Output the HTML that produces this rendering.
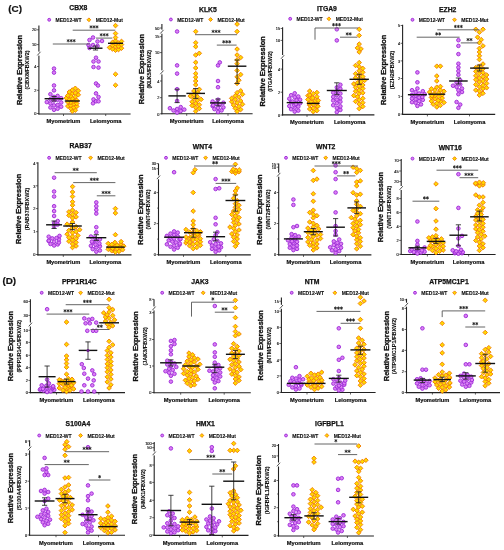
<!DOCTYPE html><html><head><meta charset="utf-8"><style>html,body{margin:0;padding:0;background:#fff;width:504px;height:550px;overflow:hidden}svg{display:block;will-change:transform}text{font-family:"Liberation Sans", sans-serif}</style></head><body><svg width="504" height="550" viewBox="0 0 504 550">
<text x="15.2" y="8.4" font-size="9.9" text-anchor="middle" font-weight="bold" fill="#111" stroke="#111" stroke-width="0.2" dominant-baseline="central">(C)</text>
<text x="9.3" y="280.4" font-size="9.9" text-anchor="middle" font-weight="bold" fill="#111" stroke="#111" stroke-width="0.2" dominant-baseline="central">(D)</text>
<text x="78.3" y="7.8" font-size="6.8" text-anchor="middle" font-weight="bold" fill="#111" stroke="#111" stroke-width="0.25" dominant-baseline="central">CBX8</text>
<circle cx="49.2" cy="19.8" r="1.45" fill="#dc80f4" stroke="#9b27d6" stroke-width="0.9"/>
<text x="55.5" y="19.8" font-size="5.0" text-anchor="start" font-weight="bold" fill="#111" stroke="#111" stroke-width="0.12" dominant-baseline="central">MED12-WT</text>
<path d="M88.9 17.9L90.8 19.8L88.9 21.7L87.0 19.8Z" fill="#ffd900" stroke="#f07a00" stroke-width="0.9"/>
<text x="95.7" y="19.8" font-size="5.0" text-anchor="start" font-weight="bold" fill="#111" stroke="#111" stroke-width="0.12" dominant-baseline="central">MED12-Mut</text>
<line x1="38.9" y1="25.5" x2="38.9" y2="114.5" stroke="#222" stroke-width="1.1"/>
<line x1="38.4" y1="114.0" x2="130.6" y2="114.0" stroke="#222" stroke-width="1.1"/>
<line x1="36.9" y1="29.8" x2="38.9" y2="29.8" stroke="#222" stroke-width="0.7"/>
<text x="36.4" y="29.9" font-size="3.9" text-anchor="end" font-weight="normal" fill="#111" stroke="#111" stroke-width="0.15" dominant-baseline="central">20</text>
<line x1="36.9" y1="44.6" x2="38.9" y2="44.6" stroke="#222" stroke-width="0.7"/>
<text x="36.4" y="44.8" font-size="3.9" text-anchor="end" font-weight="normal" fill="#111" stroke="#111" stroke-width="0.15" dominant-baseline="central">10</text>
<line x1="36.9" y1="66.5" x2="38.9" y2="66.5" stroke="#222" stroke-width="0.7"/>
<text x="36.4" y="66.7" font-size="3.9" text-anchor="end" font-weight="normal" fill="#111" stroke="#111" stroke-width="0.15" dominant-baseline="central">4</text>
<line x1="36.9" y1="90.3" x2="38.9" y2="90.3" stroke="#222" stroke-width="0.7"/>
<text x="36.4" y="90.5" font-size="3.9" text-anchor="end" font-weight="normal" fill="#111" stroke="#111" stroke-width="0.15" dominant-baseline="central">2</text>
<line x1="36.9" y1="113.5" x2="38.9" y2="113.5" stroke="#222" stroke-width="0.7"/>
<text x="36.4" y="113.7" font-size="3.9" text-anchor="end" font-weight="normal" fill="#111" stroke="#111" stroke-width="0.15" dominant-baseline="central">0</text>
<rect x="37.4" y="51.6" width="3" height="4" fill="#fff"/>
<line x1="37.3" y1="55.4" x2="40.5" y2="51.8" stroke="#222" stroke-width="0.8"/>
<line x1="63.5" y1="114.0" x2="63.5" y2="116.0" stroke="#222" stroke-width="0.7"/>
<line x1="105.7" y1="114.0" x2="105.7" y2="116.0" stroke="#222" stroke-width="0.7"/>
<text x="63.5" y="120.6" font-size="5.7" text-anchor="middle" font-weight="bold" fill="#111" stroke="#111" stroke-width="0.2" dominant-baseline="central">Myometrium</text>
<text x="105.7" y="120.6" font-size="5.7" text-anchor="middle" font-weight="bold" fill="#111" stroke="#111" stroke-width="0.2" dominant-baseline="central">Leiomyoma</text>
<text x="19.3" y="70.0" font-size="7.4" text-anchor="middle" font-weight="bold" fill="#111" stroke="#111" stroke-width="0.3" dominant-baseline="central" transform="rotate(-90 19.3 70.0)">Relative Expression</text>
<text x="27.3" y="70.0" font-size="5.5" text-anchor="middle" font-weight="bold" fill="#111" stroke="#111" stroke-width="0.12" dominant-baseline="central" transform="rotate(-90 27.3 70.0)">(CBX8/FBXW2)</text>
<circle cx="54.0" cy="109.8" r="1.8" fill="#dc80f4" stroke="#9b27d6" stroke-width="0.9"/>
<circle cx="57.6" cy="108.7" r="1.8" fill="#dc80f4" stroke="#9b27d6" stroke-width="0.9"/>
<circle cx="50.4" cy="107.5" r="1.8" fill="#dc80f4" stroke="#9b27d6" stroke-width="0.9"/>
<circle cx="61.2" cy="106.7" r="1.8" fill="#dc80f4" stroke="#9b27d6" stroke-width="0.9"/>
<circle cx="54.0" cy="105.4" r="1.8" fill="#dc80f4" stroke="#9b27d6" stroke-width="0.9"/>
<circle cx="57.6" cy="104.9" r="1.8" fill="#dc80f4" stroke="#9b27d6" stroke-width="0.9"/>
<circle cx="50.4" cy="103.4" r="1.8" fill="#dc80f4" stroke="#9b27d6" stroke-width="0.9"/>
<circle cx="61.2" cy="102.5" r="1.8" fill="#dc80f4" stroke="#9b27d6" stroke-width="0.9"/>
<circle cx="46.8" cy="102.1" r="1.8" fill="#dc80f4" stroke="#9b27d6" stroke-width="0.9"/>
<circle cx="54.0" cy="100.5" r="1.8" fill="#dc80f4" stroke="#9b27d6" stroke-width="0.9"/>
<circle cx="57.6" cy="99.7" r="1.8" fill="#dc80f4" stroke="#9b27d6" stroke-width="0.9"/>
<circle cx="50.4" cy="99.2" r="1.8" fill="#dc80f4" stroke="#9b27d6" stroke-width="0.9"/>
<circle cx="61.2" cy="98.2" r="1.8" fill="#dc80f4" stroke="#9b27d6" stroke-width="0.9"/>
<circle cx="54.0" cy="96.9" r="1.8" fill="#dc80f4" stroke="#9b27d6" stroke-width="0.9"/>
<circle cx="57.6" cy="95.9" r="1.8" fill="#dc80f4" stroke="#9b27d6" stroke-width="0.9"/>
<circle cx="50.4" cy="94.2" r="1.8" fill="#dc80f4" stroke="#9b27d6" stroke-width="0.9"/>
<circle cx="54.0" cy="90.4" r="1.8" fill="#dc80f4" stroke="#9b27d6" stroke-width="0.9"/>
<circle cx="54.0" cy="85.5" r="1.8" fill="#dc80f4" stroke="#9b27d6" stroke-width="0.9"/>
<circle cx="54.0" cy="72.6" r="1.8" fill="#dc80f4" stroke="#9b27d6" stroke-width="0.9"/>
<circle cx="54.0" cy="68.6" r="1.8" fill="#dc80f4" stroke="#9b27d6" stroke-width="0.9"/>
<path d="M72.3 108.9L74.6 111.2L72.3 113.5L70.0 111.2Z" fill="#ffd900" stroke="#f07a00" stroke-width="0.9"/>
<path d="M75.3 107.9L77.6 110.2L75.3 112.5L73.0 110.2Z" fill="#ffd900" stroke="#f07a00" stroke-width="0.9"/>
<path d="M70.8 106.2L73.1 108.5L70.8 110.8L68.5 108.5Z" fill="#ffd900" stroke="#f07a00" stroke-width="0.9"/>
<path d="M73.8 105.1L76.1 107.4L73.8 109.7L71.5 107.4Z" fill="#ffd900" stroke="#f07a00" stroke-width="0.9"/>
<path d="M76.8 104.1L79.1 106.4L76.8 108.7L74.5 106.4Z" fill="#ffd900" stroke="#f07a00" stroke-width="0.9"/>
<path d="M67.8 103.8L70.1 106.1L67.8 108.4L65.5 106.1Z" fill="#ffd900" stroke="#f07a00" stroke-width="0.9"/>
<path d="M70.8 103.0L73.1 105.3L70.8 107.6L68.5 105.3Z" fill="#ffd900" stroke="#f07a00" stroke-width="0.9"/>
<path d="M73.8 101.7L76.1 104.0L73.8 106.3L71.5 104.0Z" fill="#ffd900" stroke="#f07a00" stroke-width="0.9"/>
<path d="M76.8 101.2L79.1 103.5L76.8 105.8L74.5 103.5Z" fill="#ffd900" stroke="#f07a00" stroke-width="0.9"/>
<path d="M70.8 100.1L73.1 102.4L70.8 104.7L68.5 102.4Z" fill="#ffd900" stroke="#f07a00" stroke-width="0.9"/>
<path d="M67.8 99.7L70.1 102.0L67.8 104.3L65.5 102.0Z" fill="#ffd900" stroke="#f07a00" stroke-width="0.9"/>
<path d="M73.8 98.8L76.1 101.1L73.8 103.4L71.5 101.1Z" fill="#ffd900" stroke="#f07a00" stroke-width="0.9"/>
<path d="M76.8 98.1L79.1 100.4L76.8 102.7L74.5 100.4Z" fill="#ffd900" stroke="#f07a00" stroke-width="0.9"/>
<path d="M69.3 97.2L71.6 99.5L69.3 101.8L67.0 99.5Z" fill="#ffd900" stroke="#f07a00" stroke-width="0.9"/>
<path d="M72.3 96.3L74.6 98.6L72.3 100.9L70.0 98.6Z" fill="#ffd900" stroke="#f07a00" stroke-width="0.9"/>
<path d="M66.3 95.8L68.6 98.1L66.3 100.4L64.0 98.1Z" fill="#ffd900" stroke="#f07a00" stroke-width="0.9"/>
<path d="M75.3 94.4L77.6 96.7L75.3 99.0L73.0 96.7Z" fill="#ffd900" stroke="#f07a00" stroke-width="0.9"/>
<path d="M70.8 93.8L73.1 96.1L70.8 98.4L68.5 96.1Z" fill="#ffd900" stroke="#f07a00" stroke-width="0.9"/>
<path d="M67.8 93.2L70.1 95.5L67.8 97.8L65.5 95.5Z" fill="#ffd900" stroke="#f07a00" stroke-width="0.9"/>
<path d="M78.3 92.5L80.6 94.8L78.3 97.1L76.0 94.8Z" fill="#ffd900" stroke="#f07a00" stroke-width="0.9"/>
<path d="M72.3 91.1L74.6 93.4L72.3 95.7L70.0 93.4Z" fill="#ffd900" stroke="#f07a00" stroke-width="0.9"/>
<path d="M75.3 90.6L77.6 92.9L75.3 95.2L73.0 92.9Z" fill="#ffd900" stroke="#f07a00" stroke-width="0.9"/>
<path d="M69.3 89.7L71.6 92.0L69.3 94.3L67.0 92.0Z" fill="#ffd900" stroke="#f07a00" stroke-width="0.9"/>
<path d="M78.3 88.5L80.6 90.8L78.3 93.1L76.0 90.8Z" fill="#ffd900" stroke="#f07a00" stroke-width="0.9"/>
<path d="M72.3 87.7L74.6 90.0L72.3 92.3L70.0 90.0Z" fill="#ffd900" stroke="#f07a00" stroke-width="0.9"/>
<path d="M75.3 86.0L77.6 88.3L75.3 90.6L73.0 88.3Z" fill="#ffd900" stroke="#f07a00" stroke-width="0.9"/>
<circle cx="93.0" cy="37.5" r="1.8" fill="#dc80f4" stroke="#9b27d6" stroke-width="0.9"/>
<circle cx="89.5" cy="40.0" r="1.8" fill="#dc80f4" stroke="#9b27d6" stroke-width="0.9"/>
<circle cx="97.5" cy="41.5" r="1.8" fill="#dc80f4" stroke="#9b27d6" stroke-width="0.9"/>
<circle cx="102.0" cy="41.0" r="1.8" fill="#dc80f4" stroke="#9b27d6" stroke-width="0.9"/>
<circle cx="88.5" cy="45.0" r="1.8" fill="#dc80f4" stroke="#9b27d6" stroke-width="0.9"/>
<circle cx="93.0" cy="45.0" r="1.8" fill="#dc80f4" stroke="#9b27d6" stroke-width="0.9"/>
<circle cx="97.5" cy="46.0" r="1.8" fill="#dc80f4" stroke="#9b27d6" stroke-width="0.9"/>
<circle cx="89.5" cy="48.0" r="1.8" fill="#dc80f4" stroke="#9b27d6" stroke-width="0.9"/>
<circle cx="96.0" cy="57.7" r="1.8" fill="#dc80f4" stroke="#9b27d6" stroke-width="0.9"/>
<circle cx="93.5" cy="61.5" r="1.8" fill="#dc80f4" stroke="#9b27d6" stroke-width="0.9"/>
<circle cx="98.5" cy="61.5" r="1.8" fill="#dc80f4" stroke="#9b27d6" stroke-width="0.9"/>
<circle cx="93.5" cy="67.0" r="1.8" fill="#dc80f4" stroke="#9b27d6" stroke-width="0.9"/>
<circle cx="98.5" cy="67.6" r="1.8" fill="#dc80f4" stroke="#9b27d6" stroke-width="0.9"/>
<circle cx="96.0" cy="83.5" r="1.8" fill="#dc80f4" stroke="#9b27d6" stroke-width="0.9"/>
<circle cx="98.0" cy="85.5" r="1.8" fill="#dc80f4" stroke="#9b27d6" stroke-width="0.9"/>
<circle cx="96.0" cy="93.4" r="1.8" fill="#dc80f4" stroke="#9b27d6" stroke-width="0.9"/>
<circle cx="98.5" cy="97.0" r="1.8" fill="#dc80f4" stroke="#9b27d6" stroke-width="0.9"/>
<circle cx="93.5" cy="99.4" r="1.8" fill="#dc80f4" stroke="#9b27d6" stroke-width="0.9"/>
<circle cx="96.0" cy="101.3" r="1.8" fill="#dc80f4" stroke="#9b27d6" stroke-width="0.9"/>
<circle cx="98.5" cy="101.3" r="1.8" fill="#dc80f4" stroke="#9b27d6" stroke-width="0.9"/>
<circle cx="93.0" cy="103.3" r="1.8" fill="#dc80f4" stroke="#9b27d6" stroke-width="0.9"/>
<path d="M115.5 82.9L117.8 85.2L115.5 87.5L113.2 85.2Z" fill="#ffd900" stroke="#f07a00" stroke-width="0.9"/>
<path d="M115.5 71.9L117.8 74.2L115.5 76.5L113.2 74.2Z" fill="#ffd900" stroke="#f07a00" stroke-width="0.9"/>
<path d="M115.5 47.9L117.8 50.2L115.5 52.5L113.2 50.2Z" fill="#ffd900" stroke="#f07a00" stroke-width="0.9"/>
<path d="M118.5 47.3L120.8 49.6L118.5 51.9L116.2 49.6Z" fill="#ffd900" stroke="#f07a00" stroke-width="0.9"/>
<path d="M112.5 46.7L114.8 49.0L112.5 51.3L110.2 49.0Z" fill="#ffd900" stroke="#f07a00" stroke-width="0.9"/>
<path d="M121.5 45.9L123.8 48.2L121.5 50.5L119.2 48.2Z" fill="#ffd900" stroke="#f07a00" stroke-width="0.9"/>
<path d="M109.5 45.2L111.8 47.5L109.5 49.8L107.2 47.5Z" fill="#ffd900" stroke="#f07a00" stroke-width="0.9"/>
<path d="M115.5 44.3L117.8 46.6L115.5 48.9L113.2 46.6Z" fill="#ffd900" stroke="#f07a00" stroke-width="0.9"/>
<path d="M118.5 43.8L120.8 46.1L118.5 48.4L116.2 46.1Z" fill="#ffd900" stroke="#f07a00" stroke-width="0.9"/>
<path d="M112.5 42.9L114.8 45.2L112.5 47.5L110.2 45.2Z" fill="#ffd900" stroke="#f07a00" stroke-width="0.9"/>
<path d="M121.5 42.3L123.8 44.6L121.5 46.9L119.2 44.6Z" fill="#ffd900" stroke="#f07a00" stroke-width="0.9"/>
<path d="M115.5 41.4L117.8 43.7L115.5 46.0L113.2 43.7Z" fill="#ffd900" stroke="#f07a00" stroke-width="0.9"/>
<path d="M118.5 40.7L120.8 43.0L118.5 45.3L116.2 43.0Z" fill="#ffd900" stroke="#f07a00" stroke-width="0.9"/>
<path d="M112.5 40.1L114.8 42.4L112.5 44.7L110.2 42.4Z" fill="#ffd900" stroke="#f07a00" stroke-width="0.9"/>
<path d="M121.5 39.1L123.8 41.4L121.5 43.7L119.2 41.4Z" fill="#ffd900" stroke="#f07a00" stroke-width="0.9"/>
<path d="M115.5 38.3L117.8 40.6L115.5 42.9L113.2 40.6Z" fill="#ffd900" stroke="#f07a00" stroke-width="0.9"/>
<path d="M115.5 35.2L117.8 37.5L115.5 39.8L113.2 37.5Z" fill="#ffd900" stroke="#f07a00" stroke-width="0.9"/>
<path d="M115.5 31.2L117.8 33.5L115.5 35.8L113.2 33.5Z" fill="#ffd900" stroke="#f07a00" stroke-width="0.9"/>
<path d="M115.5 23.3L117.8 25.6L115.5 27.9L113.2 25.6Z" fill="#ffd900" stroke="#f07a00" stroke-width="0.9"/>
<line x1="54.0" y1="96.5" x2="54.0" y2="101.0" stroke="#222" stroke-width="0.85"/>
<line x1="51.4" y1="96.5" x2="56.6" y2="96.5" stroke="#222" stroke-width="0.85"/>
<line x1="51.4" y1="101.0" x2="56.6" y2="101.0" stroke="#222" stroke-width="0.85"/>
<line x1="44.6" y1="98.7" x2="63.4" y2="98.7" stroke="#111" stroke-width="1.4"/>
<line x1="64.8" y1="101.0" x2="79.8" y2="101.0" stroke="#111" stroke-width="1.4"/>
<line x1="95.5" y1="46.0" x2="95.5" y2="50.0" stroke="#222" stroke-width="0.85"/>
<line x1="92.9" y1="46.0" x2="98.1" y2="46.0" stroke="#222" stroke-width="0.85"/>
<line x1="92.9" y1="50.0" x2="98.1" y2="50.0" stroke="#222" stroke-width="0.85"/>
<line x1="88.5" y1="48.2" x2="102.5" y2="48.2" stroke="#111" stroke-width="1.4"/>
<line x1="108.0" y1="43.3" x2="123.0" y2="43.3" stroke="#111" stroke-width="1.4"/>
<line x1="72.7" y1="30.2" x2="115.3" y2="30.2" stroke="#555" stroke-width="0.9"/>
<path d="M91.0 25.3L91.0 28.5M89.6 26.1L92.4 27.7M92.4 26.1L89.6 27.7" stroke="#222" stroke-width="0.85" fill="none"/>
<path d="M94.0 25.3L94.0 28.5M92.6 26.1L95.4 27.7M95.4 26.1L92.6 27.7" stroke="#222" stroke-width="0.85" fill="none"/>
<path d="M97.0 25.3L97.0 28.5M95.6 26.1L98.4 27.7M98.4 26.1L95.6 27.7" stroke="#222" stroke-width="0.85" fill="none"/>
<line x1="96.0" y1="38.1" x2="112.3" y2="38.1" stroke="#555" stroke-width="0.9"/>
<path d="M101.2 33.2L101.2 36.4M99.8 34.0L102.5 35.6M102.5 34.0L99.8 35.6" stroke="#222" stroke-width="0.85" fill="none"/>
<path d="M104.2 33.2L104.2 36.4M102.8 34.0L105.5 35.6M105.5 34.0L102.8 35.6" stroke="#222" stroke-width="0.85" fill="none"/>
<path d="M107.2 33.2L107.2 36.4M105.8 34.0L108.5 35.6M108.5 34.0L105.8 35.6" stroke="#222" stroke-width="0.85" fill="none"/>
<line x1="52.8" y1="44.0" x2="89.5" y2="44.0" stroke="#555" stroke-width="0.9"/>
<path d="M68.2 39.1L68.2 42.3M66.8 39.9L69.5 41.5M69.5 39.9L66.8 41.5" stroke="#222" stroke-width="0.85" fill="none"/>
<path d="M71.2 39.1L71.2 42.3M69.8 39.9L72.5 41.5M72.5 39.9L69.8 41.5" stroke="#222" stroke-width="0.85" fill="none"/>
<path d="M74.2 39.1L74.2 42.3M72.8 39.9L75.5 41.5M75.5 39.9L72.8 41.5" stroke="#222" stroke-width="0.85" fill="none"/>
<text x="207.9" y="9.0" font-size="6.8" text-anchor="middle" font-weight="bold" fill="#111" stroke="#111" stroke-width="0.25" dominant-baseline="central">KLK5</text>
<circle cx="170.9" cy="19.5" r="1.45" fill="#dc80f4" stroke="#9b27d6" stroke-width="0.9"/>
<text x="177.2" y="19.5" font-size="5.0" text-anchor="start" font-weight="bold" fill="#111" stroke="#111" stroke-width="0.12" dominant-baseline="central">MED12-WT</text>
<path d="M210.6 17.6L212.5 19.5L210.6 21.4L208.7 19.5Z" fill="#ffd900" stroke="#f07a00" stroke-width="0.9"/>
<text x="217.4" y="19.5" font-size="5.0" text-anchor="start" font-weight="bold" fill="#111" stroke="#111" stroke-width="0.12" dominant-baseline="central">MED12-Mut</text>
<line x1="161.9" y1="24.0" x2="161.9" y2="114.3" stroke="#222" stroke-width="1.1"/>
<line x1="161.3" y1="113.8" x2="252.6" y2="113.8" stroke="#222" stroke-width="1.1"/>
<line x1="159.9" y1="28.0" x2="161.9" y2="28.0" stroke="#222" stroke-width="0.7"/>
<text x="159.4" y="28.1" font-size="3.9" text-anchor="end" font-weight="normal" fill="#111" stroke="#111" stroke-width="0.15" dominant-baseline="central">50</text>
<line x1="159.9" y1="36.7" x2="161.9" y2="36.7" stroke="#222" stroke-width="0.7"/>
<text x="159.4" y="36.9" font-size="3.9" text-anchor="end" font-weight="normal" fill="#111" stroke="#111" stroke-width="0.15" dominant-baseline="central">15</text>
<line x1="159.9" y1="52.6" x2="161.9" y2="52.6" stroke="#222" stroke-width="0.7"/>
<text x="159.4" y="52.8" font-size="3.9" text-anchor="end" font-weight="normal" fill="#111" stroke="#111" stroke-width="0.15" dominant-baseline="central">10</text>
<line x1="159.9" y1="81.0" x2="161.9" y2="81.0" stroke="#222" stroke-width="0.7"/>
<text x="159.4" y="81.2" font-size="3.9" text-anchor="end" font-weight="normal" fill="#111" stroke="#111" stroke-width="0.15" dominant-baseline="central">4</text>
<line x1="159.9" y1="97.7" x2="161.9" y2="97.7" stroke="#222" stroke-width="0.7"/>
<text x="159.4" y="97.9" font-size="3.9" text-anchor="end" font-weight="normal" fill="#111" stroke="#111" stroke-width="0.15" dominant-baseline="central">2</text>
<line x1="159.9" y1="113.8" x2="161.9" y2="113.8" stroke="#222" stroke-width="0.7"/>
<text x="159.4" y="114.0" font-size="3.9" text-anchor="end" font-weight="normal" fill="#111" stroke="#111" stroke-width="0.15" dominant-baseline="central">0</text>
<rect x="160.4" y="29.7" width="3" height="4" fill="#fff"/>
<line x1="160.3" y1="33.5" x2="163.5" y2="29.9" stroke="#222" stroke-width="0.8"/>
<rect x="160.4" y="70.4" width="3" height="4" fill="#fff"/>
<line x1="160.3" y1="74.2" x2="163.5" y2="70.6" stroke="#222" stroke-width="0.8"/>
<line x1="186.7" y1="113.8" x2="186.7" y2="115.8" stroke="#222" stroke-width="0.7"/>
<line x1="228.0" y1="113.8" x2="228.0" y2="115.8" stroke="#222" stroke-width="0.7"/>
<text x="186.7" y="121.3" font-size="5.7" text-anchor="middle" font-weight="bold" fill="#111" stroke="#111" stroke-width="0.2" dominant-baseline="central">Myometrium</text>
<text x="228.0" y="121.3" font-size="5.7" text-anchor="middle" font-weight="bold" fill="#111" stroke="#111" stroke-width="0.2" dominant-baseline="central">Leiomyoma</text>
<text x="141.5" y="69.2" font-size="7.4" text-anchor="middle" font-weight="bold" fill="#111" stroke="#111" stroke-width="0.3" dominant-baseline="central" transform="rotate(-90 141.5 69.2)">Relative Expression</text>
<text x="149.5" y="69.2" font-size="5.5" text-anchor="middle" font-weight="bold" fill="#111" stroke="#111" stroke-width="0.12" dominant-baseline="central" transform="rotate(-90 149.5 69.2)">(KLK5/FBXW2)</text>
<circle cx="177.1" cy="112.6" r="1.8" fill="#dc80f4" stroke="#9b27d6" stroke-width="0.9"/>
<circle cx="180.7" cy="111.0" r="1.8" fill="#dc80f4" stroke="#9b27d6" stroke-width="0.9"/>
<circle cx="173.5" cy="110.5" r="1.8" fill="#dc80f4" stroke="#9b27d6" stroke-width="0.9"/>
<circle cx="184.3" cy="109.6" r="1.8" fill="#dc80f4" stroke="#9b27d6" stroke-width="0.9"/>
<circle cx="177.1" cy="109.0" r="1.8" fill="#dc80f4" stroke="#9b27d6" stroke-width="0.9"/>
<circle cx="169.9" cy="108.2" r="1.8" fill="#dc80f4" stroke="#9b27d6" stroke-width="0.9"/>
<circle cx="180.7" cy="107.1" r="1.8" fill="#dc80f4" stroke="#9b27d6" stroke-width="0.9"/>
<circle cx="177.1" cy="100.9" r="1.8" fill="#dc80f4" stroke="#9b27d6" stroke-width="0.9"/>
<circle cx="177.1" cy="89.2" r="1.8" fill="#dc80f4" stroke="#9b27d6" stroke-width="0.9"/>
<circle cx="177.1" cy="73.6" r="1.8" fill="#dc80f4" stroke="#9b27d6" stroke-width="0.9"/>
<circle cx="177.1" cy="65.4" r="1.8" fill="#dc80f4" stroke="#9b27d6" stroke-width="0.9"/>
<circle cx="177.1" cy="31.5" r="1.8" fill="#dc80f4" stroke="#9b27d6" stroke-width="0.9"/>
<path d="M195.7 108.9L198.0 111.2L195.7 113.5L193.4 111.2Z" fill="#ffd900" stroke="#f07a00" stroke-width="0.9"/>
<path d="M199.3 106.3L201.6 108.6L199.3 110.9L197.0 108.6Z" fill="#ffd900" stroke="#f07a00" stroke-width="0.9"/>
<path d="M195.7 105.2L198.0 107.5L195.7 109.8L193.4 107.5Z" fill="#ffd900" stroke="#f07a00" stroke-width="0.9"/>
<path d="M192.1 103.2L194.4 105.5L192.1 107.8L189.8 105.5Z" fill="#ffd900" stroke="#f07a00" stroke-width="0.9"/>
<path d="M199.3 102.5L201.6 104.8L199.3 107.1L197.0 104.8Z" fill="#ffd900" stroke="#f07a00" stroke-width="0.9"/>
<path d="M195.7 101.1L198.0 103.4L195.7 105.7L193.4 103.4Z" fill="#ffd900" stroke="#f07a00" stroke-width="0.9"/>
<path d="M192.1 99.5L194.4 101.8L192.1 104.1L189.8 101.8Z" fill="#ffd900" stroke="#f07a00" stroke-width="0.9"/>
<path d="M197.5 98.1L199.8 100.4L197.5 102.7L195.2 100.4Z" fill="#ffd900" stroke="#f07a00" stroke-width="0.9"/>
<path d="M201.1 97.1L203.4 99.4L201.1 101.7L198.8 99.4Z" fill="#ffd900" stroke="#f07a00" stroke-width="0.9"/>
<path d="M193.9 96.2L196.2 98.5L193.9 100.8L191.6 98.5Z" fill="#ffd900" stroke="#f07a00" stroke-width="0.9"/>
<path d="M197.5 94.4L199.8 96.7L197.5 99.0L195.2 96.7Z" fill="#ffd900" stroke="#f07a00" stroke-width="0.9"/>
<path d="M190.3 93.8L192.6 96.1L190.3 98.4L188.0 96.1Z" fill="#ffd900" stroke="#f07a00" stroke-width="0.9"/>
<path d="M193.9 92.3L196.2 94.6L193.9 96.9L191.6 94.6Z" fill="#ffd900" stroke="#f07a00" stroke-width="0.9"/>
<path d="M197.5 90.2L199.8 92.5L197.5 94.8L195.2 92.5Z" fill="#ffd900" stroke="#f07a00" stroke-width="0.9"/>
<path d="M193.9 88.7L196.2 91.0L193.9 93.3L191.6 91.0Z" fill="#ffd900" stroke="#f07a00" stroke-width="0.9"/>
<path d="M199.3 87.0L201.6 89.3L199.3 91.6L197.0 89.3Z" fill="#ffd900" stroke="#f07a00" stroke-width="0.9"/>
<path d="M195.7 82.5L198.0 84.8L195.7 87.1L193.4 84.8Z" fill="#ffd900" stroke="#f07a00" stroke-width="0.9"/>
<path d="M195.7 78.7L198.0 81.0L195.7 83.3L193.4 81.0Z" fill="#ffd900" stroke="#f07a00" stroke-width="0.9"/>
<path d="M195.7 75.0L198.0 77.3L195.7 79.6L193.4 77.3Z" fill="#ffd900" stroke="#f07a00" stroke-width="0.9"/>
<path d="M195.7 71.3L198.0 73.6L195.7 75.9L193.4 73.6Z" fill="#ffd900" stroke="#f07a00" stroke-width="0.9"/>
<path d="M195.7 65.6L198.0 67.9L195.7 70.2L193.4 67.9Z" fill="#ffd900" stroke="#f07a00" stroke-width="0.9"/>
<path d="M195.7 60.1L198.0 62.4L195.7 64.7L193.4 62.4Z" fill="#ffd900" stroke="#f07a00" stroke-width="0.9"/>
<path d="M195.7 52.7L198.0 55.0L195.7 57.3L193.4 55.0Z" fill="#ffd900" stroke="#f07a00" stroke-width="0.9"/>
<path d="M199.3 51.0L201.6 53.3L199.3 55.6L197.0 53.3Z" fill="#ffd900" stroke="#f07a00" stroke-width="0.9"/>
<path d="M195.7 44.3L198.0 46.6L195.7 48.9L193.4 46.6Z" fill="#ffd900" stroke="#f07a00" stroke-width="0.9"/>
<path d="M195.7 40.4L198.0 42.7L195.7 45.0L193.4 42.7Z" fill="#ffd900" stroke="#f07a00" stroke-width="0.9"/>
<path d="M195.7 29.2L198.0 31.5L195.7 33.8L193.4 31.5Z" fill="#ffd900" stroke="#f07a00" stroke-width="0.9"/>
<circle cx="218.0" cy="112.0" r="1.8" fill="#dc80f4" stroke="#9b27d6" stroke-width="0.9"/>
<circle cx="221.6" cy="110.4" r="1.8" fill="#dc80f4" stroke="#9b27d6" stroke-width="0.9"/>
<circle cx="214.4" cy="109.1" r="1.8" fill="#dc80f4" stroke="#9b27d6" stroke-width="0.9"/>
<circle cx="218.0" cy="107.9" r="1.8" fill="#dc80f4" stroke="#9b27d6" stroke-width="0.9"/>
<circle cx="223.4" cy="107.4" r="1.8" fill="#dc80f4" stroke="#9b27d6" stroke-width="0.9"/>
<circle cx="212.6" cy="106.0" r="1.8" fill="#dc80f4" stroke="#9b27d6" stroke-width="0.9"/>
<circle cx="213.2" cy="105.2" r="1.8" fill="#dc80f4" stroke="#9b27d6" stroke-width="0.9"/>
<circle cx="219.8" cy="104.8" r="1.8" fill="#dc80f4" stroke="#9b27d6" stroke-width="0.9"/>
<circle cx="216.2" cy="103.4" r="1.8" fill="#dc80f4" stroke="#9b27d6" stroke-width="0.9"/>
<circle cx="223.4" cy="102.7" r="1.8" fill="#dc80f4" stroke="#9b27d6" stroke-width="0.9"/>
<circle cx="212.6" cy="101.5" r="1.8" fill="#dc80f4" stroke="#9b27d6" stroke-width="0.9"/>
<circle cx="218.0" cy="99.7" r="1.8" fill="#dc80f4" stroke="#9b27d6" stroke-width="0.9"/>
<circle cx="218.0" cy="87.2" r="1.8" fill="#dc80f4" stroke="#9b27d6" stroke-width="0.9"/>
<circle cx="218.0" cy="81.0" r="1.8" fill="#dc80f4" stroke="#9b27d6" stroke-width="0.9"/>
<circle cx="218.0" cy="65.4" r="1.8" fill="#dc80f4" stroke="#9b27d6" stroke-width="0.9"/>
<circle cx="219.8" cy="62.4" r="1.8" fill="#dc80f4" stroke="#9b27d6" stroke-width="0.9"/>
<path d="M237.1 109.1L239.4 111.4L237.1 113.7L234.8 111.4Z" fill="#ffd900" stroke="#f07a00" stroke-width="0.9"/>
<path d="M240.7 107.2L243.0 109.5L240.7 111.8L238.4 109.5Z" fill="#ffd900" stroke="#f07a00" stroke-width="0.9"/>
<path d="M235.3 106.1L237.6 108.4L235.3 110.7L233.0 108.4Z" fill="#ffd900" stroke="#f07a00" stroke-width="0.9"/>
<path d="M238.9 104.2L241.2 106.5L238.9 108.8L236.6 106.5Z" fill="#ffd900" stroke="#f07a00" stroke-width="0.9"/>
<path d="M233.5 102.8L235.8 105.1L233.5 107.4L231.2 105.1Z" fill="#ffd900" stroke="#f07a00" stroke-width="0.9"/>
<path d="M242.5 102.0L244.8 104.3L242.5 106.6L240.2 104.3Z" fill="#ffd900" stroke="#f07a00" stroke-width="0.9"/>
<path d="M237.1 100.5L239.4 102.8L237.1 105.1L234.8 102.8Z" fill="#ffd900" stroke="#f07a00" stroke-width="0.9"/>
<path d="M231.7 99.4L234.0 101.7L231.7 104.0L229.4 101.7Z" fill="#ffd900" stroke="#f07a00" stroke-width="0.9"/>
<path d="M240.7 98.6L243.0 100.9L240.7 103.2L238.4 100.9Z" fill="#ffd900" stroke="#f07a00" stroke-width="0.9"/>
<path d="M235.3 97.2L237.6 99.5L235.3 101.8L233.0 99.5Z" fill="#ffd900" stroke="#f07a00" stroke-width="0.9"/>
<path d="M231.7 96.0L234.0 98.3L231.7 100.6L229.4 98.3Z" fill="#ffd900" stroke="#f07a00" stroke-width="0.9"/>
<path d="M238.9 94.7L241.2 97.0L238.9 99.3L236.6 97.0Z" fill="#ffd900" stroke="#f07a00" stroke-width="0.9"/>
<path d="M235.3 93.5L237.6 95.8L235.3 98.1L233.0 95.8Z" fill="#ffd900" stroke="#f07a00" stroke-width="0.9"/>
<path d="M242.5 92.0L244.8 94.3L242.5 96.6L240.2 94.3Z" fill="#ffd900" stroke="#f07a00" stroke-width="0.9"/>
<path d="M237.1 90.4L239.4 92.7L237.1 95.0L234.8 92.7Z" fill="#ffd900" stroke="#f07a00" stroke-width="0.9"/>
<path d="M240.7 88.5L243.0 90.8L240.7 93.1L238.4 90.8Z" fill="#ffd900" stroke="#f07a00" stroke-width="0.9"/>
<path d="M237.1 81.1L239.4 83.4L237.1 85.7L234.8 83.4Z" fill="#ffd900" stroke="#f07a00" stroke-width="0.9"/>
<path d="M238.9 77.9L241.2 80.2L238.9 82.5L236.6 80.2Z" fill="#ffd900" stroke="#f07a00" stroke-width="0.9"/>
<path d="M237.1 74.6L239.4 76.9L237.1 79.2L234.8 76.9Z" fill="#ffd900" stroke="#f07a00" stroke-width="0.9"/>
<path d="M240.7 72.2L243.0 74.5L240.7 76.8L238.4 74.5Z" fill="#ffd900" stroke="#f07a00" stroke-width="0.9"/>
<path d="M237.1 68.2L239.4 70.5L237.1 72.8L234.8 70.5Z" fill="#ffd900" stroke="#f07a00" stroke-width="0.9"/>
<path d="M237.1 61.4L239.4 63.7L237.1 66.0L234.8 63.7Z" fill="#ffd900" stroke="#f07a00" stroke-width="0.9"/>
<path d="M237.1 57.7L239.4 60.0L237.1 62.3L234.8 60.0Z" fill="#ffd900" stroke="#f07a00" stroke-width="0.9"/>
<path d="M240.7 55.2L243.0 57.5L240.7 59.8L238.4 57.5Z" fill="#ffd900" stroke="#f07a00" stroke-width="0.9"/>
<path d="M237.1 52.7L239.4 55.0L237.1 57.3L234.8 55.0Z" fill="#ffd900" stroke="#f07a00" stroke-width="0.9"/>
<path d="M237.1 46.8L239.4 49.1L237.1 51.4L234.8 49.1Z" fill="#ffd900" stroke="#f07a00" stroke-width="0.9"/>
<path d="M237.1 29.2L239.4 31.5L237.1 33.8L234.8 31.5Z" fill="#ffd900" stroke="#f07a00" stroke-width="0.9"/>
<path d="M237.1 21.8L239.4 24.1L237.1 26.4L234.8 24.1Z" fill="#ffd900" stroke="#f07a00" stroke-width="0.9"/>
<line x1="177.1" y1="89.2" x2="177.1" y2="102.6" stroke="#222" stroke-width="0.85"/>
<line x1="174.5" y1="89.2" x2="179.7" y2="89.2" stroke="#222" stroke-width="0.85"/>
<line x1="174.5" y1="102.6" x2="179.7" y2="102.6" stroke="#222" stroke-width="0.85"/>
<line x1="168.4" y1="95.9" x2="185.8" y2="95.9" stroke="#111" stroke-width="1.4"/>
<line x1="195.7" y1="88.5" x2="195.7" y2="98.4" stroke="#222" stroke-width="0.85"/>
<line x1="193.1" y1="88.5" x2="198.3" y2="88.5" stroke="#222" stroke-width="0.85"/>
<line x1="193.1" y1="98.4" x2="198.3" y2="98.4" stroke="#222" stroke-width="0.85"/>
<line x1="186.4" y1="93.4" x2="205.0" y2="93.4" stroke="#111" stroke-width="1.4"/>
<line x1="218.0" y1="99.0" x2="218.0" y2="105.8" stroke="#222" stroke-width="0.85"/>
<line x1="215.4" y1="99.0" x2="220.6" y2="99.0" stroke="#222" stroke-width="0.85"/>
<line x1="215.4" y1="105.8" x2="220.6" y2="105.8" stroke="#222" stroke-width="0.85"/>
<line x1="210.0" y1="102.9" x2="226.0" y2="102.9" stroke="#111" stroke-width="1.4"/>
<line x1="237.1" y1="60.0" x2="237.1" y2="83.5" stroke="#222" stroke-width="0.85"/>
<line x1="234.5" y1="60.0" x2="239.7" y2="60.0" stroke="#222" stroke-width="0.85"/>
<line x1="234.5" y1="83.5" x2="239.7" y2="83.5" stroke="#222" stroke-width="0.85"/>
<line x1="227.8" y1="66.2" x2="246.4" y2="66.2" stroke="#111" stroke-width="1.4"/>
<line x1="195.0" y1="34.7" x2="237.1" y2="34.7" stroke="#555" stroke-width="0.9"/>
<path d="M213.1 29.8L213.1 33.0M211.7 30.6L214.4 32.2M214.4 30.6L211.7 32.2" stroke="#222" stroke-width="0.85" fill="none"/>
<path d="M216.1 29.8L216.1 33.0M214.7 30.6L217.4 32.2M217.4 30.6L214.7 32.2" stroke="#222" stroke-width="0.85" fill="none"/>
<path d="M219.1 29.8L219.1 33.0M217.7 30.6L220.4 32.2M220.4 30.6L217.7 32.2" stroke="#222" stroke-width="0.85" fill="none"/>
<line x1="216.8" y1="45.1" x2="236.6" y2="45.1" stroke="#555" stroke-width="0.9"/>
<path d="M223.7 40.2L223.7 43.4M222.3 41.0L225.1 42.6M225.1 41.0L222.3 42.6" stroke="#222" stroke-width="0.85" fill="none"/>
<path d="M226.7 40.2L226.7 43.4M225.3 41.0L228.1 42.6M228.1 41.0L225.3 42.6" stroke="#222" stroke-width="0.85" fill="none"/>
<path d="M229.7 40.2L229.7 43.4M228.3 41.0L231.1 42.6M231.1 41.0L228.3 42.6" stroke="#222" stroke-width="0.85" fill="none"/>
<text x="326.9" y="8.8" font-size="6.8" text-anchor="middle" font-weight="bold" fill="#111" stroke="#111" stroke-width="0.25" dominant-baseline="central">ITGA9</text>
<circle cx="290.2" cy="18.8" r="1.45" fill="#dc80f4" stroke="#9b27d6" stroke-width="0.9"/>
<text x="296.5" y="18.8" font-size="5.0" text-anchor="start" font-weight="bold" fill="#111" stroke="#111" stroke-width="0.12" dominant-baseline="central">MED12-WT</text>
<path d="M328.9 16.9L330.8 18.8L328.9 20.7L327.0 18.8Z" fill="#ffd900" stroke="#f07a00" stroke-width="0.9"/>
<text x="335.7" y="18.8" font-size="5.0" text-anchor="start" font-weight="bold" fill="#111" stroke="#111" stroke-width="0.12" dominant-baseline="central">MED12-Mut</text>
<line x1="282.6" y1="27.3" x2="282.6" y2="115.5" stroke="#222" stroke-width="1.1"/>
<line x1="282.1" y1="114.9" x2="374.4" y2="114.9" stroke="#222" stroke-width="1.1"/>
<line x1="280.6" y1="28.5" x2="282.6" y2="28.5" stroke="#222" stroke-width="0.7"/>
<text x="280.1" y="28.6" font-size="3.9" text-anchor="end" font-weight="normal" fill="#111" stroke="#111" stroke-width="0.15" dominant-baseline="central">15</text>
<line x1="280.6" y1="40.4" x2="282.6" y2="40.4" stroke="#222" stroke-width="0.7"/>
<text x="280.1" y="40.5" font-size="3.9" text-anchor="end" font-weight="normal" fill="#111" stroke="#111" stroke-width="0.15" dominant-baseline="central">10</text>
<line x1="280.6" y1="69.1" x2="282.6" y2="69.1" stroke="#222" stroke-width="0.7"/>
<text x="280.1" y="69.2" font-size="3.9" text-anchor="end" font-weight="normal" fill="#111" stroke="#111" stroke-width="0.15" dominant-baseline="central">4</text>
<line x1="280.6" y1="92.2" x2="282.6" y2="92.2" stroke="#222" stroke-width="0.7"/>
<text x="280.1" y="92.4" font-size="3.9" text-anchor="end" font-weight="normal" fill="#111" stroke="#111" stroke-width="0.15" dominant-baseline="central">2</text>
<line x1="280.6" y1="115.0" x2="282.6" y2="115.0" stroke="#222" stroke-width="0.7"/>
<text x="280.1" y="115.2" font-size="3.9" text-anchor="end" font-weight="normal" fill="#111" stroke="#111" stroke-width="0.15" dominant-baseline="central">0</text>
<rect x="281.1" y="55.0" width="3" height="4" fill="#fff"/>
<line x1="281.0" y1="58.8" x2="284.2" y2="55.2" stroke="#222" stroke-width="0.8"/>
<line x1="307.0" y1="114.9" x2="307.0" y2="116.9" stroke="#222" stroke-width="0.7"/>
<line x1="349.7" y1="114.9" x2="349.7" y2="116.9" stroke="#222" stroke-width="0.7"/>
<text x="307.0" y="122.0" font-size="5.7" text-anchor="middle" font-weight="bold" fill="#111" stroke="#111" stroke-width="0.2" dominant-baseline="central">Myometrium</text>
<text x="349.7" y="122.0" font-size="5.7" text-anchor="middle" font-weight="bold" fill="#111" stroke="#111" stroke-width="0.2" dominant-baseline="central">Leiomyoma</text>
<text x="262.5" y="71.4" font-size="7.4" text-anchor="middle" font-weight="bold" fill="#111" stroke="#111" stroke-width="0.3" dominant-baseline="central" transform="rotate(-90 262.5 71.4)">Relative Expression</text>
<text x="270.5" y="71.4" font-size="5.5" text-anchor="middle" font-weight="bold" fill="#111" stroke="#111" stroke-width="0.12" dominant-baseline="central" transform="rotate(-90 270.5 71.4)">(ITGA9/FBXW2)</text>
<circle cx="294.7" cy="111.6" r="1.8" fill="#dc80f4" stroke="#9b27d6" stroke-width="0.9"/>
<circle cx="298.3" cy="110.6" r="1.8" fill="#dc80f4" stroke="#9b27d6" stroke-width="0.9"/>
<circle cx="291.1" cy="109.2" r="1.8" fill="#dc80f4" stroke="#9b27d6" stroke-width="0.9"/>
<circle cx="294.7" cy="107.6" r="1.8" fill="#dc80f4" stroke="#9b27d6" stroke-width="0.9"/>
<circle cx="298.3" cy="106.6" r="1.8" fill="#dc80f4" stroke="#9b27d6" stroke-width="0.9"/>
<circle cx="289.3" cy="106.1" r="1.8" fill="#dc80f4" stroke="#9b27d6" stroke-width="0.9"/>
<circle cx="294.2" cy="105.2" r="1.8" fill="#dc80f4" stroke="#9b27d6" stroke-width="0.9"/>
<circle cx="295.8" cy="104.0" r="1.8" fill="#dc80f4" stroke="#9b27d6" stroke-width="0.9"/>
<circle cx="300.1" cy="103.3" r="1.8" fill="#dc80f4" stroke="#9b27d6" stroke-width="0.9"/>
<circle cx="291.1" cy="102.3" r="1.8" fill="#dc80f4" stroke="#9b27d6" stroke-width="0.9"/>
<circle cx="292.5" cy="101.5" r="1.8" fill="#dc80f4" stroke="#9b27d6" stroke-width="0.9"/>
<circle cx="296.5" cy="100.1" r="1.8" fill="#dc80f4" stroke="#9b27d6" stroke-width="0.9"/>
<circle cx="300.1" cy="99.7" r="1.8" fill="#dc80f4" stroke="#9b27d6" stroke-width="0.9"/>
<circle cx="289.3" cy="98.7" r="1.8" fill="#dc80f4" stroke="#9b27d6" stroke-width="0.9"/>
<circle cx="294.7" cy="97.2" r="1.8" fill="#dc80f4" stroke="#9b27d6" stroke-width="0.9"/>
<circle cx="298.3" cy="96.5" r="1.8" fill="#dc80f4" stroke="#9b27d6" stroke-width="0.9"/>
<circle cx="291.1" cy="95.2" r="1.8" fill="#dc80f4" stroke="#9b27d6" stroke-width="0.9"/>
<circle cx="294.7" cy="93.3" r="1.8" fill="#dc80f4" stroke="#9b27d6" stroke-width="0.9"/>
<path d="M313.3 109.4L315.6 111.7L313.3 114.0L311.0 111.7Z" fill="#ffd900" stroke="#f07a00" stroke-width="0.9"/>
<path d="M316.9 108.3L319.2 110.6L316.9 112.9L314.6 110.6Z" fill="#ffd900" stroke="#f07a00" stroke-width="0.9"/>
<path d="M309.7 106.7L312.0 109.0L309.7 111.3L307.4 109.0Z" fill="#ffd900" stroke="#f07a00" stroke-width="0.9"/>
<path d="M313.3 105.7L315.6 108.0L313.3 110.3L311.0 108.0Z" fill="#ffd900" stroke="#f07a00" stroke-width="0.9"/>
<path d="M316.9 104.5L319.2 106.8L316.9 109.1L314.6 106.8Z" fill="#ffd900" stroke="#f07a00" stroke-width="0.9"/>
<path d="M317.9 104.0L320.2 106.3L317.9 108.6L315.6 106.3Z" fill="#ffd900" stroke="#f07a00" stroke-width="0.9"/>
<path d="M309.7 102.9L312.0 105.2L309.7 107.5L307.4 105.2Z" fill="#ffd900" stroke="#f07a00" stroke-width="0.9"/>
<path d="M313.3 101.9L315.6 104.2L313.3 106.5L311.0 104.2Z" fill="#ffd900" stroke="#f07a00" stroke-width="0.9"/>
<path d="M309.0 101.0L311.3 103.3L309.0 105.6L306.7 103.3Z" fill="#ffd900" stroke="#f07a00" stroke-width="0.9"/>
<path d="M316.9 100.7L319.2 103.0L316.9 105.3L314.6 103.0Z" fill="#ffd900" stroke="#f07a00" stroke-width="0.9"/>
<path d="M311.2 99.4L313.5 101.7L311.2 104.0L308.9 101.7Z" fill="#ffd900" stroke="#f07a00" stroke-width="0.9"/>
<path d="M315.3 98.6L317.6 100.9L315.3 103.2L313.0 100.9Z" fill="#ffd900" stroke="#f07a00" stroke-width="0.9"/>
<path d="M318.3 98.2L320.6 100.5L318.3 102.8L316.0 100.5Z" fill="#ffd900" stroke="#f07a00" stroke-width="0.9"/>
<path d="M307.9 97.2L310.2 99.5L307.9 101.8L305.6 99.5Z" fill="#ffd900" stroke="#f07a00" stroke-width="0.9"/>
<path d="M311.5 95.9L313.8 98.2L311.5 100.5L309.2 98.2Z" fill="#ffd900" stroke="#f07a00" stroke-width="0.9"/>
<path d="M312.7 95.6L315.0 97.9L312.7 100.2L310.4 97.9Z" fill="#ffd900" stroke="#f07a00" stroke-width="0.9"/>
<path d="M316.9 94.4L319.2 96.7L316.9 99.0L314.6 96.7Z" fill="#ffd900" stroke="#f07a00" stroke-width="0.9"/>
<path d="M307.9 93.4L310.2 95.7L307.9 98.0L305.6 95.7Z" fill="#ffd900" stroke="#f07a00" stroke-width="0.9"/>
<path d="M309.7 92.7L312.0 95.0L309.7 97.3L307.4 95.0Z" fill="#ffd900" stroke="#f07a00" stroke-width="0.9"/>
<path d="M313.3 91.4L315.6 93.7L313.3 96.0L311.0 93.7Z" fill="#ffd900" stroke="#f07a00" stroke-width="0.9"/>
<path d="M316.9 90.2L319.2 92.5L316.9 94.8L314.6 92.5Z" fill="#ffd900" stroke="#f07a00" stroke-width="0.9"/>
<path d="M309.7 88.8L312.0 91.1L309.7 93.4L307.4 91.1Z" fill="#ffd900" stroke="#f07a00" stroke-width="0.9"/>
<circle cx="336.8" cy="112.1" r="1.8" fill="#dc80f4" stroke="#9b27d6" stroke-width="0.9"/>
<circle cx="340.4" cy="109.9" r="1.8" fill="#dc80f4" stroke="#9b27d6" stroke-width="0.9"/>
<circle cx="336.8" cy="108.0" r="1.8" fill="#dc80f4" stroke="#9b27d6" stroke-width="0.9"/>
<circle cx="340.4" cy="106.3" r="1.8" fill="#dc80f4" stroke="#9b27d6" stroke-width="0.9"/>
<circle cx="333.2" cy="105.2" r="1.8" fill="#dc80f4" stroke="#9b27d6" stroke-width="0.9"/>
<circle cx="336.8" cy="103.3" r="1.8" fill="#dc80f4" stroke="#9b27d6" stroke-width="0.9"/>
<circle cx="340.4" cy="101.7" r="1.8" fill="#dc80f4" stroke="#9b27d6" stroke-width="0.9"/>
<circle cx="333.2" cy="100.5" r="1.8" fill="#dc80f4" stroke="#9b27d6" stroke-width="0.9"/>
<circle cx="336.8" cy="99.6" r="1.8" fill="#dc80f4" stroke="#9b27d6" stroke-width="0.9"/>
<circle cx="340.4" cy="98.1" r="1.8" fill="#dc80f4" stroke="#9b27d6" stroke-width="0.9"/>
<circle cx="333.2" cy="96.9" r="1.8" fill="#dc80f4" stroke="#9b27d6" stroke-width="0.9"/>
<circle cx="336.8" cy="95.1" r="1.8" fill="#dc80f4" stroke="#9b27d6" stroke-width="0.9"/>
<circle cx="340.4" cy="93.6" r="1.8" fill="#dc80f4" stroke="#9b27d6" stroke-width="0.9"/>
<circle cx="333.2" cy="92.6" r="1.8" fill="#dc80f4" stroke="#9b27d6" stroke-width="0.9"/>
<circle cx="336.8" cy="91.1" r="1.8" fill="#dc80f4" stroke="#9b27d6" stroke-width="0.9"/>
<circle cx="340.4" cy="88.9" r="1.8" fill="#dc80f4" stroke="#9b27d6" stroke-width="0.9"/>
<circle cx="336.8" cy="87.4" r="1.8" fill="#dc80f4" stroke="#9b27d6" stroke-width="0.9"/>
<circle cx="340.4" cy="84.8" r="1.8" fill="#dc80f4" stroke="#9b27d6" stroke-width="0.9"/>
<circle cx="336.8" cy="40.4" r="1.8" fill="#dc80f4" stroke="#9b27d6" stroke-width="0.9"/>
<circle cx="336.8" cy="29.3" r="1.8" fill="#dc80f4" stroke="#9b27d6" stroke-width="0.9"/>
<path d="M359.2 106.3L361.5 108.6L359.2 110.9L356.9 108.6Z" fill="#ffd900" stroke="#f07a00" stroke-width="0.9"/>
<path d="M362.8 104.2L365.1 106.5L362.8 108.8L360.5 106.5Z" fill="#ffd900" stroke="#f07a00" stroke-width="0.9"/>
<path d="M359.2 101.7L361.5 104.0L359.2 106.3L356.9 104.0Z" fill="#ffd900" stroke="#f07a00" stroke-width="0.9"/>
<path d="M362.8 100.4L365.1 102.7L362.8 105.0L360.5 102.7Z" fill="#ffd900" stroke="#f07a00" stroke-width="0.9"/>
<path d="M355.6 99.1L357.9 101.4L355.6 103.7L353.3 101.4Z" fill="#ffd900" stroke="#f07a00" stroke-width="0.9"/>
<path d="M359.2 97.5L361.5 99.8L359.2 102.1L356.9 99.8Z" fill="#ffd900" stroke="#f07a00" stroke-width="0.9"/>
<path d="M362.8 96.1L365.1 98.4L362.8 100.7L360.5 98.4Z" fill="#ffd900" stroke="#f07a00" stroke-width="0.9"/>
<path d="M357.4 94.5L359.7 96.8L357.4 99.1L355.1 96.8Z" fill="#ffd900" stroke="#f07a00" stroke-width="0.9"/>
<path d="M353.8 93.3L356.1 95.6L353.8 97.9L351.5 95.6Z" fill="#ffd900" stroke="#f07a00" stroke-width="0.9"/>
<path d="M359.2 91.3L361.5 93.6L359.2 95.9L356.9 93.6Z" fill="#ffd900" stroke="#f07a00" stroke-width="0.9"/>
<path d="M362.8 90.6L365.1 92.9L362.8 95.2L360.5 92.9Z" fill="#ffd900" stroke="#f07a00" stroke-width="0.9"/>
<path d="M355.6 88.9L357.9 91.2L355.6 93.5L353.3 91.2Z" fill="#ffd900" stroke="#f07a00" stroke-width="0.9"/>
<path d="M359.2 87.8L361.5 90.1L359.2 92.4L356.9 90.1Z" fill="#ffd900" stroke="#f07a00" stroke-width="0.9"/>
<path d="M362.8 86.2L365.1 88.5L362.8 90.8L360.5 88.5Z" fill="#ffd900" stroke="#f07a00" stroke-width="0.9"/>
<path d="M355.6 85.1L357.9 87.4L355.6 89.7L353.3 87.4Z" fill="#ffd900" stroke="#f07a00" stroke-width="0.9"/>
<path d="M359.2 83.9L361.5 86.2L359.2 88.5L356.9 86.2Z" fill="#ffd900" stroke="#f07a00" stroke-width="0.9"/>
<path d="M362.8 82.7L365.1 85.0L362.8 87.3L360.5 85.0Z" fill="#ffd900" stroke="#f07a00" stroke-width="0.9"/>
<path d="M353.8 81.6L356.1 83.9L353.8 86.2L351.5 83.9Z" fill="#ffd900" stroke="#f07a00" stroke-width="0.9"/>
<path d="M357.4 80.5L359.7 82.8L357.4 85.1L355.1 82.8Z" fill="#ffd900" stroke="#f07a00" stroke-width="0.9"/>
<path d="M361.0 79.4L363.3 81.7L361.0 84.0L358.7 81.7Z" fill="#ffd900" stroke="#f07a00" stroke-width="0.9"/>
<path d="M364.6 78.1L366.9 80.4L364.6 82.7L362.3 80.4Z" fill="#ffd900" stroke="#f07a00" stroke-width="0.9"/>
<path d="M359.2 76.4L361.5 78.7L359.2 81.0L356.9 78.7Z" fill="#ffd900" stroke="#f07a00" stroke-width="0.9"/>
<path d="M355.6 75.6L357.9 77.9L355.6 80.2L353.3 77.9Z" fill="#ffd900" stroke="#f07a00" stroke-width="0.9"/>
<path d="M362.8 74.3L365.1 76.6L362.8 78.9L360.5 76.6Z" fill="#ffd900" stroke="#f07a00" stroke-width="0.9"/>
<path d="M359.2 72.5L361.5 74.8L359.2 77.1L356.9 74.8Z" fill="#ffd900" stroke="#f07a00" stroke-width="0.9"/>
<path d="M355.6 71.5L357.9 73.8L355.6 76.1L353.3 73.8Z" fill="#ffd900" stroke="#f07a00" stroke-width="0.9"/>
<path d="M362.8 70.0L365.1 72.3L362.8 74.6L360.5 72.3Z" fill="#ffd900" stroke="#f07a00" stroke-width="0.9"/>
<path d="M359.2 68.5L361.5 70.8L359.2 73.1L356.9 70.8Z" fill="#ffd900" stroke="#f07a00" stroke-width="0.9"/>
<path d="M362.8 66.1L365.1 68.4L362.8 70.7L360.5 68.4Z" fill="#ffd900" stroke="#f07a00" stroke-width="0.9"/>
<path d="M359.2 64.5L361.5 66.8L359.2 69.1L356.9 66.8Z" fill="#ffd900" stroke="#f07a00" stroke-width="0.9"/>
<path d="M355.6 63.2L357.9 65.5L355.6 67.8L353.3 65.5Z" fill="#ffd900" stroke="#f07a00" stroke-width="0.9"/>
<path d="M359.2 60.3L361.5 62.6L359.2 64.9L356.9 62.6Z" fill="#ffd900" stroke="#f07a00" stroke-width="0.9"/>
<path d="M359.2 49.7L361.5 52.0L359.2 54.3L356.9 52.0Z" fill="#ffd900" stroke="#f07a00" stroke-width="0.9"/>
<path d="M361.0 46.6L363.3 48.9L361.0 51.2L358.7 48.9Z" fill="#ffd900" stroke="#f07a00" stroke-width="0.9"/>
<path d="M357.4 45.6L359.7 47.9L357.4 50.2L355.1 47.9Z" fill="#ffd900" stroke="#f07a00" stroke-width="0.9"/>
<path d="M359.2 41.8L361.5 44.1L359.2 46.4L356.9 44.1Z" fill="#ffd900" stroke="#f07a00" stroke-width="0.9"/>
<path d="M359.2 33.2L361.5 35.5L359.2 37.8L356.9 35.5Z" fill="#ffd900" stroke="#f07a00" stroke-width="0.9"/>
<path d="M359.2 27.0L361.5 29.3L359.2 31.6L356.9 29.3Z" fill="#ffd900" stroke="#f07a00" stroke-width="0.9"/>
<line x1="286.7" y1="102.6" x2="302.7" y2="102.6" stroke="#111" stroke-width="1.4"/>
<line x1="307.0" y1="103.4" x2="319.6" y2="103.4" stroke="#111" stroke-width="1.4"/>
<line x1="336.8" y1="82.8" x2="336.8" y2="94.7" stroke="#222" stroke-width="0.85"/>
<line x1="334.2" y1="82.8" x2="339.4" y2="82.8" stroke="#222" stroke-width="0.85"/>
<line x1="334.2" y1="94.7" x2="339.4" y2="94.7" stroke="#222" stroke-width="0.85"/>
<line x1="326.8" y1="90.5" x2="346.8" y2="90.5" stroke="#111" stroke-width="1.4"/>
<line x1="359.2" y1="74.3" x2="359.2" y2="84.3" stroke="#222" stroke-width="0.85"/>
<line x1="356.6" y1="74.3" x2="361.8" y2="74.3" stroke="#222" stroke-width="0.85"/>
<line x1="356.6" y1="84.3" x2="361.8" y2="84.3" stroke="#222" stroke-width="0.85"/>
<line x1="349.5" y1="79.3" x2="368.9" y2="79.3" stroke="#111" stroke-width="1.4"/>
<line x1="315.0" y1="28.0" x2="358.0" y2="28.0" stroke="#555" stroke-width="0.9"/>
<line x1="315.0" y1="28.0" x2="315.0" y2="39.7" stroke="#555" stroke-width="0.9"/>
<path d="M333.5 23.1L333.5 26.3M332.1 23.9L334.9 25.5M334.9 23.9L332.1 25.5" stroke="#222" stroke-width="0.85" fill="none"/>
<path d="M336.5 23.1L336.5 26.3M335.1 23.9L337.9 25.5M337.9 23.9L335.1 25.5" stroke="#222" stroke-width="0.85" fill="none"/>
<path d="M339.5 23.1L339.5 26.3M338.1 23.9L340.9 25.5M340.9 23.9L338.1 25.5" stroke="#222" stroke-width="0.85" fill="none"/>
<line x1="340.0" y1="37.2" x2="357.4" y2="37.2" stroke="#555" stroke-width="0.9"/>
<path d="M347.2 32.3L347.2 35.5M345.8 33.1L348.6 34.7M348.6 33.1L345.8 34.7" stroke="#222" stroke-width="0.85" fill="none"/>
<path d="M350.2 32.3L350.2 35.5M348.8 33.1L351.6 34.7M351.6 33.1L348.8 34.7" stroke="#222" stroke-width="0.85" fill="none"/>
<text x="447.7" y="9.0" font-size="6.8" text-anchor="middle" font-weight="bold" fill="#111" stroke="#111" stroke-width="0.25" dominant-baseline="central">EZH2</text>
<circle cx="412.5" cy="19.8" r="1.45" fill="#dc80f4" stroke="#9b27d6" stroke-width="0.9"/>
<text x="418.8" y="19.8" font-size="5.0" text-anchor="start" font-weight="bold" fill="#111" stroke="#111" stroke-width="0.12" dominant-baseline="central">MED12-WT</text>
<path d="M454.5 17.9L456.4 19.8L454.5 21.7L452.6 19.8Z" fill="#ffd900" stroke="#f07a00" stroke-width="0.9"/>
<text x="461.3" y="19.8" font-size="5.0" text-anchor="start" font-weight="bold" fill="#111" stroke="#111" stroke-width="0.12" dominant-baseline="central">MED12-Mut</text>
<line x1="402.6" y1="24.8" x2="402.6" y2="115.0" stroke="#222" stroke-width="1.1"/>
<line x1="402.1" y1="114.4" x2="495.2" y2="114.4" stroke="#222" stroke-width="1.1"/>
<line x1="400.6" y1="25.5" x2="402.6" y2="25.5" stroke="#222" stroke-width="0.7"/>
<text x="400.1" y="25.6" font-size="3.9" text-anchor="end" font-weight="normal" fill="#111" stroke="#111" stroke-width="0.15" dominant-baseline="central">5</text>
<line x1="400.6" y1="43.3" x2="402.6" y2="43.3" stroke="#222" stroke-width="0.7"/>
<text x="400.1" y="43.4" font-size="3.9" text-anchor="end" font-weight="normal" fill="#111" stroke="#111" stroke-width="0.15" dominant-baseline="central">4</text>
<line x1="400.6" y1="60.9" x2="402.6" y2="60.9" stroke="#222" stroke-width="0.7"/>
<text x="400.1" y="61.0" font-size="3.9" text-anchor="end" font-weight="normal" fill="#111" stroke="#111" stroke-width="0.15" dominant-baseline="central">3</text>
<line x1="400.6" y1="78.5" x2="402.6" y2="78.5" stroke="#222" stroke-width="0.7"/>
<text x="400.1" y="78.7" font-size="3.9" text-anchor="end" font-weight="normal" fill="#111" stroke="#111" stroke-width="0.15" dominant-baseline="central">2</text>
<line x1="400.6" y1="96.4" x2="402.6" y2="96.4" stroke="#222" stroke-width="0.7"/>
<text x="400.1" y="96.6" font-size="3.9" text-anchor="end" font-weight="normal" fill="#111" stroke="#111" stroke-width="0.15" dominant-baseline="central">1</text>
<line x1="400.6" y1="114.1" x2="402.6" y2="114.1" stroke="#222" stroke-width="0.7"/>
<text x="400.1" y="114.2" font-size="3.9" text-anchor="end" font-weight="normal" fill="#111" stroke="#111" stroke-width="0.15" dominant-baseline="central">0</text>
<line x1="427.4" y1="114.4" x2="427.4" y2="116.4" stroke="#222" stroke-width="0.7"/>
<line x1="469.5" y1="114.4" x2="469.5" y2="116.4" stroke="#222" stroke-width="0.7"/>
<text x="427.4" y="121.5" font-size="5.7" text-anchor="middle" font-weight="bold" fill="#111" stroke="#111" stroke-width="0.2" dominant-baseline="central">Myometrium</text>
<text x="469.5" y="121.5" font-size="5.7" text-anchor="middle" font-weight="bold" fill="#111" stroke="#111" stroke-width="0.2" dominant-baseline="central">Leiomyoma</text>
<text x="383.3" y="69.9" font-size="7.4" text-anchor="middle" font-weight="bold" fill="#111" stroke="#111" stroke-width="0.3" dominant-baseline="central" transform="rotate(-90 383.3 69.9)">Relative Expression</text>
<text x="392.0" y="69.9" font-size="5.5" text-anchor="middle" font-weight="bold" fill="#111" stroke="#111" stroke-width="0.12" dominant-baseline="central" transform="rotate(-90 392.0 69.9)">(EZH2/FBXW2)</text>
<circle cx="417.4" cy="105.9" r="1.8" fill="#dc80f4" stroke="#9b27d6" stroke-width="0.9"/>
<circle cx="421.0" cy="104.4" r="1.8" fill="#dc80f4" stroke="#9b27d6" stroke-width="0.9"/>
<circle cx="415.6" cy="102.8" r="1.8" fill="#dc80f4" stroke="#9b27d6" stroke-width="0.9"/>
<circle cx="412.0" cy="102.2" r="1.8" fill="#dc80f4" stroke="#9b27d6" stroke-width="0.9"/>
<circle cx="419.2" cy="101.1" r="1.8" fill="#dc80f4" stroke="#9b27d6" stroke-width="0.9"/>
<circle cx="422.8" cy="99.9" r="1.8" fill="#dc80f4" stroke="#9b27d6" stroke-width="0.9"/>
<circle cx="415.6" cy="99.1" r="1.8" fill="#dc80f4" stroke="#9b27d6" stroke-width="0.9"/>
<circle cx="412.0" cy="98.6" r="1.8" fill="#dc80f4" stroke="#9b27d6" stroke-width="0.9"/>
<circle cx="419.2" cy="97.5" r="1.8" fill="#dc80f4" stroke="#9b27d6" stroke-width="0.9"/>
<circle cx="422.3" cy="97.0" r="1.8" fill="#dc80f4" stroke="#9b27d6" stroke-width="0.9"/>
<circle cx="415.6" cy="95.6" r="1.8" fill="#dc80f4" stroke="#9b27d6" stroke-width="0.9"/>
<circle cx="412.0" cy="94.9" r="1.8" fill="#dc80f4" stroke="#9b27d6" stroke-width="0.9"/>
<circle cx="424.6" cy="94.2" r="1.8" fill="#dc80f4" stroke="#9b27d6" stroke-width="0.9"/>
<circle cx="419.2" cy="93.5" r="1.8" fill="#dc80f4" stroke="#9b27d6" stroke-width="0.9"/>
<circle cx="415.6" cy="92.1" r="1.8" fill="#dc80f4" stroke="#9b27d6" stroke-width="0.9"/>
<circle cx="422.8" cy="91.2" r="1.8" fill="#dc80f4" stroke="#9b27d6" stroke-width="0.9"/>
<circle cx="412.0" cy="90.2" r="1.8" fill="#dc80f4" stroke="#9b27d6" stroke-width="0.9"/>
<circle cx="417.4" cy="88.5" r="1.8" fill="#dc80f4" stroke="#9b27d6" stroke-width="0.9"/>
<circle cx="417.4" cy="82.3" r="1.8" fill="#dc80f4" stroke="#9b27d6" stroke-width="0.9"/>
<circle cx="417.4" cy="72.4" r="1.8" fill="#dc80f4" stroke="#9b27d6" stroke-width="0.9"/>
<path d="M436.8 104.7L439.1 107.0L436.8 109.3L434.5 107.0Z" fill="#ffd900" stroke="#f07a00" stroke-width="0.9"/>
<path d="M440.4 103.1L442.7 105.4L440.4 107.7L438.1 105.4Z" fill="#ffd900" stroke="#f07a00" stroke-width="0.9"/>
<path d="M433.2 101.9L435.5 104.2L433.2 106.5L430.9 104.2Z" fill="#ffd900" stroke="#f07a00" stroke-width="0.9"/>
<path d="M436.8 101.0L439.1 103.3L436.8 105.6L434.5 103.3Z" fill="#ffd900" stroke="#f07a00" stroke-width="0.9"/>
<path d="M444.0 100.2L446.3 102.5L444.0 104.8L441.7 102.5Z" fill="#ffd900" stroke="#f07a00" stroke-width="0.9"/>
<path d="M440.4 99.0L442.7 101.3L440.4 103.6L438.1 101.3Z" fill="#ffd900" stroke="#f07a00" stroke-width="0.9"/>
<path d="M431.4 98.8L433.7 101.1L431.4 103.4L429.1 101.1Z" fill="#ffd900" stroke="#f07a00" stroke-width="0.9"/>
<path d="M438.2 98.1L440.5 100.4L438.2 102.7L435.9 100.4Z" fill="#ffd900" stroke="#f07a00" stroke-width="0.9"/>
<path d="M435.0 96.5L437.3 98.8L435.0 101.1L432.7 98.8Z" fill="#ffd900" stroke="#f07a00" stroke-width="0.9"/>
<path d="M442.2 95.8L444.5 98.1L442.2 100.4L439.9 98.1Z" fill="#ffd900" stroke="#f07a00" stroke-width="0.9"/>
<path d="M431.4 95.1L433.7 97.4L431.4 99.7L429.1 97.4Z" fill="#ffd900" stroke="#f07a00" stroke-width="0.9"/>
<path d="M438.6 94.3L440.9 96.6L438.6 98.9L436.3 96.6Z" fill="#ffd900" stroke="#f07a00" stroke-width="0.9"/>
<path d="M434.6 93.5L436.9 95.8L434.6 98.1L432.3 95.8Z" fill="#ffd900" stroke="#f07a00" stroke-width="0.9"/>
<path d="M431.9 93.4L434.2 95.7L431.9 98.0L429.6 95.7Z" fill="#ffd900" stroke="#f07a00" stroke-width="0.9"/>
<path d="M442.2 92.4L444.5 94.7L442.2 97.0L439.9 94.7Z" fill="#ffd900" stroke="#f07a00" stroke-width="0.9"/>
<path d="M434.1 91.5L436.4 93.8L434.1 96.1L431.8 93.8Z" fill="#ffd900" stroke="#f07a00" stroke-width="0.9"/>
<path d="M438.6 90.8L440.9 93.1L438.6 95.4L436.3 93.1Z" fill="#ffd900" stroke="#f07a00" stroke-width="0.9"/>
<path d="M429.6 89.8L431.9 92.1L429.6 94.4L427.3 92.1Z" fill="#ffd900" stroke="#f07a00" stroke-width="0.9"/>
<path d="M444.0 89.0L446.3 91.3L444.0 93.6L441.7 91.3Z" fill="#ffd900" stroke="#f07a00" stroke-width="0.9"/>
<path d="M435.0 87.9L437.3 90.2L435.0 92.5L432.7 90.2Z" fill="#ffd900" stroke="#f07a00" stroke-width="0.9"/>
<path d="M440.4 87.7L442.7 90.0L440.4 92.3L438.1 90.0Z" fill="#ffd900" stroke="#f07a00" stroke-width="0.9"/>
<path d="M431.4 86.5L433.7 88.8L431.4 91.1L429.1 88.8Z" fill="#ffd900" stroke="#f07a00" stroke-width="0.9"/>
<path d="M436.8 84.9L439.1 87.2L436.8 89.5L434.5 87.2Z" fill="#ffd900" stroke="#f07a00" stroke-width="0.9"/>
<path d="M440.4 84.2L442.7 86.5L440.4 88.8L438.1 86.5Z" fill="#ffd900" stroke="#f07a00" stroke-width="0.9"/>
<path d="M436.8 78.7L439.1 81.0L436.8 83.3L434.5 81.0Z" fill="#ffd900" stroke="#f07a00" stroke-width="0.9"/>
<path d="M436.8 73.7L439.1 76.0L436.8 78.3L434.5 76.0Z" fill="#ffd900" stroke="#f07a00" stroke-width="0.9"/>
<path d="M436.8 63.9L439.1 66.2L436.8 68.5L434.5 66.2Z" fill="#ffd900" stroke="#f07a00" stroke-width="0.9"/>
<path d="M440.4 63.9L442.7 66.2L440.4 68.5L438.1 66.2Z" fill="#ffd900" stroke="#f07a00" stroke-width="0.9"/>
<circle cx="458.4" cy="107.8" r="1.8" fill="#dc80f4" stroke="#9b27d6" stroke-width="0.9"/>
<circle cx="460.2" cy="104.6" r="1.8" fill="#dc80f4" stroke="#9b27d6" stroke-width="0.9"/>
<circle cx="456.6" cy="102.0" r="1.8" fill="#dc80f4" stroke="#9b27d6" stroke-width="0.9"/>
<circle cx="458.4" cy="94.2" r="1.8" fill="#dc80f4" stroke="#9b27d6" stroke-width="0.9"/>
<circle cx="462.0" cy="92.0" r="1.8" fill="#dc80f4" stroke="#9b27d6" stroke-width="0.9"/>
<circle cx="458.4" cy="90.2" r="1.8" fill="#dc80f4" stroke="#9b27d6" stroke-width="0.9"/>
<circle cx="462.0" cy="88.5" r="1.8" fill="#dc80f4" stroke="#9b27d6" stroke-width="0.9"/>
<circle cx="456.6" cy="86.9" r="1.8" fill="#dc80f4" stroke="#9b27d6" stroke-width="0.9"/>
<circle cx="453.0" cy="85.7" r="1.8" fill="#dc80f4" stroke="#9b27d6" stroke-width="0.9"/>
<circle cx="460.2" cy="84.4" r="1.8" fill="#dc80f4" stroke="#9b27d6" stroke-width="0.9"/>
<circle cx="456.6" cy="82.6" r="1.8" fill="#dc80f4" stroke="#9b27d6" stroke-width="0.9"/>
<circle cx="460.2" cy="80.2" r="1.8" fill="#dc80f4" stroke="#9b27d6" stroke-width="0.9"/>
<circle cx="458.4" cy="74.8" r="1.8" fill="#dc80f4" stroke="#9b27d6" stroke-width="0.9"/>
<circle cx="458.4" cy="71.1" r="1.8" fill="#dc80f4" stroke="#9b27d6" stroke-width="0.9"/>
<circle cx="458.4" cy="67.4" r="1.8" fill="#dc80f4" stroke="#9b27d6" stroke-width="0.9"/>
<circle cx="458.4" cy="63.7" r="1.8" fill="#dc80f4" stroke="#9b27d6" stroke-width="0.9"/>
<circle cx="458.4" cy="54.1" r="1.8" fill="#dc80f4" stroke="#9b27d6" stroke-width="0.9"/>
<circle cx="458.4" cy="45.9" r="1.8" fill="#dc80f4" stroke="#9b27d6" stroke-width="0.9"/>
<circle cx="458.4" cy="40.2" r="1.8" fill="#dc80f4" stroke="#9b27d6" stroke-width="0.9"/>
<path d="M479.4 92.8L481.7 95.1L479.4 97.4L477.1 95.1Z" fill="#ffd900" stroke="#f07a00" stroke-width="0.9"/>
<path d="M483.0 91.0L485.3 93.3L483.0 95.6L480.7 93.3Z" fill="#ffd900" stroke="#f07a00" stroke-width="0.9"/>
<path d="M479.4 88.9L481.7 91.2L479.4 93.5L477.1 91.2Z" fill="#ffd900" stroke="#f07a00" stroke-width="0.9"/>
<path d="M475.8 87.8L478.1 90.1L475.8 92.4L473.5 90.1Z" fill="#ffd900" stroke="#f07a00" stroke-width="0.9"/>
<path d="M483.0 86.3L485.3 88.6L483.0 90.9L480.7 88.6Z" fill="#ffd900" stroke="#f07a00" stroke-width="0.9"/>
<path d="M486.6 85.5L488.9 87.8L486.6 90.1L484.3 87.8Z" fill="#ffd900" stroke="#f07a00" stroke-width="0.9"/>
<path d="M479.4 84.5L481.7 86.8L479.4 89.1L477.1 86.8Z" fill="#ffd900" stroke="#f07a00" stroke-width="0.9"/>
<path d="M483.0 82.9L485.3 85.2L483.0 87.5L480.7 85.2Z" fill="#ffd900" stroke="#f07a00" stroke-width="0.9"/>
<path d="M475.8 82.3L478.1 84.6L475.8 86.9L473.5 84.6Z" fill="#ffd900" stroke="#f07a00" stroke-width="0.9"/>
<path d="M486.6 81.1L488.9 83.4L486.6 85.7L484.3 83.4Z" fill="#ffd900" stroke="#f07a00" stroke-width="0.9"/>
<path d="M479.4 79.7L481.7 82.0L479.4 84.3L477.1 82.0Z" fill="#ffd900" stroke="#f07a00" stroke-width="0.9"/>
<path d="M483.0 78.7L485.3 81.0L483.0 83.3L480.7 81.0Z" fill="#ffd900" stroke="#f07a00" stroke-width="0.9"/>
<path d="M475.8 77.4L478.1 79.7L475.8 82.0L473.5 79.7Z" fill="#ffd900" stroke="#f07a00" stroke-width="0.9"/>
<path d="M486.6 76.8L488.9 79.1L486.6 81.4L484.3 79.1Z" fill="#ffd900" stroke="#f07a00" stroke-width="0.9"/>
<path d="M479.4 75.7L481.7 78.0L479.4 80.3L477.1 78.0Z" fill="#ffd900" stroke="#f07a00" stroke-width="0.9"/>
<path d="M483.0 74.4L485.3 76.7L483.0 79.0L480.7 76.7Z" fill="#ffd900" stroke="#f07a00" stroke-width="0.9"/>
<path d="M475.8 73.5L478.1 75.8L475.8 78.1L473.5 75.8Z" fill="#ffd900" stroke="#f07a00" stroke-width="0.9"/>
<path d="M486.6 72.7L488.9 75.0L486.6 77.3L484.3 75.0Z" fill="#ffd900" stroke="#f07a00" stroke-width="0.9"/>
<path d="M479.4 71.3L481.7 73.6L479.4 75.9L477.1 73.6Z" fill="#ffd900" stroke="#f07a00" stroke-width="0.9"/>
<path d="M483.0 70.4L485.3 72.7L483.0 75.0L480.7 72.7Z" fill="#ffd900" stroke="#f07a00" stroke-width="0.9"/>
<path d="M475.8 69.1L478.1 71.4L475.8 73.7L473.5 71.4Z" fill="#ffd900" stroke="#f07a00" stroke-width="0.9"/>
<path d="M479.4 67.8L481.7 70.1L479.4 72.4L477.1 70.1Z" fill="#ffd900" stroke="#f07a00" stroke-width="0.9"/>
<path d="M483.0 66.5L485.3 68.8L483.0 71.1L480.7 68.8Z" fill="#ffd900" stroke="#f07a00" stroke-width="0.9"/>
<path d="M475.8 65.3L478.1 67.6L475.8 69.9L473.5 67.6Z" fill="#ffd900" stroke="#f07a00" stroke-width="0.9"/>
<path d="M479.4 63.9L481.7 66.2L479.4 68.5L477.1 66.2Z" fill="#ffd900" stroke="#f07a00" stroke-width="0.9"/>
<path d="M483.0 61.7L485.3 64.0L483.0 66.3L480.7 64.0Z" fill="#ffd900" stroke="#f07a00" stroke-width="0.9"/>
<path d="M479.4 57.2L481.7 59.5L479.4 61.8L477.1 59.5Z" fill="#ffd900" stroke="#f07a00" stroke-width="0.9"/>
<path d="M479.4 53.5L481.7 55.8L479.4 58.1L477.1 55.8Z" fill="#ffd900" stroke="#f07a00" stroke-width="0.9"/>
<path d="M479.4 49.7L481.7 52.0L479.4 54.3L477.1 52.0Z" fill="#ffd900" stroke="#f07a00" stroke-width="0.9"/>
<path d="M479.4 46.1L481.7 48.4L479.4 50.7L477.1 48.4Z" fill="#ffd900" stroke="#f07a00" stroke-width="0.9"/>
<path d="M483.0 43.6L485.3 45.9L483.0 48.2L480.7 45.9Z" fill="#ffd900" stroke="#f07a00" stroke-width="0.9"/>
<path d="M479.4 40.4L481.7 42.7L479.4 45.0L477.1 42.7Z" fill="#ffd900" stroke="#f07a00" stroke-width="0.9"/>
<path d="M481.2 37.4L483.5 39.7L481.2 42.0L478.9 39.7Z" fill="#ffd900" stroke="#f07a00" stroke-width="0.9"/>
<path d="M477.6 34.9L479.9 37.2L477.6 39.5L475.3 37.2Z" fill="#ffd900" stroke="#f07a00" stroke-width="0.9"/>
<path d="M479.4 29.9L481.7 32.2L479.4 34.5L477.1 32.2Z" fill="#ffd900" stroke="#f07a00" stroke-width="0.9"/>
<path d="M483.0 27.0L485.3 29.3L483.0 31.6L480.7 29.3Z" fill="#ffd900" stroke="#f07a00" stroke-width="0.9"/>
<path d="M475.8 27.0L478.1 29.3L475.8 31.6L473.5 29.3Z" fill="#ffd900" stroke="#f07a00" stroke-width="0.9"/>
<line x1="407.9" y1="94.7" x2="426.9" y2="94.7" stroke="#111" stroke-width="1.4"/>
<line x1="428.4" y1="94.2" x2="445.2" y2="94.2" stroke="#111" stroke-width="1.4"/>
<line x1="458.4" y1="78.0" x2="458.4" y2="84.0" stroke="#222" stroke-width="0.85"/>
<line x1="455.8" y1="78.0" x2="461.0" y2="78.0" stroke="#222" stroke-width="0.85"/>
<line x1="455.8" y1="84.0" x2="461.0" y2="84.0" stroke="#222" stroke-width="0.85"/>
<line x1="449.1" y1="81.0" x2="467.7" y2="81.0" stroke="#111" stroke-width="1.4"/>
<line x1="479.4" y1="65.0" x2="479.4" y2="71.0" stroke="#222" stroke-width="0.85"/>
<line x1="476.8" y1="65.0" x2="482.0" y2="65.0" stroke="#222" stroke-width="0.85"/>
<line x1="476.8" y1="71.0" x2="482.0" y2="71.0" stroke="#222" stroke-width="0.85"/>
<line x1="470.1" y1="68.1" x2="488.7" y2="68.1" stroke="#111" stroke-width="1.4"/>
<line x1="437.3" y1="29.8" x2="479.4" y2="29.8" stroke="#555" stroke-width="0.9"/>
<path d="M455.4 24.9L455.4 28.1M454.0 25.7L456.7 27.3M456.7 25.7L454.0 27.3" stroke="#222" stroke-width="0.85" fill="none"/>
<path d="M458.4 24.9L458.4 28.1M457.0 25.7L459.7 27.3M459.7 25.7L457.0 27.3" stroke="#222" stroke-width="0.85" fill="none"/>
<path d="M461.4 24.9L461.4 28.1M460.0 25.7L462.7 27.3M462.7 25.7L460.0 27.3" stroke="#222" stroke-width="0.85" fill="none"/>
<line x1="416.7" y1="37.2" x2="459.6" y2="37.2" stroke="#555" stroke-width="0.9"/>
<path d="M436.6 32.3L436.6 35.5M435.3 33.1L438.0 34.7M438.0 33.1L435.3 34.7" stroke="#222" stroke-width="0.85" fill="none"/>
<path d="M439.6 32.3L439.6 35.5M438.3 33.1L441.0 34.7M441.0 33.1L438.3 34.7" stroke="#222" stroke-width="0.85" fill="none"/>
<line x1="460.8" y1="42.9" x2="478.2" y2="42.9" stroke="#555" stroke-width="0.9"/>
<path d="M468.0 38.0L468.0 41.2M466.6 38.8L469.4 40.4M469.4 38.8L466.6 40.4" stroke="#222" stroke-width="0.85" fill="none"/>
<path d="M471.0 38.0L471.0 41.2M469.6 38.8L472.4 40.4M472.4 38.8L469.6 40.4" stroke="#222" stroke-width="0.85" fill="none"/>
<text x="80.6" y="145.2" font-size="6.8" text-anchor="middle" font-weight="bold" fill="#111" stroke="#111" stroke-width="0.25" dominant-baseline="central">RAB37</text>
<circle cx="49.1" cy="157.8" r="1.45" fill="#dc80f4" stroke="#9b27d6" stroke-width="0.9"/>
<text x="55.4" y="157.8" font-size="5.0" text-anchor="start" font-weight="bold" fill="#111" stroke="#111" stroke-width="0.12" dominant-baseline="central">MED12-WT</text>
<path d="M90.6 155.9L92.5 157.8L90.6 159.7L88.7 157.8Z" fill="#ffd900" stroke="#f07a00" stroke-width="0.9"/>
<text x="97.4" y="157.8" font-size="5.0" text-anchor="start" font-weight="bold" fill="#111" stroke="#111" stroke-width="0.12" dominant-baseline="central">MED12-Mut</text>
<line x1="37.9" y1="162.3" x2="37.9" y2="255.5" stroke="#222" stroke-width="1.1"/>
<line x1="37.4" y1="254.9" x2="131.5" y2="254.9" stroke="#222" stroke-width="1.1"/>
<line x1="35.9" y1="163.0" x2="37.9" y2="163.0" stroke="#222" stroke-width="0.7"/>
<text x="35.4" y="163.2" font-size="3.9" text-anchor="end" font-weight="normal" fill="#111" stroke="#111" stroke-width="0.15" dominant-baseline="central">4</text>
<line x1="35.9" y1="185.8" x2="37.9" y2="185.8" stroke="#222" stroke-width="0.7"/>
<text x="35.4" y="186.0" font-size="3.9" text-anchor="end" font-weight="normal" fill="#111" stroke="#111" stroke-width="0.15" dominant-baseline="central">3</text>
<line x1="35.9" y1="208.6" x2="37.9" y2="208.6" stroke="#222" stroke-width="0.7"/>
<text x="35.4" y="208.8" font-size="3.9" text-anchor="end" font-weight="normal" fill="#111" stroke="#111" stroke-width="0.15" dominant-baseline="central">2</text>
<line x1="35.9" y1="231.7" x2="37.9" y2="231.7" stroke="#222" stroke-width="0.7"/>
<text x="35.4" y="231.8" font-size="3.9" text-anchor="end" font-weight="normal" fill="#111" stroke="#111" stroke-width="0.15" dominant-baseline="central">1</text>
<line x1="35.9" y1="254.5" x2="37.9" y2="254.5" stroke="#222" stroke-width="0.7"/>
<text x="35.4" y="254.7" font-size="3.9" text-anchor="end" font-weight="normal" fill="#111" stroke="#111" stroke-width="0.15" dominant-baseline="central">0</text>
<line x1="63.3" y1="254.9" x2="63.3" y2="256.9" stroke="#222" stroke-width="0.7"/>
<line x1="105.4" y1="254.9" x2="105.4" y2="256.9" stroke="#222" stroke-width="0.7"/>
<text x="63.3" y="262.0" font-size="5.7" text-anchor="middle" font-weight="bold" fill="#111" stroke="#111" stroke-width="0.2" dominant-baseline="central">Myometrium</text>
<text x="105.4" y="262.0" font-size="5.7" text-anchor="middle" font-weight="bold" fill="#111" stroke="#111" stroke-width="0.2" dominant-baseline="central">Leiomyoma</text>
<text x="19.0" y="208.9" font-size="7.4" text-anchor="middle" font-weight="bold" fill="#111" stroke="#111" stroke-width="0.3" dominant-baseline="central" transform="rotate(-90 19.0 208.9)">Relative Expression</text>
<text x="27.3" y="208.9" font-size="5.5" text-anchor="middle" font-weight="bold" fill="#111" stroke="#111" stroke-width="0.12" dominant-baseline="central" transform="rotate(-90 27.3 208.9)">(RAB37/FBXW2)</text>
<circle cx="54.1" cy="245.5" r="1.8" fill="#dc80f4" stroke="#9b27d6" stroke-width="0.9"/>
<circle cx="57.7" cy="244.4" r="1.8" fill="#dc80f4" stroke="#9b27d6" stroke-width="0.9"/>
<circle cx="50.5" cy="244.0" r="1.8" fill="#dc80f4" stroke="#9b27d6" stroke-width="0.9"/>
<circle cx="58.9" cy="242.5" r="1.8" fill="#dc80f4" stroke="#9b27d6" stroke-width="0.9"/>
<circle cx="54.1" cy="241.7" r="1.8" fill="#dc80f4" stroke="#9b27d6" stroke-width="0.9"/>
<circle cx="48.7" cy="240.9" r="1.8" fill="#dc80f4" stroke="#9b27d6" stroke-width="0.9"/>
<circle cx="48.8" cy="240.7" r="1.8" fill="#dc80f4" stroke="#9b27d6" stroke-width="0.9"/>
<circle cx="58.9" cy="239.4" r="1.8" fill="#dc80f4" stroke="#9b27d6" stroke-width="0.9"/>
<circle cx="52.3" cy="238.4" r="1.8" fill="#dc80f4" stroke="#9b27d6" stroke-width="0.9"/>
<circle cx="56.5" cy="238.0" r="1.8" fill="#dc80f4" stroke="#9b27d6" stroke-width="0.9"/>
<circle cx="48.7" cy="236.7" r="1.8" fill="#dc80f4" stroke="#9b27d6" stroke-width="0.9"/>
<circle cx="59.5" cy="235.9" r="1.8" fill="#dc80f4" stroke="#9b27d6" stroke-width="0.9"/>
<circle cx="54.1" cy="226.5" r="1.8" fill="#dc80f4" stroke="#9b27d6" stroke-width="0.9"/>
<circle cx="57.7" cy="224.5" r="1.8" fill="#dc80f4" stroke="#9b27d6" stroke-width="0.9"/>
<circle cx="54.1" cy="222.9" r="1.8" fill="#dc80f4" stroke="#9b27d6" stroke-width="0.9"/>
<circle cx="57.7" cy="221.0" r="1.8" fill="#dc80f4" stroke="#9b27d6" stroke-width="0.9"/>
<circle cx="54.1" cy="216.0" r="1.8" fill="#dc80f4" stroke="#9b27d6" stroke-width="0.9"/>
<circle cx="54.1" cy="211.1" r="1.8" fill="#dc80f4" stroke="#9b27d6" stroke-width="0.9"/>
<circle cx="54.1" cy="206.2" r="1.8" fill="#dc80f4" stroke="#9b27d6" stroke-width="0.9"/>
<circle cx="54.1" cy="196.5" r="1.8" fill="#dc80f4" stroke="#9b27d6" stroke-width="0.9"/>
<circle cx="54.1" cy="191.5" r="1.8" fill="#dc80f4" stroke="#9b27d6" stroke-width="0.9"/>
<circle cx="54.1" cy="177.7" r="1.8" fill="#dc80f4" stroke="#9b27d6" stroke-width="0.9"/>
<path d="M72.5 245.2L74.8 247.5L72.5 249.8L70.2 247.5Z" fill="#ffd900" stroke="#f07a00" stroke-width="0.9"/>
<path d="M76.1 243.7L78.4 246.0L76.1 248.3L73.8 246.0Z" fill="#ffd900" stroke="#f07a00" stroke-width="0.9"/>
<path d="M72.5 241.7L74.8 244.0L72.5 246.3L70.2 244.0Z" fill="#ffd900" stroke="#f07a00" stroke-width="0.9"/>
<path d="M76.1 240.0L78.4 242.3L76.1 244.6L73.8 242.3Z" fill="#ffd900" stroke="#f07a00" stroke-width="0.9"/>
<path d="M68.9 238.9L71.2 241.2L68.9 243.5L66.6 241.2Z" fill="#ffd900" stroke="#f07a00" stroke-width="0.9"/>
<path d="M72.5 237.6L74.8 239.9L72.5 242.2L70.2 239.9Z" fill="#ffd900" stroke="#f07a00" stroke-width="0.9"/>
<path d="M76.1 236.4L78.4 238.7L76.1 241.0L73.8 238.7Z" fill="#ffd900" stroke="#f07a00" stroke-width="0.9"/>
<path d="M68.9 235.2L71.2 237.5L68.9 239.8L66.6 237.5Z" fill="#ffd900" stroke="#f07a00" stroke-width="0.9"/>
<path d="M72.5 234.0L74.8 236.3L72.5 238.6L70.2 236.3Z" fill="#ffd900" stroke="#f07a00" stroke-width="0.9"/>
<path d="M77.9 233.2L80.2 235.5L77.9 237.8L75.6 235.5Z" fill="#ffd900" stroke="#f07a00" stroke-width="0.9"/>
<path d="M67.1 231.9L69.4 234.2L67.1 236.5L64.8 234.2Z" fill="#ffd900" stroke="#f07a00" stroke-width="0.9"/>
<path d="M72.5 230.5L74.8 232.8L72.5 235.1L70.2 232.8Z" fill="#ffd900" stroke="#f07a00" stroke-width="0.9"/>
<path d="M76.1 229.3L78.4 231.6L76.1 233.9L73.8 231.6Z" fill="#ffd900" stroke="#f07a00" stroke-width="0.9"/>
<path d="M68.9 228.1L71.2 230.4L68.9 232.7L66.6 230.4Z" fill="#ffd900" stroke="#f07a00" stroke-width="0.9"/>
<path d="M79.7 227.4L82.0 229.7L79.7 232.0L77.4 229.7Z" fill="#ffd900" stroke="#f07a00" stroke-width="0.9"/>
<path d="M72.5 225.9L74.8 228.2L72.5 230.5L70.2 228.2Z" fill="#ffd900" stroke="#f07a00" stroke-width="0.9"/>
<path d="M76.1 224.4L78.4 226.7L76.1 229.0L73.8 226.7Z" fill="#ffd900" stroke="#f07a00" stroke-width="0.9"/>
<path d="M70.7 222.7L73.0 225.0L70.7 227.3L68.4 225.0Z" fill="#ffd900" stroke="#f07a00" stroke-width="0.9"/>
<path d="M67.1 221.9L69.4 224.2L67.1 226.5L64.8 224.2Z" fill="#ffd900" stroke="#f07a00" stroke-width="0.9"/>
<path d="M72.5 219.7L74.8 222.0L72.5 224.3L70.2 222.0Z" fill="#ffd900" stroke="#f07a00" stroke-width="0.9"/>
<path d="M72.5 215.7L74.8 218.0L72.5 220.3L70.2 218.0Z" fill="#ffd900" stroke="#f07a00" stroke-width="0.9"/>
<path d="M76.1 214.6L78.4 216.9L76.1 219.2L73.8 216.9Z" fill="#ffd900" stroke="#f07a00" stroke-width="0.9"/>
<path d="M68.9 213.1L71.2 215.4L68.9 217.7L66.6 215.4Z" fill="#ffd900" stroke="#f07a00" stroke-width="0.9"/>
<path d="M72.5 212.1L74.8 214.4L72.5 216.7L70.2 214.4Z" fill="#ffd900" stroke="#f07a00" stroke-width="0.9"/>
<path d="M76.1 210.3L78.4 212.6L76.1 214.9L73.8 212.6Z" fill="#ffd900" stroke="#f07a00" stroke-width="0.9"/>
<path d="M68.9 209.6L71.2 211.9L68.9 214.2L66.6 211.9Z" fill="#ffd900" stroke="#f07a00" stroke-width="0.9"/>
<path d="M72.5 207.8L74.8 210.1L72.5 212.4L70.2 210.1Z" fill="#ffd900" stroke="#f07a00" stroke-width="0.9"/>
<path d="M72.5 202.9L74.8 205.2L72.5 207.5L70.2 205.2Z" fill="#ffd900" stroke="#f07a00" stroke-width="0.9"/>
<path d="M72.5 199.5L74.8 201.8L72.5 204.1L70.2 201.8Z" fill="#ffd900" stroke="#f07a00" stroke-width="0.9"/>
<path d="M72.5 194.2L74.8 196.5L72.5 198.8L70.2 196.5Z" fill="#ffd900" stroke="#f07a00" stroke-width="0.9"/>
<path d="M72.5 189.7L74.8 192.0L72.5 194.3L70.2 192.0Z" fill="#ffd900" stroke="#f07a00" stroke-width="0.9"/>
<path d="M72.5 184.3L74.8 186.6L72.5 188.9L70.2 186.6Z" fill="#ffd900" stroke="#f07a00" stroke-width="0.9"/>
<circle cx="96.3" cy="251.7" r="1.8" fill="#dc80f4" stroke="#9b27d6" stroke-width="0.9"/>
<circle cx="99.9" cy="250.5" r="1.8" fill="#dc80f4" stroke="#9b27d6" stroke-width="0.9"/>
<circle cx="92.7" cy="249.1" r="1.8" fill="#dc80f4" stroke="#9b27d6" stroke-width="0.9"/>
<circle cx="96.3" cy="247.4" r="1.8" fill="#dc80f4" stroke="#9b27d6" stroke-width="0.9"/>
<circle cx="99.9" cy="246.3" r="1.8" fill="#dc80f4" stroke="#9b27d6" stroke-width="0.9"/>
<circle cx="90.9" cy="245.8" r="1.8" fill="#dc80f4" stroke="#9b27d6" stroke-width="0.9"/>
<circle cx="95.5" cy="244.6" r="1.8" fill="#dc80f4" stroke="#9b27d6" stroke-width="0.9"/>
<circle cx="99.4" cy="243.5" r="1.8" fill="#dc80f4" stroke="#9b27d6" stroke-width="0.9"/>
<circle cx="92.7" cy="242.5" r="1.8" fill="#dc80f4" stroke="#9b27d6" stroke-width="0.9"/>
<circle cx="91.9" cy="241.6" r="1.8" fill="#dc80f4" stroke="#9b27d6" stroke-width="0.9"/>
<circle cx="96.3" cy="240.5" r="1.8" fill="#dc80f4" stroke="#9b27d6" stroke-width="0.9"/>
<circle cx="99.9" cy="239.3" r="1.8" fill="#dc80f4" stroke="#9b27d6" stroke-width="0.9"/>
<circle cx="94.5" cy="237.6" r="1.8" fill="#dc80f4" stroke="#9b27d6" stroke-width="0.9"/>
<circle cx="90.9" cy="236.5" r="1.8" fill="#dc80f4" stroke="#9b27d6" stroke-width="0.9"/>
<circle cx="96.3" cy="232.2" r="1.8" fill="#dc80f4" stroke="#9b27d6" stroke-width="0.9"/>
<circle cx="96.3" cy="227.2" r="1.8" fill="#dc80f4" stroke="#9b27d6" stroke-width="0.9"/>
<circle cx="96.3" cy="213.6" r="1.8" fill="#dc80f4" stroke="#9b27d6" stroke-width="0.9"/>
<circle cx="96.3" cy="209.9" r="1.8" fill="#dc80f4" stroke="#9b27d6" stroke-width="0.9"/>
<circle cx="96.3" cy="206.2" r="1.8" fill="#dc80f4" stroke="#9b27d6" stroke-width="0.9"/>
<circle cx="96.3" cy="202.4" r="1.8" fill="#dc80f4" stroke="#9b27d6" stroke-width="0.9"/>
<path d="M115.4 249.8L117.7 252.1L115.4 254.4L113.1 252.1Z" fill="#ffd900" stroke="#f07a00" stroke-width="0.9"/>
<path d="M119.0 249.1L121.3 251.4L119.0 253.7L116.7 251.4Z" fill="#ffd900" stroke="#f07a00" stroke-width="0.9"/>
<path d="M111.8 248.5L114.1 250.8L111.8 253.1L109.5 250.8Z" fill="#ffd900" stroke="#f07a00" stroke-width="0.9"/>
<path d="M122.6 247.5L124.9 249.8L122.6 252.1L120.3 249.8Z" fill="#ffd900" stroke="#f07a00" stroke-width="0.9"/>
<path d="M108.2 247.0L110.5 249.3L108.2 251.6L105.9 249.3Z" fill="#ffd900" stroke="#f07a00" stroke-width="0.9"/>
<path d="M113.0 246.5L115.3 248.8L113.0 251.1L110.7 248.8Z" fill="#ffd900" stroke="#f07a00" stroke-width="0.9"/>
<path d="M117.2 246.2L119.5 248.5L117.2 250.8L114.9 248.5Z" fill="#ffd900" stroke="#f07a00" stroke-width="0.9"/>
<path d="M112.4 245.9L114.7 248.2L112.4 250.5L110.1 248.2Z" fill="#ffd900" stroke="#f07a00" stroke-width="0.9"/>
<path d="M120.1 245.0L122.4 247.3L120.1 249.6L117.8 247.3Z" fill="#ffd900" stroke="#f07a00" stroke-width="0.9"/>
<path d="M109.3 244.7L111.6 247.0L109.3 249.3L107.0 247.0Z" fill="#ffd900" stroke="#f07a00" stroke-width="0.9"/>
<path d="M123.8 243.8L126.1 246.1L123.8 248.4L121.5 246.1Z" fill="#ffd900" stroke="#f07a00" stroke-width="0.9"/>
<path d="M115.1 243.8L117.4 246.1L115.1 248.4L112.8 246.1Z" fill="#ffd900" stroke="#f07a00" stroke-width="0.9"/>
<path d="M117.1 243.1L119.4 245.4L117.1 247.7L114.8 245.4Z" fill="#ffd900" stroke="#f07a00" stroke-width="0.9"/>
<path d="M111.8 242.1L114.1 244.4L111.8 246.7L109.5 244.4Z" fill="#ffd900" stroke="#f07a00" stroke-width="0.9"/>
<path d="M120.8 241.6L123.1 243.9L120.8 246.2L118.5 243.9Z" fill="#ffd900" stroke="#f07a00" stroke-width="0.9"/>
<path d="M108.2 241.2L110.5 243.5L108.2 245.8L105.9 243.5Z" fill="#ffd900" stroke="#f07a00" stroke-width="0.9"/>
<path d="M114.9 240.1L117.2 242.4L114.9 244.7L112.6 242.4Z" fill="#ffd900" stroke="#f07a00" stroke-width="0.9"/>
<path d="M121.1 239.3L123.4 241.6L121.1 243.9L118.8 241.6Z" fill="#ffd900" stroke="#f07a00" stroke-width="0.9"/>
<path d="M115.4 232.4L117.7 234.7L115.4 237.0L113.1 234.7Z" fill="#ffd900" stroke="#f07a00" stroke-width="0.9"/>
<path d="M115.4 210.8L117.7 213.1L115.4 215.4L113.1 213.1Z" fill="#ffd900" stroke="#f07a00" stroke-width="0.9"/>
<path d="M115.4 206.3L117.7 208.6L115.4 210.9L113.1 208.6Z" fill="#ffd900" stroke="#f07a00" stroke-width="0.9"/>
<line x1="54.1" y1="221.0" x2="54.1" y2="228.5" stroke="#222" stroke-width="0.85"/>
<line x1="51.5" y1="221.0" x2="56.7" y2="221.0" stroke="#222" stroke-width="0.85"/>
<line x1="51.5" y1="228.5" x2="56.7" y2="228.5" stroke="#222" stroke-width="0.85"/>
<line x1="46.1" y1="224.8" x2="62.1" y2="224.8" stroke="#111" stroke-width="1.4"/>
<line x1="72.5" y1="223.5" x2="72.5" y2="229.7" stroke="#222" stroke-width="0.85"/>
<line x1="69.9" y1="223.5" x2="75.1" y2="223.5" stroke="#222" stroke-width="0.85"/>
<line x1="69.9" y1="229.7" x2="75.1" y2="229.7" stroke="#222" stroke-width="0.85"/>
<line x1="63.2" y1="226.0" x2="81.8" y2="226.0" stroke="#111" stroke-width="1.4"/>
<line x1="96.3" y1="234.7" x2="96.3" y2="240.4" stroke="#222" stroke-width="0.85"/>
<line x1="93.7" y1="234.7" x2="98.9" y2="234.7" stroke="#222" stroke-width="0.85"/>
<line x1="93.7" y1="240.4" x2="98.9" y2="240.4" stroke="#222" stroke-width="0.85"/>
<line x1="86.3" y1="237.7" x2="106.3" y2="237.7" stroke="#111" stroke-width="1.4"/>
<line x1="106.1" y1="247.1" x2="124.7" y2="247.1" stroke="#111" stroke-width="1.4"/>
<line x1="54.6" y1="172.7" x2="96.8" y2="172.7" stroke="#555" stroke-width="0.9"/>
<path d="M74.2 167.8L74.2 171.0M72.8 168.6L75.6 170.2M75.6 168.6L72.8 170.2" stroke="#222" stroke-width="0.85" fill="none"/>
<path d="M77.2 167.8L77.2 171.0M75.8 168.6L78.6 170.2M78.6 168.6L75.8 170.2" stroke="#222" stroke-width="0.85" fill="none"/>
<line x1="73.2" y1="182.6" x2="115.4" y2="182.6" stroke="#555" stroke-width="0.9"/>
<path d="M91.3 177.7L91.3 180.9M89.9 178.5L92.7 180.1M92.7 178.5L89.9 180.1" stroke="#222" stroke-width="0.85" fill="none"/>
<path d="M94.3 177.7L94.3 180.9M92.9 178.5L95.7 180.1M95.7 178.5L92.9 180.1" stroke="#222" stroke-width="0.85" fill="none"/>
<path d="M97.3 177.7L97.3 180.9M95.9 178.5L98.7 180.1M98.7 178.5L95.9 180.1" stroke="#222" stroke-width="0.85" fill="none"/>
<line x1="96.8" y1="195.8" x2="115.4" y2="195.8" stroke="#555" stroke-width="0.9"/>
<path d="M103.1 190.9L103.1 194.1M101.7 191.7L104.5 193.3M104.5 191.7L101.7 193.3" stroke="#222" stroke-width="0.85" fill="none"/>
<path d="M106.1 190.9L106.1 194.1M104.7 191.7L107.5 193.3M107.5 191.7L104.7 193.3" stroke="#222" stroke-width="0.85" fill="none"/>
<path d="M109.1 190.9L109.1 194.1M107.7 191.7L110.5 193.3M110.5 191.7L107.7 193.3" stroke="#222" stroke-width="0.85" fill="none"/>
<text x="202.4" y="146.5" font-size="6.8" text-anchor="middle" font-weight="bold" fill="#111" stroke="#111" stroke-width="0.25" dominant-baseline="central">WNT4</text>
<circle cx="166.0" cy="157.8" r="1.45" fill="#dc80f4" stroke="#9b27d6" stroke-width="0.9"/>
<text x="172.3" y="157.8" font-size="5.0" text-anchor="start" font-weight="bold" fill="#111" stroke="#111" stroke-width="0.12" dominant-baseline="central">MED12-WT</text>
<path d="M205.6 155.9L207.5 157.8L205.6 159.7L203.7 157.8Z" fill="#ffd900" stroke="#f07a00" stroke-width="0.9"/>
<text x="212.4" y="157.8" font-size="5.0" text-anchor="start" font-weight="bold" fill="#111" stroke="#111" stroke-width="0.12" dominant-baseline="central">MED12-Mut</text>
<line x1="158.5" y1="163.5" x2="158.5" y2="255.5" stroke="#222" stroke-width="1.1"/>
<line x1="157.9" y1="254.9" x2="250.8" y2="254.9" stroke="#222" stroke-width="1.1"/>
<line x1="156.5" y1="163.6" x2="158.5" y2="163.6" stroke="#222" stroke-width="0.7"/>
<text x="156.0" y="163.8" font-size="3.9" text-anchor="end" font-weight="normal" fill="#111" stroke="#111" stroke-width="0.15" dominant-baseline="central">30</text>
<line x1="156.5" y1="168.7" x2="158.5" y2="168.7" stroke="#222" stroke-width="0.7"/>
<text x="156.0" y="168.8" font-size="3.9" text-anchor="end" font-weight="normal" fill="#111" stroke="#111" stroke-width="0.15" dominant-baseline="central">15</text>
<line x1="156.5" y1="192.6" x2="158.5" y2="192.6" stroke="#222" stroke-width="0.7"/>
<text x="156.0" y="192.8" font-size="3.9" text-anchor="end" font-weight="normal" fill="#111" stroke="#111" stroke-width="0.15" dominant-baseline="central">4</text>
<line x1="156.5" y1="223.6" x2="158.5" y2="223.6" stroke="#222" stroke-width="0.7"/>
<text x="156.0" y="223.8" font-size="3.9" text-anchor="end" font-weight="normal" fill="#111" stroke="#111" stroke-width="0.15" dominant-baseline="central">2</text>
<line x1="156.5" y1="254.6" x2="158.5" y2="254.6" stroke="#222" stroke-width="0.7"/>
<text x="156.0" y="254.8" font-size="3.9" text-anchor="end" font-weight="normal" fill="#111" stroke="#111" stroke-width="0.15" dominant-baseline="central">0</text>
<line x1="157.0" y1="239.1" x2="158.5" y2="239.1" stroke="#222" stroke-width="0.6"/>
<line x1="157.0" y1="208.1" x2="158.5" y2="208.1" stroke="#222" stroke-width="0.6"/>
<rect x="157.0" y="175.3" width="3" height="4" fill="#fff"/>
<line x1="156.9" y1="179.1" x2="160.1" y2="175.5" stroke="#222" stroke-width="0.8"/>
<line x1="183.5" y1="254.9" x2="183.5" y2="256.9" stroke="#222" stroke-width="0.7"/>
<line x1="225.8" y1="254.9" x2="225.8" y2="256.9" stroke="#222" stroke-width="0.7"/>
<text x="183.5" y="262.0" font-size="5.7" text-anchor="middle" font-weight="bold" fill="#111" stroke="#111" stroke-width="0.2" dominant-baseline="central">Myometrium</text>
<text x="225.8" y="262.0" font-size="5.7" text-anchor="middle" font-weight="bold" fill="#111" stroke="#111" stroke-width="0.2" dominant-baseline="central">Leiomyoma</text>
<text x="140.7" y="209.5" font-size="7.4" text-anchor="middle" font-weight="bold" fill="#111" stroke="#111" stroke-width="0.3" dominant-baseline="central" transform="rotate(-90 140.7 209.5)">Relative Expression</text>
<text x="148.4" y="209.5" font-size="5.5" text-anchor="middle" font-weight="bold" fill="#111" stroke="#111" stroke-width="0.12" dominant-baseline="central" transform="rotate(-90 148.4 209.5)">(WNT4/FBXW2)</text>
<circle cx="174.1" cy="249.5" r="1.8" fill="#dc80f4" stroke="#9b27d6" stroke-width="0.9"/>
<circle cx="177.7" cy="247.7" r="1.8" fill="#dc80f4" stroke="#9b27d6" stroke-width="0.9"/>
<circle cx="170.5" cy="246.7" r="1.8" fill="#dc80f4" stroke="#9b27d6" stroke-width="0.9"/>
<circle cx="174.1" cy="245.6" r="1.8" fill="#dc80f4" stroke="#9b27d6" stroke-width="0.9"/>
<circle cx="179.5" cy="244.7" r="1.8" fill="#dc80f4" stroke="#9b27d6" stroke-width="0.9"/>
<circle cx="166.9" cy="244.3" r="1.8" fill="#dc80f4" stroke="#9b27d6" stroke-width="0.9"/>
<circle cx="179.8" cy="243.5" r="1.8" fill="#dc80f4" stroke="#9b27d6" stroke-width="0.9"/>
<circle cx="175.9" cy="242.4" r="1.8" fill="#dc80f4" stroke="#9b27d6" stroke-width="0.9"/>
<circle cx="172.3" cy="241.6" r="1.8" fill="#dc80f4" stroke="#9b27d6" stroke-width="0.9"/>
<circle cx="168.7" cy="240.4" r="1.8" fill="#dc80f4" stroke="#9b27d6" stroke-width="0.9"/>
<circle cx="179.5" cy="239.6" r="1.8" fill="#dc80f4" stroke="#9b27d6" stroke-width="0.9"/>
<circle cx="180.5" cy="239.0" r="1.8" fill="#dc80f4" stroke="#9b27d6" stroke-width="0.9"/>
<circle cx="174.1" cy="238.6" r="1.8" fill="#dc80f4" stroke="#9b27d6" stroke-width="0.9"/>
<circle cx="170.2" cy="237.6" r="1.8" fill="#dc80f4" stroke="#9b27d6" stroke-width="0.9"/>
<circle cx="177.7" cy="236.4" r="1.8" fill="#dc80f4" stroke="#9b27d6" stroke-width="0.9"/>
<circle cx="166.9" cy="235.9" r="1.8" fill="#dc80f4" stroke="#9b27d6" stroke-width="0.9"/>
<circle cx="174.1" cy="234.8" r="1.8" fill="#dc80f4" stroke="#9b27d6" stroke-width="0.9"/>
<circle cx="170.5" cy="233.6" r="1.8" fill="#dc80f4" stroke="#9b27d6" stroke-width="0.9"/>
<circle cx="177.7" cy="232.6" r="1.8" fill="#dc80f4" stroke="#9b27d6" stroke-width="0.9"/>
<circle cx="174.1" cy="231.4" r="1.8" fill="#dc80f4" stroke="#9b27d6" stroke-width="0.9"/>
<circle cx="174.1" cy="172.2" r="1.8" fill="#dc80f4" stroke="#9b27d6" stroke-width="0.9"/>
<path d="M193.2 246.3L195.5 248.6L193.2 250.9L190.9 248.6Z" fill="#ffd900" stroke="#f07a00" stroke-width="0.9"/>
<path d="M196.8 245.1L199.1 247.4L196.8 249.7L194.5 247.4Z" fill="#ffd900" stroke="#f07a00" stroke-width="0.9"/>
<path d="M189.6 243.5L191.9 245.8L189.6 248.1L187.3 245.8Z" fill="#ffd900" stroke="#f07a00" stroke-width="0.9"/>
<path d="M200.4 243.0L202.7 245.3L200.4 247.6L198.1 245.3Z" fill="#ffd900" stroke="#f07a00" stroke-width="0.9"/>
<path d="M193.2 241.9L195.5 244.2L193.2 246.5L190.9 244.2Z" fill="#ffd900" stroke="#f07a00" stroke-width="0.9"/>
<path d="M196.8 241.0L199.1 243.3L196.8 245.6L194.5 243.3Z" fill="#ffd900" stroke="#f07a00" stroke-width="0.9"/>
<path d="M186.0 240.6L188.3 242.9L186.0 245.2L183.7 242.9Z" fill="#ffd900" stroke="#f07a00" stroke-width="0.9"/>
<path d="M189.6 239.7L191.9 242.0L189.6 244.3L187.3 242.0Z" fill="#ffd900" stroke="#f07a00" stroke-width="0.9"/>
<path d="M200.4 239.5L202.7 241.8L200.4 244.1L198.1 241.8Z" fill="#ffd900" stroke="#f07a00" stroke-width="0.9"/>
<path d="M186.8 238.5L189.1 240.8L186.8 243.1L184.5 240.8Z" fill="#ffd900" stroke="#f07a00" stroke-width="0.9"/>
<path d="M193.2 237.5L195.5 239.8L193.2 242.1L190.9 239.8Z" fill="#ffd900" stroke="#f07a00" stroke-width="0.9"/>
<path d="M196.8 237.1L199.1 239.4L196.8 241.7L194.5 239.4Z" fill="#ffd900" stroke="#f07a00" stroke-width="0.9"/>
<path d="M200.3 236.4L202.6 238.7L200.3 241.0L198.0 238.7Z" fill="#ffd900" stroke="#f07a00" stroke-width="0.9"/>
<path d="M189.6 235.6L191.9 237.9L189.6 240.2L187.3 237.9Z" fill="#ffd900" stroke="#f07a00" stroke-width="0.9"/>
<path d="M186.0 234.7L188.3 237.0L186.0 239.3L183.7 237.0Z" fill="#ffd900" stroke="#f07a00" stroke-width="0.9"/>
<path d="M191.2 234.6L193.5 236.9L191.2 239.2L188.9 236.9Z" fill="#ffd900" stroke="#f07a00" stroke-width="0.9"/>
<path d="M195.0 233.8L197.3 236.1L195.0 238.4L192.7 236.1Z" fill="#ffd900" stroke="#f07a00" stroke-width="0.9"/>
<path d="M198.6 233.0L200.9 235.3L198.6 237.6L196.3 235.3Z" fill="#ffd900" stroke="#f07a00" stroke-width="0.9"/>
<path d="M197.6 232.2L199.9 234.5L197.6 236.8L195.3 234.5Z" fill="#ffd900" stroke="#f07a00" stroke-width="0.9"/>
<path d="M197.3 231.9L199.6 234.2L197.3 236.5L195.0 234.2Z" fill="#ffd900" stroke="#f07a00" stroke-width="0.9"/>
<path d="M193.2 230.6L195.5 232.9L193.2 235.2L190.9 232.9Z" fill="#ffd900" stroke="#f07a00" stroke-width="0.9"/>
<path d="M189.6 229.8L191.9 232.1L189.6 234.4L187.3 232.1Z" fill="#ffd900" stroke="#f07a00" stroke-width="0.9"/>
<path d="M200.4 229.5L202.7 231.8L200.4 234.1L198.1 231.8Z" fill="#ffd900" stroke="#f07a00" stroke-width="0.9"/>
<path d="M196.8 228.4L199.1 230.7L196.8 233.0L194.5 230.7Z" fill="#ffd900" stroke="#f07a00" stroke-width="0.9"/>
<path d="M186.0 227.3L188.3 229.6L186.0 231.9L183.7 229.6Z" fill="#ffd900" stroke="#f07a00" stroke-width="0.9"/>
<path d="M193.2 226.5L195.5 228.8L193.2 231.1L190.9 228.8Z" fill="#ffd900" stroke="#f07a00" stroke-width="0.9"/>
<path d="M193.2 222.5L195.5 224.8L193.2 227.1L190.9 224.8Z" fill="#ffd900" stroke="#f07a00" stroke-width="0.9"/>
<path d="M193.2 218.7L195.5 221.0L193.2 223.3L190.9 221.0Z" fill="#ffd900" stroke="#f07a00" stroke-width="0.9"/>
<path d="M193.2 208.8L195.5 211.1L193.2 213.4L190.9 211.1Z" fill="#ffd900" stroke="#f07a00" stroke-width="0.9"/>
<path d="M193.2 190.2L195.5 192.5L193.2 194.8L190.9 192.5Z" fill="#ffd900" stroke="#f07a00" stroke-width="0.9"/>
<path d="M193.2 170.4L195.5 172.7L193.2 175.0L190.9 172.7Z" fill="#ffd900" stroke="#f07a00" stroke-width="0.9"/>
<path d="M195.0 167.4L197.3 169.7L195.0 172.0L192.7 169.7Z" fill="#ffd900" stroke="#f07a00" stroke-width="0.9"/>
<circle cx="215.6" cy="251.8" r="1.8" fill="#dc80f4" stroke="#9b27d6" stroke-width="0.9"/>
<circle cx="219.2" cy="250.4" r="1.8" fill="#dc80f4" stroke="#9b27d6" stroke-width="0.9"/>
<circle cx="212.0" cy="248.9" r="1.8" fill="#dc80f4" stroke="#9b27d6" stroke-width="0.9"/>
<circle cx="215.6" cy="248.2" r="1.8" fill="#dc80f4" stroke="#9b27d6" stroke-width="0.9"/>
<circle cx="221.0" cy="247.3" r="1.8" fill="#dc80f4" stroke="#9b27d6" stroke-width="0.9"/>
<circle cx="218.7" cy="246.5" r="1.8" fill="#dc80f4" stroke="#9b27d6" stroke-width="0.9"/>
<circle cx="212.0" cy="245.4" r="1.8" fill="#dc80f4" stroke="#9b27d6" stroke-width="0.9"/>
<circle cx="215.6" cy="244.0" r="1.8" fill="#dc80f4" stroke="#9b27d6" stroke-width="0.9"/>
<circle cx="221.0" cy="243.4" r="1.8" fill="#dc80f4" stroke="#9b27d6" stroke-width="0.9"/>
<circle cx="210.2" cy="242.2" r="1.8" fill="#dc80f4" stroke="#9b27d6" stroke-width="0.9"/>
<circle cx="217.4" cy="241.0" r="1.8" fill="#dc80f4" stroke="#9b27d6" stroke-width="0.9"/>
<circle cx="213.8" cy="239.3" r="1.8" fill="#dc80f4" stroke="#9b27d6" stroke-width="0.9"/>
<circle cx="215.6" cy="235.2" r="1.8" fill="#dc80f4" stroke="#9b27d6" stroke-width="0.9"/>
<circle cx="217.4" cy="232.2" r="1.8" fill="#dc80f4" stroke="#9b27d6" stroke-width="0.9"/>
<circle cx="215.6" cy="224.3" r="1.8" fill="#dc80f4" stroke="#9b27d6" stroke-width="0.9"/>
<circle cx="215.6" cy="217.8" r="1.8" fill="#dc80f4" stroke="#9b27d6" stroke-width="0.9"/>
<circle cx="215.6" cy="189.0" r="1.8" fill="#dc80f4" stroke="#9b27d6" stroke-width="0.9"/>
<circle cx="219.2" cy="188.3" r="1.8" fill="#dc80f4" stroke="#9b27d6" stroke-width="0.9"/>
<circle cx="215.6" cy="179.1" r="1.8" fill="#dc80f4" stroke="#9b27d6" stroke-width="0.9"/>
<path d="M235.4 244.0L237.7 246.3L235.4 248.6L233.1 246.3Z" fill="#ffd900" stroke="#f07a00" stroke-width="0.9"/>
<path d="M237.2 241.1L239.5 243.4L237.2 245.7L234.9 243.4Z" fill="#ffd900" stroke="#f07a00" stroke-width="0.9"/>
<path d="M233.6 239.1L235.9 241.4L233.6 243.7L231.3 241.4Z" fill="#ffd900" stroke="#f07a00" stroke-width="0.9"/>
<path d="M237.2 236.6L239.5 238.9L237.2 241.2L234.9 238.9Z" fill="#ffd900" stroke="#f07a00" stroke-width="0.9"/>
<path d="M233.6 234.9L235.9 237.2L233.6 239.5L231.3 237.2Z" fill="#ffd900" stroke="#f07a00" stroke-width="0.9"/>
<path d="M237.2 232.7L239.5 235.0L237.2 237.3L234.9 235.0Z" fill="#ffd900" stroke="#f07a00" stroke-width="0.9"/>
<path d="M231.8 231.6L234.1 233.9L231.8 236.2L229.5 233.9Z" fill="#ffd900" stroke="#f07a00" stroke-width="0.9"/>
<path d="M235.4 229.4L237.7 231.7L235.4 234.0L233.1 231.7Z" fill="#ffd900" stroke="#f07a00" stroke-width="0.9"/>
<path d="M239.0 227.7L241.3 230.0L239.0 232.3L236.7 230.0Z" fill="#ffd900" stroke="#f07a00" stroke-width="0.9"/>
<path d="M233.6 226.1L235.9 228.4L233.6 230.7L231.3 228.4Z" fill="#ffd900" stroke="#f07a00" stroke-width="0.9"/>
<path d="M230.0 224.8L232.3 227.1L230.0 229.4L227.7 227.1Z" fill="#ffd900" stroke="#f07a00" stroke-width="0.9"/>
<path d="M235.4 223.1L237.7 225.4L235.4 227.7L233.1 225.4Z" fill="#ffd900" stroke="#f07a00" stroke-width="0.9"/>
<path d="M239.0 221.7L241.3 224.0L239.0 226.3L236.7 224.0Z" fill="#ffd900" stroke="#f07a00" stroke-width="0.9"/>
<path d="M233.6 220.2L235.9 222.5L233.6 224.8L231.3 222.5Z" fill="#ffd900" stroke="#f07a00" stroke-width="0.9"/>
<path d="M237.2 218.1L239.5 220.4L237.2 222.7L234.9 220.4Z" fill="#ffd900" stroke="#f07a00" stroke-width="0.9"/>
<path d="M233.6 216.7L235.9 219.0L233.6 221.3L231.3 219.0Z" fill="#ffd900" stroke="#f07a00" stroke-width="0.9"/>
<path d="M239.0 215.2L241.3 217.5L239.0 219.8L236.7 217.5Z" fill="#ffd900" stroke="#f07a00" stroke-width="0.9"/>
<path d="M235.4 213.7L237.7 216.0L235.4 218.3L233.1 216.0Z" fill="#ffd900" stroke="#f07a00" stroke-width="0.9"/>
<path d="M231.8 212.2L234.1 214.5L231.8 216.8L229.5 214.5Z" fill="#ffd900" stroke="#f07a00" stroke-width="0.9"/>
<path d="M237.2 210.5L239.5 212.8L237.2 215.1L234.9 212.8Z" fill="#ffd900" stroke="#f07a00" stroke-width="0.9"/>
<path d="M233.6 208.8L235.9 211.1L233.6 213.4L231.3 211.1Z" fill="#ffd900" stroke="#f07a00" stroke-width="0.9"/>
<path d="M239.0 207.2L241.3 209.5L239.0 211.8L236.7 209.5Z" fill="#ffd900" stroke="#f07a00" stroke-width="0.9"/>
<path d="M235.4 205.0L237.7 207.3L235.4 209.6L233.1 207.3Z" fill="#ffd900" stroke="#f07a00" stroke-width="0.9"/>
<path d="M239.0 202.9L241.3 205.2L239.0 207.5L236.7 205.2Z" fill="#ffd900" stroke="#f07a00" stroke-width="0.9"/>
<path d="M235.4 201.4L237.7 203.7L235.4 206.0L233.1 203.7Z" fill="#ffd900" stroke="#f07a00" stroke-width="0.9"/>
<path d="M237.2 198.5L239.5 200.8L237.2 203.1L234.9 200.8Z" fill="#ffd900" stroke="#f07a00" stroke-width="0.9"/>
<path d="M233.6 196.0L235.9 198.3L233.6 200.6L231.3 198.3Z" fill="#ffd900" stroke="#f07a00" stroke-width="0.9"/>
<path d="M235.4 192.2L237.7 194.5L235.4 196.8L233.1 194.5Z" fill="#ffd900" stroke="#f07a00" stroke-width="0.9"/>
<path d="M235.4 188.7L237.7 191.0L235.4 193.3L233.1 191.0Z" fill="#ffd900" stroke="#f07a00" stroke-width="0.9"/>
<path d="M237.2 185.7L239.5 188.0L237.2 190.3L234.9 188.0Z" fill="#ffd900" stroke="#f07a00" stroke-width="0.9"/>
<path d="M235.4 170.8L237.7 173.1L235.4 175.4L233.1 173.1Z" fill="#ffd900" stroke="#f07a00" stroke-width="0.9"/>
<path d="M239.0 169.5L241.3 171.8L239.0 174.1L236.7 171.8Z" fill="#ffd900" stroke="#f07a00" stroke-width="0.9"/>
<path d="M231.8 169.3L234.1 171.6L231.8 173.9L229.5 171.6Z" fill="#ffd900" stroke="#f07a00" stroke-width="0.9"/>
<path d="M234.0 168.8L236.3 171.1L234.0 173.4L231.7 171.1Z" fill="#ffd900" stroke="#f07a00" stroke-width="0.9"/>
<path d="M236.0 167.9L238.3 170.2L236.0 172.5L233.7 170.2Z" fill="#ffd900" stroke="#f07a00" stroke-width="0.9"/>
<path d="M239.2 167.6L241.5 169.9L239.2 172.2L236.9 169.9Z" fill="#ffd900" stroke="#f07a00" stroke-width="0.9"/>
<path d="M233.3 167.0L235.6 169.3L233.3 171.6L231.0 169.3Z" fill="#ffd900" stroke="#f07a00" stroke-width="0.9"/>
<path d="M235.4 162.0L237.7 164.3L235.4 166.6L233.1 164.3Z" fill="#ffd900" stroke="#f07a00" stroke-width="0.9"/>
<line x1="164.1" y1="237.2" x2="184.1" y2="237.2" stroke="#111" stroke-width="1.4"/>
<line x1="193.2" y1="228.5" x2="193.2" y2="237.2" stroke="#222" stroke-width="0.85"/>
<line x1="190.6" y1="228.5" x2="195.8" y2="228.5" stroke="#222" stroke-width="0.85"/>
<line x1="190.6" y1="237.2" x2="195.8" y2="237.2" stroke="#222" stroke-width="0.85"/>
<line x1="184.0" y1="232.7" x2="202.4" y2="232.7" stroke="#111" stroke-width="1.4"/>
<line x1="215.6" y1="232.2" x2="215.6" y2="240.9" stroke="#222" stroke-width="0.85"/>
<line x1="213.0" y1="232.2" x2="218.2" y2="232.2" stroke="#222" stroke-width="0.85"/>
<line x1="213.0" y1="240.9" x2="218.2" y2="240.9" stroke="#222" stroke-width="0.85"/>
<line x1="206.1" y1="236.7" x2="225.1" y2="236.7" stroke="#111" stroke-width="1.4"/>
<line x1="235.4" y1="195.0" x2="235.4" y2="211.1" stroke="#222" stroke-width="0.85"/>
<line x1="232.8" y1="195.0" x2="238.0" y2="195.0" stroke="#222" stroke-width="0.85"/>
<line x1="232.8" y1="211.1" x2="238.0" y2="211.1" stroke="#222" stroke-width="0.85"/>
<line x1="225.5" y1="200.5" x2="245.3" y2="200.5" stroke="#111" stroke-width="1.4"/>
<line x1="194.0" y1="166.0" x2="236.2" y2="166.0" stroke="#555" stroke-width="0.9"/>
<path d="M213.6 161.1L213.6 164.3M212.2 161.9L215.0 163.5M215.0 161.9L212.2 163.5" stroke="#222" stroke-width="0.85" fill="none"/>
<path d="M216.6 161.1L216.6 164.3M215.2 161.9L218.0 163.5M218.0 161.9L215.2 163.5" stroke="#222" stroke-width="0.85" fill="none"/>
<line x1="215.6" y1="183.4" x2="236.2" y2="183.4" stroke="#555" stroke-width="0.9"/>
<path d="M222.9 178.5L222.9 181.7M221.5 179.3L224.3 180.9M224.3 179.3L221.5 180.9" stroke="#222" stroke-width="0.85" fill="none"/>
<path d="M225.9 178.5L225.9 181.7M224.5 179.3L227.3 180.9M227.3 179.3L224.5 180.9" stroke="#222" stroke-width="0.85" fill="none"/>
<path d="M228.9 178.5L228.9 181.7M227.5 179.3L230.3 180.9M230.3 179.3L227.5 180.9" stroke="#222" stroke-width="0.85" fill="none"/>
<text x="325.7" y="146.5" font-size="6.8" text-anchor="middle" font-weight="bold" fill="#111" stroke="#111" stroke-width="0.25" dominant-baseline="central">WNT2</text>
<circle cx="286.0" cy="157.8" r="1.45" fill="#dc80f4" stroke="#9b27d6" stroke-width="0.9"/>
<text x="292.3" y="157.8" font-size="5.0" text-anchor="start" font-weight="bold" fill="#111" stroke="#111" stroke-width="0.12" dominant-baseline="central">MED12-WT</text>
<path d="M325.7 155.9L327.6 157.8L325.7 159.7L323.8 157.8Z" fill="#ffd900" stroke="#f07a00" stroke-width="0.9"/>
<text x="332.5" y="157.8" font-size="5.0" text-anchor="start" font-weight="bold" fill="#111" stroke="#111" stroke-width="0.12" dominant-baseline="central">MED12-Mut</text>
<line x1="278.7" y1="163.5" x2="278.7" y2="255.5" stroke="#222" stroke-width="1.1"/>
<line x1="278.1" y1="254.9" x2="371.4" y2="254.9" stroke="#222" stroke-width="1.1"/>
<line x1="276.7" y1="164.0" x2="278.7" y2="164.0" stroke="#222" stroke-width="0.7"/>
<text x="276.2" y="164.2" font-size="3.9" text-anchor="end" font-weight="normal" fill="#111" stroke="#111" stroke-width="0.15" dominant-baseline="central">15</text>
<line x1="276.7" y1="167.2" x2="278.7" y2="167.2" stroke="#222" stroke-width="0.7"/>
<text x="276.2" y="167.3" font-size="3.9" text-anchor="end" font-weight="normal" fill="#111" stroke="#111" stroke-width="0.15" dominant-baseline="central">10</text>
<line x1="276.7" y1="192.5" x2="278.7" y2="192.5" stroke="#222" stroke-width="0.7"/>
<text x="276.2" y="192.7" font-size="3.9" text-anchor="end" font-weight="normal" fill="#111" stroke="#111" stroke-width="0.15" dominant-baseline="central">4</text>
<line x1="276.7" y1="223.5" x2="278.7" y2="223.5" stroke="#222" stroke-width="0.7"/>
<text x="276.2" y="223.7" font-size="3.9" text-anchor="end" font-weight="normal" fill="#111" stroke="#111" stroke-width="0.15" dominant-baseline="central">2</text>
<line x1="276.7" y1="254.5" x2="278.7" y2="254.5" stroke="#222" stroke-width="0.7"/>
<text x="276.2" y="254.7" font-size="3.9" text-anchor="end" font-weight="normal" fill="#111" stroke="#111" stroke-width="0.15" dominant-baseline="central">0</text>
<line x1="277.2" y1="239.0" x2="278.7" y2="239.0" stroke="#222" stroke-width="0.6"/>
<line x1="277.2" y1="208.0" x2="278.7" y2="208.0" stroke="#222" stroke-width="0.6"/>
<rect x="277.2" y="172.7" width="3" height="4" fill="#fff"/>
<line x1="277.1" y1="176.5" x2="280.3" y2="172.9" stroke="#222" stroke-width="0.8"/>
<line x1="303.5" y1="254.9" x2="303.5" y2="256.9" stroke="#222" stroke-width="0.7"/>
<line x1="345.5" y1="254.9" x2="345.5" y2="256.9" stroke="#222" stroke-width="0.7"/>
<text x="303.5" y="262.0" font-size="5.7" text-anchor="middle" font-weight="bold" fill="#111" stroke="#111" stroke-width="0.2" dominant-baseline="central">Myometrium</text>
<text x="345.5" y="262.0" font-size="5.7" text-anchor="middle" font-weight="bold" fill="#111" stroke="#111" stroke-width="0.2" dominant-baseline="central">Leiomyoma</text>
<text x="259.6" y="209.5" font-size="7.4" text-anchor="middle" font-weight="bold" fill="#111" stroke="#111" stroke-width="0.3" dominant-baseline="central" transform="rotate(-90 259.6 209.5)">Relative Expression</text>
<text x="268.4" y="209.5" font-size="5.5" text-anchor="middle" font-weight="bold" fill="#111" stroke="#111" stroke-width="0.12" dominant-baseline="central" transform="rotate(-90 268.4 209.5)">(WNT2/FBXW2)</text>
<circle cx="293.4" cy="250.1" r="1.8" fill="#dc80f4" stroke="#9b27d6" stroke-width="0.9"/>
<circle cx="297.0" cy="248.9" r="1.8" fill="#dc80f4" stroke="#9b27d6" stroke-width="0.9"/>
<circle cx="289.8" cy="247.7" r="1.8" fill="#dc80f4" stroke="#9b27d6" stroke-width="0.9"/>
<circle cx="293.4" cy="246.6" r="1.8" fill="#dc80f4" stroke="#9b27d6" stroke-width="0.9"/>
<circle cx="297.0" cy="245.4" r="1.8" fill="#dc80f4" stroke="#9b27d6" stroke-width="0.9"/>
<circle cx="289.8" cy="244.1" r="1.8" fill="#dc80f4" stroke="#9b27d6" stroke-width="0.9"/>
<circle cx="293.4" cy="242.9" r="1.8" fill="#dc80f4" stroke="#9b27d6" stroke-width="0.9"/>
<circle cx="297.0" cy="241.8" r="1.8" fill="#dc80f4" stroke="#9b27d6" stroke-width="0.9"/>
<circle cx="292.0" cy="241.3" r="1.8" fill="#dc80f4" stroke="#9b27d6" stroke-width="0.9"/>
<circle cx="288.0" cy="240.3" r="1.8" fill="#dc80f4" stroke="#9b27d6" stroke-width="0.9"/>
<circle cx="295.2" cy="238.7" r="1.8" fill="#dc80f4" stroke="#9b27d6" stroke-width="0.9"/>
<circle cx="291.6" cy="237.6" r="1.8" fill="#dc80f4" stroke="#9b27d6" stroke-width="0.9"/>
<circle cx="298.8" cy="236.5" r="1.8" fill="#dc80f4" stroke="#9b27d6" stroke-width="0.9"/>
<circle cx="295.2" cy="235.1" r="1.8" fill="#dc80f4" stroke="#9b27d6" stroke-width="0.9"/>
<circle cx="291.6" cy="234.1" r="1.8" fill="#dc80f4" stroke="#9b27d6" stroke-width="0.9"/>
<circle cx="293.4" cy="227.2" r="1.8" fill="#dc80f4" stroke="#9b27d6" stroke-width="0.9"/>
<circle cx="297.0" cy="226.0" r="1.8" fill="#dc80f4" stroke="#9b27d6" stroke-width="0.9"/>
<circle cx="293.4" cy="204.9" r="1.8" fill="#dc80f4" stroke="#9b27d6" stroke-width="0.9"/>
<circle cx="293.4" cy="199.5" r="1.8" fill="#dc80f4" stroke="#9b27d6" stroke-width="0.9"/>
<path d="M313.3 247.7L315.6 250.0L313.3 252.3L311.0 250.0Z" fill="#ffd900" stroke="#f07a00" stroke-width="0.9"/>
<path d="M316.9 245.6L319.2 247.9L316.9 250.2L314.6 247.9Z" fill="#ffd900" stroke="#f07a00" stroke-width="0.9"/>
<path d="M313.3 244.3L315.6 246.6L313.3 248.9L311.0 246.6Z" fill="#ffd900" stroke="#f07a00" stroke-width="0.9"/>
<path d="M309.7 243.0L312.0 245.3L309.7 247.6L307.4 245.3Z" fill="#ffd900" stroke="#f07a00" stroke-width="0.9"/>
<path d="M316.9 241.7L319.2 244.0L316.9 246.3L314.6 244.0Z" fill="#ffd900" stroke="#f07a00" stroke-width="0.9"/>
<path d="M313.3 240.7L315.6 243.0L313.3 245.3L311.0 243.0Z" fill="#ffd900" stroke="#f07a00" stroke-width="0.9"/>
<path d="M307.9 239.6L310.2 241.9L307.9 244.2L305.6 241.9Z" fill="#ffd900" stroke="#f07a00" stroke-width="0.9"/>
<path d="M316.9 237.9L319.2 240.2L316.9 242.5L314.6 240.2Z" fill="#ffd900" stroke="#f07a00" stroke-width="0.9"/>
<path d="M311.5 237.4L313.8 239.7L311.5 242.0L309.2 239.7Z" fill="#ffd900" stroke="#f07a00" stroke-width="0.9"/>
<path d="M320.5 236.2L322.8 238.5L320.5 240.8L318.2 238.5Z" fill="#ffd900" stroke="#f07a00" stroke-width="0.9"/>
<path d="M307.9 235.1L310.2 237.4L307.9 239.7L305.6 237.4Z" fill="#ffd900" stroke="#f07a00" stroke-width="0.9"/>
<path d="M313.3 234.4L315.6 236.7L313.3 239.0L311.0 236.7Z" fill="#ffd900" stroke="#f07a00" stroke-width="0.9"/>
<path d="M316.9 232.9L319.2 235.2L316.9 237.5L314.6 235.2Z" fill="#ffd900" stroke="#f07a00" stroke-width="0.9"/>
<path d="M320.5 232.2L322.8 234.5L320.5 236.8L318.2 234.5Z" fill="#ffd900" stroke="#f07a00" stroke-width="0.9"/>
<path d="M311.5 231.4L313.8 233.7L311.5 236.0L309.2 233.7Z" fill="#ffd900" stroke="#f07a00" stroke-width="0.9"/>
<path d="M307.9 230.1L310.2 232.4L307.9 234.7L305.6 232.4Z" fill="#ffd900" stroke="#f07a00" stroke-width="0.9"/>
<path d="M315.1 229.0L317.4 231.3L315.1 233.6L312.8 231.3Z" fill="#ffd900" stroke="#f07a00" stroke-width="0.9"/>
<path d="M311.5 227.8L313.8 230.1L311.5 232.4L309.2 230.1Z" fill="#ffd900" stroke="#f07a00" stroke-width="0.9"/>
<path d="M318.7 226.5L321.0 228.8L318.7 231.1L316.4 228.8Z" fill="#ffd900" stroke="#f07a00" stroke-width="0.9"/>
<path d="M307.9 225.8L310.2 228.1L307.9 230.4L305.6 228.1Z" fill="#ffd900" stroke="#f07a00" stroke-width="0.9"/>
<path d="M313.3 224.5L315.6 226.8L313.3 229.1L311.0 226.8Z" fill="#ffd900" stroke="#f07a00" stroke-width="0.9"/>
<path d="M316.9 223.1L319.2 225.4L316.9 227.7L314.6 225.4Z" fill="#ffd900" stroke="#f07a00" stroke-width="0.9"/>
<path d="M313.3 221.0L315.6 223.3L313.3 225.6L311.0 223.3Z" fill="#ffd900" stroke="#f07a00" stroke-width="0.9"/>
<path d="M309.7 219.7L312.0 222.0L309.7 224.3L307.4 222.0Z" fill="#ffd900" stroke="#f07a00" stroke-width="0.9"/>
<path d="M313.3 215.5L315.6 217.8L313.3 220.1L311.0 217.8Z" fill="#ffd900" stroke="#f07a00" stroke-width="0.9"/>
<path d="M316.9 213.4L319.2 215.7L316.9 218.0L314.6 215.7Z" fill="#ffd900" stroke="#f07a00" stroke-width="0.9"/>
<path d="M313.3 212.0L315.6 214.3L313.3 216.6L311.0 214.3Z" fill="#ffd900" stroke="#f07a00" stroke-width="0.9"/>
<path d="M309.7 210.2L312.0 212.5L309.7 214.8L307.4 212.5Z" fill="#ffd900" stroke="#f07a00" stroke-width="0.9"/>
<path d="M313.3 207.9L315.6 210.2L313.3 212.5L311.0 210.2Z" fill="#ffd900" stroke="#f07a00" stroke-width="0.9"/>
<path d="M313.3 198.9L315.6 201.2L313.3 203.5L311.0 201.2Z" fill="#ffd900" stroke="#f07a00" stroke-width="0.9"/>
<path d="M313.3 191.5L315.6 193.8L313.3 196.1L311.0 193.8Z" fill="#ffd900" stroke="#f07a00" stroke-width="0.9"/>
<path d="M313.3 178.1L315.6 180.4L313.3 182.7L311.0 180.4Z" fill="#ffd900" stroke="#f07a00" stroke-width="0.9"/>
<path d="M316.9 176.8L319.2 179.1L316.9 181.4L314.6 179.1Z" fill="#ffd900" stroke="#f07a00" stroke-width="0.9"/>
<path d="M313.3 168.2L315.6 170.5L313.3 172.8L311.0 170.5Z" fill="#ffd900" stroke="#f07a00" stroke-width="0.9"/>
<circle cx="335.6" cy="252.9" r="1.8" fill="#dc80f4" stroke="#9b27d6" stroke-width="0.9"/>
<circle cx="339.2" cy="251.1" r="1.8" fill="#dc80f4" stroke="#9b27d6" stroke-width="0.9"/>
<circle cx="332.0" cy="250.3" r="1.8" fill="#dc80f4" stroke="#9b27d6" stroke-width="0.9"/>
<circle cx="335.6" cy="249.3" r="1.8" fill="#dc80f4" stroke="#9b27d6" stroke-width="0.9"/>
<circle cx="341.0" cy="247.7" r="1.8" fill="#dc80f4" stroke="#9b27d6" stroke-width="0.9"/>
<circle cx="330.2" cy="247.3" r="1.8" fill="#dc80f4" stroke="#9b27d6" stroke-width="0.9"/>
<circle cx="337.4" cy="246.3" r="1.8" fill="#dc80f4" stroke="#9b27d6" stroke-width="0.9"/>
<circle cx="333.8" cy="245.0" r="1.8" fill="#dc80f4" stroke="#9b27d6" stroke-width="0.9"/>
<circle cx="341.0" cy="243.8" r="1.8" fill="#dc80f4" stroke="#9b27d6" stroke-width="0.9"/>
<circle cx="337.4" cy="242.8" r="1.8" fill="#dc80f4" stroke="#9b27d6" stroke-width="0.9"/>
<circle cx="333.8" cy="241.4" r="1.8" fill="#dc80f4" stroke="#9b27d6" stroke-width="0.9"/>
<circle cx="339.2" cy="239.5" r="1.8" fill="#dc80f4" stroke="#9b27d6" stroke-width="0.9"/>
<circle cx="335.6" cy="234.7" r="1.8" fill="#dc80f4" stroke="#9b27d6" stroke-width="0.9"/>
<circle cx="335.6" cy="231.0" r="1.8" fill="#dc80f4" stroke="#9b27d6" stroke-width="0.9"/>
<circle cx="335.6" cy="226.0" r="1.8" fill="#dc80f4" stroke="#9b27d6" stroke-width="0.9"/>
<circle cx="335.6" cy="212.4" r="1.8" fill="#dc80f4" stroke="#9b27d6" stroke-width="0.9"/>
<circle cx="335.6" cy="192.5" r="1.8" fill="#dc80f4" stroke="#9b27d6" stroke-width="0.9"/>
<circle cx="335.6" cy="179.1" r="1.8" fill="#dc80f4" stroke="#9b27d6" stroke-width="0.9"/>
<circle cx="335.6" cy="172.2" r="1.8" fill="#dc80f4" stroke="#9b27d6" stroke-width="0.9"/>
<circle cx="335.6" cy="165.5" r="1.8" fill="#dc80f4" stroke="#9b27d6" stroke-width="0.9"/>
<path d="M356.7 246.5L359.0 248.8L356.7 251.1L354.4 248.8Z" fill="#ffd900" stroke="#f07a00" stroke-width="0.9"/>
<path d="M360.3 243.9L362.6 246.2L360.3 248.5L358.0 246.2Z" fill="#ffd900" stroke="#f07a00" stroke-width="0.9"/>
<path d="M356.7 241.4L359.0 243.7L356.7 246.0L354.4 243.7Z" fill="#ffd900" stroke="#f07a00" stroke-width="0.9"/>
<path d="M360.3 239.2L362.6 241.5L360.3 243.8L358.0 241.5Z" fill="#ffd900" stroke="#f07a00" stroke-width="0.9"/>
<path d="M356.7 237.5L359.0 239.8L356.7 242.1L354.4 239.8Z" fill="#ffd900" stroke="#f07a00" stroke-width="0.9"/>
<path d="M360.3 235.5L362.6 237.8L360.3 240.1L358.0 237.8Z" fill="#ffd900" stroke="#f07a00" stroke-width="0.9"/>
<path d="M356.7 233.9L359.0 236.2L356.7 238.5L354.4 236.2Z" fill="#ffd900" stroke="#f07a00" stroke-width="0.9"/>
<path d="M353.1 232.3L355.4 234.6L353.1 236.9L350.8 234.6Z" fill="#ffd900" stroke="#f07a00" stroke-width="0.9"/>
<path d="M358.5 230.5L360.8 232.8L358.5 235.1L356.2 232.8Z" fill="#ffd900" stroke="#f07a00" stroke-width="0.9"/>
<path d="M354.9 228.6L357.2 230.9L354.9 233.2L352.6 230.9Z" fill="#ffd900" stroke="#f07a00" stroke-width="0.9"/>
<path d="M358.5 227.1L360.8 229.4L358.5 231.7L356.2 229.4Z" fill="#ffd900" stroke="#f07a00" stroke-width="0.9"/>
<path d="M353.1 225.4L355.4 227.7L353.1 230.0L350.8 227.7Z" fill="#ffd900" stroke="#f07a00" stroke-width="0.9"/>
<path d="M356.7 223.8L359.0 226.1L356.7 228.4L354.4 226.1Z" fill="#ffd900" stroke="#f07a00" stroke-width="0.9"/>
<path d="M360.3 222.4L362.6 224.7L360.3 227.0L358.0 224.7Z" fill="#ffd900" stroke="#f07a00" stroke-width="0.9"/>
<path d="M353.1 221.2L355.4 223.5L353.1 225.8L350.8 223.5Z" fill="#ffd900" stroke="#f07a00" stroke-width="0.9"/>
<path d="M356.7 219.9L359.0 222.2L356.7 224.5L354.4 222.2Z" fill="#ffd900" stroke="#f07a00" stroke-width="0.9"/>
<path d="M360.3 218.1L362.6 220.4L360.3 222.7L358.0 220.4Z" fill="#ffd900" stroke="#f07a00" stroke-width="0.9"/>
<path d="M354.9 216.8L357.2 219.1L354.9 221.4L352.6 219.1Z" fill="#ffd900" stroke="#f07a00" stroke-width="0.9"/>
<path d="M351.3 215.3L353.6 217.6L351.3 219.9L349.0 217.6Z" fill="#ffd900" stroke="#f07a00" stroke-width="0.9"/>
<path d="M356.7 213.5L359.0 215.8L356.7 218.1L354.4 215.8Z" fill="#ffd900" stroke="#f07a00" stroke-width="0.9"/>
<path d="M360.3 211.4L362.6 213.7L360.3 216.0L358.0 213.7Z" fill="#ffd900" stroke="#f07a00" stroke-width="0.9"/>
<path d="M356.7 210.0L359.0 212.3L356.7 214.6L354.4 212.3Z" fill="#ffd900" stroke="#f07a00" stroke-width="0.9"/>
<path d="M353.1 208.2L355.4 210.5L353.1 212.8L350.8 210.5Z" fill="#ffd900" stroke="#f07a00" stroke-width="0.9"/>
<path d="M356.7 206.4L359.0 208.7L356.7 211.0L354.4 208.7Z" fill="#ffd900" stroke="#f07a00" stroke-width="0.9"/>
<path d="M360.3 204.1L362.6 206.4L360.3 208.7L358.0 206.4Z" fill="#ffd900" stroke="#f07a00" stroke-width="0.9"/>
<path d="M356.7 202.0L359.0 204.3L356.7 206.6L354.4 204.3Z" fill="#ffd900" stroke="#f07a00" stroke-width="0.9"/>
<path d="M356.7 198.5L359.0 200.8L356.7 203.1L354.4 200.8Z" fill="#ffd900" stroke="#f07a00" stroke-width="0.9"/>
<path d="M356.7 192.8L359.0 195.1L356.7 197.4L354.4 195.1Z" fill="#ffd900" stroke="#f07a00" stroke-width="0.9"/>
<path d="M360.3 191.9L362.6 194.2L360.3 196.5L358.0 194.2Z" fill="#ffd900" stroke="#f07a00" stroke-width="0.9"/>
<path d="M353.1 190.4L355.4 192.7L353.1 195.0L350.8 192.7Z" fill="#ffd900" stroke="#f07a00" stroke-width="0.9"/>
<path d="M356.7 183.5L359.0 185.8L356.7 188.1L354.4 185.8Z" fill="#ffd900" stroke="#f07a00" stroke-width="0.9"/>
<path d="M356.7 179.7L359.0 182.0L356.7 184.3L354.4 182.0Z" fill="#ffd900" stroke="#f07a00" stroke-width="0.9"/>
<path d="M360.3 178.6L362.6 180.9L360.3 183.2L358.0 180.9Z" fill="#ffd900" stroke="#f07a00" stroke-width="0.9"/>
<path d="M356.7 170.1L359.0 172.4L356.7 174.7L354.4 172.4Z" fill="#ffd900" stroke="#f07a00" stroke-width="0.9"/>
<path d="M360.3 168.1L362.6 170.4L360.3 172.7L358.0 170.4Z" fill="#ffd900" stroke="#f07a00" stroke-width="0.9"/>
<path d="M356.7 166.4L359.0 168.7L356.7 171.0L354.4 168.7Z" fill="#ffd900" stroke="#f07a00" stroke-width="0.9"/>
<path d="M353.1 164.9L355.4 167.2L353.1 169.5L350.8 167.2Z" fill="#ffd900" stroke="#f07a00" stroke-width="0.9"/>
<line x1="283.9" y1="238.9" x2="302.9" y2="238.9" stroke="#111" stroke-width="1.4"/>
<line x1="313.3" y1="228.5" x2="313.3" y2="234.7" stroke="#222" stroke-width="0.85"/>
<line x1="310.7" y1="228.5" x2="315.9" y2="228.5" stroke="#222" stroke-width="0.85"/>
<line x1="310.7" y1="234.7" x2="315.9" y2="234.7" stroke="#222" stroke-width="0.85"/>
<line x1="303.8" y1="231.7" x2="322.8" y2="231.7" stroke="#111" stroke-width="1.4"/>
<line x1="335.6" y1="218.6" x2="335.6" y2="236.0" stroke="#222" stroke-width="0.85"/>
<line x1="333.0" y1="218.6" x2="338.2" y2="218.6" stroke="#222" stroke-width="0.85"/>
<line x1="333.0" y1="236.0" x2="338.2" y2="236.0" stroke="#222" stroke-width="0.85"/>
<line x1="326.3" y1="227.2" x2="344.9" y2="227.2" stroke="#111" stroke-width="1.4"/>
<line x1="356.7" y1="201.9" x2="356.7" y2="213.6" stroke="#222" stroke-width="0.85"/>
<line x1="354.1" y1="201.9" x2="359.3" y2="201.9" stroke="#222" stroke-width="0.85"/>
<line x1="354.1" y1="213.6" x2="359.3" y2="213.6" stroke="#222" stroke-width="0.85"/>
<line x1="347.4" y1="207.9" x2="366.0" y2="207.9" stroke="#111" stroke-width="1.4"/>
<line x1="314.5" y1="166.0" x2="358.0" y2="166.0" stroke="#555" stroke-width="0.9"/>
<path d="M333.2 161.1L333.2 164.3M331.9 161.9L334.6 163.5M334.6 161.9L331.9 163.5" stroke="#222" stroke-width="0.85" fill="none"/>
<path d="M336.2 161.1L336.2 164.3M334.9 161.9L337.6 163.5M337.6 161.9L334.9 163.5" stroke="#222" stroke-width="0.85" fill="none"/>
<path d="M339.2 161.1L339.2 164.3M337.9 161.9L340.6 163.5M340.6 161.9L337.9 163.5" stroke="#222" stroke-width="0.85" fill="none"/>
<line x1="336.8" y1="175.9" x2="355.4" y2="175.9" stroke="#555" stroke-width="0.9"/>
<path d="M344.6 171.0L344.6 174.2M343.2 171.8L346.0 173.4M346.0 171.8L343.2 173.4" stroke="#222" stroke-width="0.85" fill="none"/>
<path d="M347.6 171.0L347.6 174.2M346.2 171.8L349.0 173.4M349.0 171.8L346.2 173.4" stroke="#222" stroke-width="0.85" fill="none"/>
<text x="450.2" y="147.2" font-size="6.8" text-anchor="middle" font-weight="bold" fill="#111" stroke="#111" stroke-width="0.25" dominant-baseline="central">WNT16</text>
<circle cx="412.5" cy="158.6" r="1.45" fill="#dc80f4" stroke="#9b27d6" stroke-width="0.9"/>
<text x="418.8" y="158.6" font-size="5.0" text-anchor="start" font-weight="bold" fill="#111" stroke="#111" stroke-width="0.12" dominant-baseline="central">MED12-WT</text>
<path d="M454.6 156.7L456.5 158.6L454.6 160.5L452.7 158.6Z" fill="#ffd900" stroke="#f07a00" stroke-width="0.9"/>
<text x="461.4" y="158.6" font-size="5.0" text-anchor="start" font-weight="bold" fill="#111" stroke="#111" stroke-width="0.12" dominant-baseline="central">MED12-Mut</text>
<line x1="401.2" y1="159.0" x2="401.2" y2="255.1" stroke="#222" stroke-width="1.1"/>
<line x1="400.6" y1="254.5" x2="495.6" y2="254.5" stroke="#222" stroke-width="1.1"/>
<line x1="399.2" y1="160.4" x2="401.2" y2="160.4" stroke="#222" stroke-width="0.7"/>
<text x="398.7" y="160.6" font-size="3.9" text-anchor="end" font-weight="normal" fill="#111" stroke="#111" stroke-width="0.15" dominant-baseline="central">70</text>
<line x1="399.2" y1="171.0" x2="401.2" y2="171.0" stroke="#222" stroke-width="0.7"/>
<text x="398.7" y="171.2" font-size="3.9" text-anchor="end" font-weight="normal" fill="#111" stroke="#111" stroke-width="0.15" dominant-baseline="central">45</text>
<line x1="399.2" y1="181.6" x2="401.2" y2="181.6" stroke="#222" stroke-width="0.7"/>
<text x="398.7" y="181.8" font-size="3.9" text-anchor="end" font-weight="normal" fill="#111" stroke="#111" stroke-width="0.15" dominant-baseline="central">20</text>
<line x1="399.2" y1="198.6" x2="401.2" y2="198.6" stroke="#222" stroke-width="0.7"/>
<text x="398.7" y="198.8" font-size="3.9" text-anchor="end" font-weight="normal" fill="#111" stroke="#111" stroke-width="0.15" dominant-baseline="central">8</text>
<line x1="399.2" y1="212.6" x2="401.2" y2="212.6" stroke="#222" stroke-width="0.7"/>
<text x="398.7" y="212.8" font-size="3.9" text-anchor="end" font-weight="normal" fill="#111" stroke="#111" stroke-width="0.15" dominant-baseline="central">6</text>
<line x1="399.2" y1="226.4" x2="401.2" y2="226.4" stroke="#222" stroke-width="0.7"/>
<text x="398.7" y="226.6" font-size="3.9" text-anchor="end" font-weight="normal" fill="#111" stroke="#111" stroke-width="0.15" dominant-baseline="central">4</text>
<line x1="399.2" y1="240.4" x2="401.2" y2="240.4" stroke="#222" stroke-width="0.7"/>
<text x="398.7" y="240.6" font-size="3.9" text-anchor="end" font-weight="normal" fill="#111" stroke="#111" stroke-width="0.15" dominant-baseline="central">2</text>
<line x1="399.2" y1="254.3" x2="401.2" y2="254.3" stroke="#222" stroke-width="0.7"/>
<text x="398.7" y="254.5" font-size="3.9" text-anchor="end" font-weight="normal" fill="#111" stroke="#111" stroke-width="0.15" dominant-baseline="central">0</text>
<rect x="399.7" y="186.0" width="3" height="4" fill="#fff"/>
<line x1="399.6" y1="189.8" x2="402.8" y2="186.2" stroke="#222" stroke-width="0.8"/>
<line x1="427.4" y1="254.5" x2="427.4" y2="256.5" stroke="#222" stroke-width="0.7"/>
<line x1="468.6" y1="254.5" x2="468.6" y2="256.5" stroke="#222" stroke-width="0.7"/>
<text x="427.4" y="262.0" font-size="5.7" text-anchor="middle" font-weight="bold" fill="#111" stroke="#111" stroke-width="0.2" dominant-baseline="central">Myometrium</text>
<text x="468.6" y="262.0" font-size="5.7" text-anchor="middle" font-weight="bold" fill="#111" stroke="#111" stroke-width="0.2" dominant-baseline="central">Leiomyoma</text>
<text x="381.0" y="207.1" font-size="7.4" text-anchor="middle" font-weight="bold" fill="#111" stroke="#111" stroke-width="0.3" dominant-baseline="central" transform="rotate(-90 381.0 207.1)">Relative Expression</text>
<text x="389.0" y="207.1" font-size="5.5" text-anchor="middle" font-weight="bold" fill="#111" stroke="#111" stroke-width="0.12" dominant-baseline="central" transform="rotate(-90 389.0 207.1)">(WNT16/FBXW2)</text>
<circle cx="417.4" cy="253.5" r="1.8" fill="#dc80f4" stroke="#9b27d6" stroke-width="0.9"/>
<circle cx="421.0" cy="252.5" r="1.8" fill="#dc80f4" stroke="#9b27d6" stroke-width="0.9"/>
<circle cx="413.8" cy="252.0" r="1.8" fill="#dc80f4" stroke="#9b27d6" stroke-width="0.9"/>
<circle cx="424.6" cy="251.7" r="1.8" fill="#dc80f4" stroke="#9b27d6" stroke-width="0.9"/>
<circle cx="410.2" cy="251.1" r="1.8" fill="#dc80f4" stroke="#9b27d6" stroke-width="0.9"/>
<circle cx="421.9" cy="250.4" r="1.8" fill="#dc80f4" stroke="#9b27d6" stroke-width="0.9"/>
<circle cx="417.4" cy="249.8" r="1.8" fill="#dc80f4" stroke="#9b27d6" stroke-width="0.9"/>
<circle cx="411.7" cy="249.4" r="1.8" fill="#dc80f4" stroke="#9b27d6" stroke-width="0.9"/>
<circle cx="416.8" cy="248.9" r="1.8" fill="#dc80f4" stroke="#9b27d6" stroke-width="0.9"/>
<circle cx="424.6" cy="247.5" r="1.8" fill="#dc80f4" stroke="#9b27d6" stroke-width="0.9"/>
<circle cx="417.4" cy="244.6" r="1.8" fill="#dc80f4" stroke="#9b27d6" stroke-width="0.9"/>
<circle cx="417.4" cy="240.9" r="1.8" fill="#dc80f4" stroke="#9b27d6" stroke-width="0.9"/>
<circle cx="417.4" cy="221.5" r="1.8" fill="#dc80f4" stroke="#9b27d6" stroke-width="0.9"/>
<path d="M436.0 250.4L438.3 252.7L436.0 255.0L433.7 252.7Z" fill="#ffd900" stroke="#f07a00" stroke-width="0.9"/>
<path d="M439.6 248.9L441.9 251.2L439.6 253.5L437.3 251.2Z" fill="#ffd900" stroke="#f07a00" stroke-width="0.9"/>
<path d="M432.4 248.1L434.7 250.4L432.4 252.7L430.1 250.4Z" fill="#ffd900" stroke="#f07a00" stroke-width="0.9"/>
<path d="M443.2 247.8L445.5 250.1L443.2 252.4L440.9 250.1Z" fill="#ffd900" stroke="#f07a00" stroke-width="0.9"/>
<path d="M436.0 246.3L438.3 248.6L436.0 250.9L433.7 248.6Z" fill="#ffd900" stroke="#f07a00" stroke-width="0.9"/>
<path d="M428.8 245.8L431.1 248.1L428.8 250.4L426.5 248.1Z" fill="#ffd900" stroke="#f07a00" stroke-width="0.9"/>
<path d="M439.6 245.1L441.9 247.4L439.6 249.7L437.3 247.4Z" fill="#ffd900" stroke="#f07a00" stroke-width="0.9"/>
<path d="M432.4 244.1L434.7 246.4L432.4 248.7L430.1 246.4Z" fill="#ffd900" stroke="#f07a00" stroke-width="0.9"/>
<path d="M443.2 243.9L445.5 246.2L443.2 248.5L440.9 246.2Z" fill="#ffd900" stroke="#f07a00" stroke-width="0.9"/>
<path d="M430.6 243.0L432.9 245.3L430.6 247.6L428.3 245.3Z" fill="#ffd900" stroke="#f07a00" stroke-width="0.9"/>
<path d="M436.0 242.3L438.3 244.6L436.0 246.9L433.7 244.6Z" fill="#ffd900" stroke="#f07a00" stroke-width="0.9"/>
<path d="M439.6 241.3L441.9 243.6L439.6 245.9L437.3 243.6Z" fill="#ffd900" stroke="#f07a00" stroke-width="0.9"/>
<path d="M438.0 240.7L440.3 243.0L438.0 245.3L435.7 243.0Z" fill="#ffd900" stroke="#f07a00" stroke-width="0.9"/>
<path d="M443.2 240.4L445.5 242.7L443.2 245.0L440.9 242.7Z" fill="#ffd900" stroke="#f07a00" stroke-width="0.9"/>
<path d="M434.2 239.4L436.5 241.7L434.2 244.0L431.9 241.7Z" fill="#ffd900" stroke="#f07a00" stroke-width="0.9"/>
<path d="M430.6 238.6L432.9 240.9L430.6 243.2L428.3 240.9Z" fill="#ffd900" stroke="#f07a00" stroke-width="0.9"/>
<path d="M433.5 237.8L435.8 240.1L433.5 242.4L431.2 240.1Z" fill="#ffd900" stroke="#f07a00" stroke-width="0.9"/>
<path d="M437.8 237.2L440.1 239.5L437.8 241.8L435.5 239.5Z" fill="#ffd900" stroke="#f07a00" stroke-width="0.9"/>
<path d="M441.4 236.6L443.7 238.9L441.4 241.2L439.1 238.9Z" fill="#ffd900" stroke="#f07a00" stroke-width="0.9"/>
<path d="M428.8 235.5L431.1 237.8L428.8 240.1L426.5 237.8Z" fill="#ffd900" stroke="#f07a00" stroke-width="0.9"/>
<path d="M432.4 234.6L434.7 236.9L432.4 239.2L430.1 236.9Z" fill="#ffd900" stroke="#f07a00" stroke-width="0.9"/>
<path d="M436.0 233.4L438.3 235.7L436.0 238.0L433.7 235.7Z" fill="#ffd900" stroke="#f07a00" stroke-width="0.9"/>
<path d="M436.0 226.9L438.3 229.2L436.0 231.5L433.7 229.2Z" fill="#ffd900" stroke="#f07a00" stroke-width="0.9"/>
<path d="M436.0 218.7L438.3 221.0L436.0 223.3L433.7 221.0Z" fill="#ffd900" stroke="#f07a00" stroke-width="0.9"/>
<path d="M436.0 206.3L438.3 208.6L436.0 210.9L433.7 208.6Z" fill="#ffd900" stroke="#f07a00" stroke-width="0.9"/>
<path d="M436.0 181.6L438.3 183.9L436.0 186.2L433.7 183.9Z" fill="#ffd900" stroke="#f07a00" stroke-width="0.9"/>
<circle cx="458.4" cy="253.7" r="1.8" fill="#dc80f4" stroke="#9b27d6" stroke-width="0.9"/>
<circle cx="462.0" cy="253.2" r="1.8" fill="#dc80f4" stroke="#9b27d6" stroke-width="0.9"/>
<circle cx="454.8" cy="253.2" r="1.8" fill="#dc80f4" stroke="#9b27d6" stroke-width="0.9"/>
<circle cx="455.1" cy="252.4" r="1.8" fill="#dc80f4" stroke="#9b27d6" stroke-width="0.9"/>
<circle cx="462.8" cy="252.2" r="1.8" fill="#dc80f4" stroke="#9b27d6" stroke-width="0.9"/>
<circle cx="460.2" cy="251.4" r="1.8" fill="#dc80f4" stroke="#9b27d6" stroke-width="0.9"/>
<circle cx="456.2" cy="251.3" r="1.8" fill="#dc80f4" stroke="#9b27d6" stroke-width="0.9"/>
<circle cx="452.7" cy="250.3" r="1.8" fill="#dc80f4" stroke="#9b27d6" stroke-width="0.9"/>
<circle cx="461.0" cy="249.8" r="1.8" fill="#dc80f4" stroke="#9b27d6" stroke-width="0.9"/>
<circle cx="458.4" cy="245.8" r="1.8" fill="#dc80f4" stroke="#9b27d6" stroke-width="0.9"/>
<circle cx="458.4" cy="238.4" r="1.8" fill="#dc80f4" stroke="#9b27d6" stroke-width="0.9"/>
<circle cx="462.0" cy="235.9" r="1.8" fill="#dc80f4" stroke="#9b27d6" stroke-width="0.9"/>
<circle cx="458.4" cy="228.5" r="1.8" fill="#dc80f4" stroke="#9b27d6" stroke-width="0.9"/>
<circle cx="458.4" cy="207.9" r="1.8" fill="#dc80f4" stroke="#9b27d6" stroke-width="0.9"/>
<circle cx="458.4" cy="174.2" r="1.8" fill="#dc80f4" stroke="#9b27d6" stroke-width="0.9"/>
<path d="M479.4 248.1L481.7 250.4L479.4 252.7L477.1 250.4Z" fill="#ffd900" stroke="#f07a00" stroke-width="0.9"/>
<path d="M483.0 245.3L485.3 247.6L483.0 249.9L480.7 247.6Z" fill="#ffd900" stroke="#f07a00" stroke-width="0.9"/>
<path d="M479.4 243.7L481.7 246.0L479.4 248.3L477.1 246.0Z" fill="#ffd900" stroke="#f07a00" stroke-width="0.9"/>
<path d="M483.0 241.5L485.3 243.8L483.0 246.1L480.7 243.8Z" fill="#ffd900" stroke="#f07a00" stroke-width="0.9"/>
<path d="M479.4 240.0L481.7 242.3L479.4 244.6L477.1 242.3Z" fill="#ffd900" stroke="#f07a00" stroke-width="0.9"/>
<path d="M475.8 238.2L478.1 240.5L475.8 242.8L473.5 240.5Z" fill="#ffd900" stroke="#f07a00" stroke-width="0.9"/>
<path d="M481.2 236.6L483.5 238.9L481.2 241.2L478.9 238.9Z" fill="#ffd900" stroke="#f07a00" stroke-width="0.9"/>
<path d="M477.6 234.7L479.9 237.0L477.6 239.3L475.3 237.0Z" fill="#ffd900" stroke="#f07a00" stroke-width="0.9"/>
<path d="M484.8 233.8L487.1 236.1L484.8 238.4L482.5 236.1Z" fill="#ffd900" stroke="#f07a00" stroke-width="0.9"/>
<path d="M481.2 232.1L483.5 234.4L481.2 236.7L478.9 234.4Z" fill="#ffd900" stroke="#f07a00" stroke-width="0.9"/>
<path d="M477.6 230.4L479.9 232.7L477.6 235.0L475.3 232.7Z" fill="#ffd900" stroke="#f07a00" stroke-width="0.9"/>
<path d="M483.0 229.0L485.3 231.3L483.0 233.6L480.7 231.3Z" fill="#ffd900" stroke="#f07a00" stroke-width="0.9"/>
<path d="M479.4 227.4L481.7 229.7L479.4 232.0L477.1 229.7Z" fill="#ffd900" stroke="#f07a00" stroke-width="0.9"/>
<path d="M475.8 226.6L478.1 228.9L475.8 231.2L473.5 228.9Z" fill="#ffd900" stroke="#f07a00" stroke-width="0.9"/>
<path d="M483.0 224.9L485.3 227.2L483.0 229.5L480.7 227.2Z" fill="#ffd900" stroke="#f07a00" stroke-width="0.9"/>
<path d="M479.4 223.4L481.7 225.7L479.4 228.0L477.1 225.7Z" fill="#ffd900" stroke="#f07a00" stroke-width="0.9"/>
<path d="M475.8 222.7L478.1 225.0L475.8 227.3L473.5 225.0Z" fill="#ffd900" stroke="#f07a00" stroke-width="0.9"/>
<path d="M483.0 221.1L485.3 223.4L483.0 225.7L480.7 223.4Z" fill="#ffd900" stroke="#f07a00" stroke-width="0.9"/>
<path d="M479.4 219.4L481.7 221.7L479.4 224.0L477.1 221.7Z" fill="#ffd900" stroke="#f07a00" stroke-width="0.9"/>
<path d="M475.8 217.8L478.1 220.1L475.8 222.4L473.5 220.1Z" fill="#ffd900" stroke="#f07a00" stroke-width="0.9"/>
<path d="M483.0 217.1L485.3 219.4L483.0 221.7L480.7 219.4Z" fill="#ffd900" stroke="#f07a00" stroke-width="0.9"/>
<path d="M479.4 215.6L481.7 217.9L479.4 220.2L477.1 217.9Z" fill="#ffd900" stroke="#f07a00" stroke-width="0.9"/>
<path d="M475.8 214.0L478.1 216.3L475.8 218.6L473.5 216.3Z" fill="#ffd900" stroke="#f07a00" stroke-width="0.9"/>
<path d="M481.2 212.2L483.5 214.5L481.2 216.8L478.9 214.5Z" fill="#ffd900" stroke="#f07a00" stroke-width="0.9"/>
<path d="M477.6 211.0L479.9 213.3L477.6 215.6L475.3 213.3Z" fill="#ffd900" stroke="#f07a00" stroke-width="0.9"/>
<path d="M481.2 208.8L483.5 211.1L481.2 213.4L478.9 211.1Z" fill="#ffd900" stroke="#f07a00" stroke-width="0.9"/>
<path d="M477.6 207.6L479.9 209.9L477.6 212.2L475.3 209.9Z" fill="#ffd900" stroke="#f07a00" stroke-width="0.9"/>
<path d="M483.0 205.5L485.3 207.8L483.0 210.1L480.7 207.8Z" fill="#ffd900" stroke="#f07a00" stroke-width="0.9"/>
<path d="M479.4 202.9L481.7 205.2L479.4 207.5L477.1 205.2Z" fill="#ffd900" stroke="#f07a00" stroke-width="0.9"/>
<path d="M483.0 200.2L485.3 202.5L483.0 204.8L480.7 202.5Z" fill="#ffd900" stroke="#f07a00" stroke-width="0.9"/>
<path d="M479.4 194.7L481.7 197.0L479.4 199.3L477.1 197.0Z" fill="#ffd900" stroke="#f07a00" stroke-width="0.9"/>
<path d="M483.0 194.7L485.3 197.0L483.0 199.3L480.7 197.0Z" fill="#ffd900" stroke="#f07a00" stroke-width="0.9"/>
<path d="M475.8 192.7L478.1 195.0L475.8 197.3L473.5 195.0Z" fill="#ffd900" stroke="#f07a00" stroke-width="0.9"/>
<path d="M479.4 183.6L481.7 185.9L479.4 188.2L477.1 185.9Z" fill="#ffd900" stroke="#f07a00" stroke-width="0.9"/>
<path d="M483.0 182.6L485.3 184.9L483.0 187.2L480.7 184.9Z" fill="#ffd900" stroke="#f07a00" stroke-width="0.9"/>
<path d="M475.8 181.7L478.1 184.0L475.8 186.3L473.5 184.0Z" fill="#ffd900" stroke="#f07a00" stroke-width="0.9"/>
<path d="M475.6 180.9L477.9 183.2L475.6 185.5L473.3 183.2Z" fill="#ffd900" stroke="#f07a00" stroke-width="0.9"/>
<path d="M483.3 180.5L485.6 182.8L483.3 185.1L481.0 182.8Z" fill="#ffd900" stroke="#f07a00" stroke-width="0.9"/>
<path d="M479.4 179.9L481.7 182.2L479.4 184.5L477.1 182.2Z" fill="#ffd900" stroke="#f07a00" stroke-width="0.9"/>
<line x1="417.4" y1="246.3" x2="417.4" y2="249.6" stroke="#222" stroke-width="0.85"/>
<line x1="414.8" y1="246.3" x2="420.0" y2="246.3" stroke="#222" stroke-width="0.85"/>
<line x1="414.8" y1="249.6" x2="420.0" y2="249.6" stroke="#222" stroke-width="0.85"/>
<line x1="408.4" y1="247.8" x2="426.4" y2="247.8" stroke="#111" stroke-width="1.4"/>
<line x1="436.0" y1="238.4" x2="436.0" y2="243.4" stroke="#222" stroke-width="0.85"/>
<line x1="433.4" y1="238.4" x2="438.6" y2="238.4" stroke="#222" stroke-width="0.85"/>
<line x1="433.4" y1="243.4" x2="438.6" y2="243.4" stroke="#222" stroke-width="0.85"/>
<line x1="426.7" y1="241.4" x2="445.3" y2="241.4" stroke="#111" stroke-width="1.4"/>
<line x1="458.4" y1="224.8" x2="458.4" y2="245.8" stroke="#222" stroke-width="0.85"/>
<line x1="455.8" y1="224.8" x2="461.0" y2="224.8" stroke="#222" stroke-width="0.85"/>
<line x1="455.8" y1="245.8" x2="461.0" y2="245.8" stroke="#222" stroke-width="0.85"/>
<line x1="449.4" y1="235.2" x2="467.4" y2="235.2" stroke="#111" stroke-width="1.4"/>
<line x1="479.4" y1="211.1" x2="479.4" y2="221.0" stroke="#222" stroke-width="0.85"/>
<line x1="476.8" y1="211.1" x2="482.0" y2="211.1" stroke="#222" stroke-width="0.85"/>
<line x1="476.8" y1="221.0" x2="482.0" y2="221.0" stroke="#222" stroke-width="0.85"/>
<line x1="470.1" y1="216.8" x2="488.7" y2="216.8" stroke="#111" stroke-width="1.4"/>
<line x1="436.5" y1="170.2" x2="478.2" y2="170.2" stroke="#555" stroke-width="0.9"/>
<path d="M454.4 165.3L454.4 168.5M453.0 166.1L455.7 167.7M455.7 166.1L453.0 167.7" stroke="#222" stroke-width="0.85" fill="none"/>
<path d="M457.4 165.3L457.4 168.5M456.0 166.1L458.7 167.7M458.7 166.1L456.0 167.7" stroke="#222" stroke-width="0.85" fill="none"/>
<path d="M460.4 165.3L460.4 168.5M459.0 166.1L461.7 167.7M461.7 166.1L459.0 167.7" stroke="#222" stroke-width="0.85" fill="none"/>
<line x1="459.6" y1="177.7" x2="478.2" y2="177.7" stroke="#555" stroke-width="0.9"/>
<path d="M465.9 172.8L465.9 176.0M464.5 173.6L467.3 175.2M467.3 173.6L464.5 175.2" stroke="#222" stroke-width="0.85" fill="none"/>
<path d="M468.9 172.8L468.9 176.0M467.5 173.6L470.3 175.2M470.3 173.6L467.5 175.2" stroke="#222" stroke-width="0.85" fill="none"/>
<path d="M471.9 172.8L471.9 176.0M470.5 173.6L473.3 175.2M473.3 173.6L470.5 175.2" stroke="#222" stroke-width="0.85" fill="none"/>
<line x1="412.5" y1="201.2" x2="439.3" y2="201.2" stroke="#555" stroke-width="0.9"/>
<path d="M424.4 196.3L424.4 199.5M423.0 197.1L425.8 198.7M425.8 197.1L423.0 198.7" stroke="#222" stroke-width="0.85" fill="none"/>
<path d="M427.4 196.3L427.4 199.5M426.0 197.1L428.8 198.7M428.8 197.1L426.0 198.7" stroke="#222" stroke-width="0.85" fill="none"/>
<text x="79.4" y="281.5" font-size="6.8" text-anchor="middle" font-weight="bold" fill="#111" stroke="#111" stroke-width="0.25" dominant-baseline="central">PPP1R14C</text>
<circle cx="41.7" cy="292.8" r="1.45" fill="#dc80f4" stroke="#9b27d6" stroke-width="0.9"/>
<text x="48.0" y="292.8" font-size="5.0" text-anchor="start" font-weight="bold" fill="#111" stroke="#111" stroke-width="0.12" dominant-baseline="central">MED12-WT</text>
<path d="M80.6 290.9L82.5 292.8L80.6 294.7L78.7 292.8Z" fill="#ffd900" stroke="#f07a00" stroke-width="0.9"/>
<text x="87.4" y="292.8" font-size="5.0" text-anchor="start" font-weight="bold" fill="#111" stroke="#111" stroke-width="0.12" dominant-baseline="central">MED12-Mut</text>
<line x1="30.4" y1="299.2" x2="30.4" y2="393.2" stroke="#222" stroke-width="1.1"/>
<line x1="29.8" y1="392.6" x2="125.0" y2="392.6" stroke="#222" stroke-width="1.1"/>
<line x1="28.4" y1="301.5" x2="30.4" y2="301.5" stroke="#222" stroke-width="0.7"/>
<text x="27.9" y="301.6" font-size="3.9" text-anchor="end" font-weight="normal" fill="#111" stroke="#111" stroke-width="0.15" dominant-baseline="central">60</text>
<line x1="28.4" y1="315.4" x2="30.4" y2="315.4" stroke="#222" stroke-width="0.7"/>
<text x="27.9" y="315.5" font-size="3.9" text-anchor="end" font-weight="normal" fill="#111" stroke="#111" stroke-width="0.15" dominant-baseline="central">30</text>
<line x1="28.4" y1="330.3" x2="30.4" y2="330.3" stroke="#222" stroke-width="0.7"/>
<text x="27.9" y="330.4" font-size="3.9" text-anchor="end" font-weight="normal" fill="#111" stroke="#111" stroke-width="0.15" dominant-baseline="central">10</text>
<line x1="28.4" y1="342.4" x2="30.4" y2="342.4" stroke="#222" stroke-width="0.7"/>
<text x="27.9" y="342.5" font-size="3.9" text-anchor="end" font-weight="normal" fill="#111" stroke="#111" stroke-width="0.15" dominant-baseline="central">8</text>
<line x1="28.4" y1="355.3" x2="30.4" y2="355.3" stroke="#222" stroke-width="0.7"/>
<text x="27.9" y="355.4" font-size="3.9" text-anchor="end" font-weight="normal" fill="#111" stroke="#111" stroke-width="0.15" dominant-baseline="central">6</text>
<line x1="28.4" y1="367.7" x2="30.4" y2="367.7" stroke="#222" stroke-width="0.7"/>
<text x="27.9" y="367.8" font-size="3.9" text-anchor="end" font-weight="normal" fill="#111" stroke="#111" stroke-width="0.15" dominant-baseline="central">4</text>
<line x1="28.4" y1="380.4" x2="30.4" y2="380.4" stroke="#222" stroke-width="0.7"/>
<text x="27.9" y="380.5" font-size="3.9" text-anchor="end" font-weight="normal" fill="#111" stroke="#111" stroke-width="0.15" dominant-baseline="central">2</text>
<line x1="28.4" y1="392.5" x2="30.4" y2="392.5" stroke="#222" stroke-width="0.7"/>
<text x="27.9" y="392.6" font-size="3.9" text-anchor="end" font-weight="normal" fill="#111" stroke="#111" stroke-width="0.15" dominant-baseline="central">0</text>
<rect x="28.9" y="322.5" width="3" height="4" fill="#fff"/>
<line x1="28.8" y1="326.3" x2="32.0" y2="322.7" stroke="#222" stroke-width="0.8"/>
<line x1="56.5" y1="392.6" x2="56.5" y2="394.6" stroke="#222" stroke-width="0.7"/>
<line x1="98.8" y1="392.6" x2="98.8" y2="394.6" stroke="#222" stroke-width="0.7"/>
<text x="56.5" y="400.0" font-size="5.7" text-anchor="middle" font-weight="bold" fill="#111" stroke="#111" stroke-width="0.2" dominant-baseline="central">Myometrium</text>
<text x="98.8" y="400.0" font-size="5.7" text-anchor="middle" font-weight="bold" fill="#111" stroke="#111" stroke-width="0.2" dominant-baseline="central">Leiomyoma</text>
<text x="11.0" y="346.2" font-size="7.4" text-anchor="middle" font-weight="bold" fill="#111" stroke="#111" stroke-width="0.3" dominant-baseline="central" transform="rotate(-90 11.0 346.2)">Relative Expression</text>
<text x="18.8" y="346.2" font-size="5.5" text-anchor="middle" font-weight="bold" fill="#111" stroke="#111" stroke-width="0.12" dominant-baseline="central" transform="rotate(-90 18.8 346.2)">(PPP1R14C/FBXW2)</text>
<circle cx="47.1" cy="392.0" r="1.8" fill="#dc80f4" stroke="#9b27d6" stroke-width="0.9"/>
<circle cx="50.7" cy="391.4" r="1.8" fill="#dc80f4" stroke="#9b27d6" stroke-width="0.9"/>
<circle cx="43.5" cy="390.6" r="1.8" fill="#dc80f4" stroke="#9b27d6" stroke-width="0.9"/>
<circle cx="54.3" cy="389.8" r="1.8" fill="#dc80f4" stroke="#9b27d6" stroke-width="0.9"/>
<circle cx="39.9" cy="389.7" r="1.8" fill="#dc80f4" stroke="#9b27d6" stroke-width="0.9"/>
<circle cx="40.7" cy="388.9" r="1.8" fill="#dc80f4" stroke="#9b27d6" stroke-width="0.9"/>
<circle cx="42.9" cy="388.8" r="1.8" fill="#dc80f4" stroke="#9b27d6" stroke-width="0.9"/>
<circle cx="47.1" cy="388.2" r="1.8" fill="#dc80f4" stroke="#9b27d6" stroke-width="0.9"/>
<circle cx="52.6" cy="388.1" r="1.8" fill="#dc80f4" stroke="#9b27d6" stroke-width="0.9"/>
<circle cx="49.4" cy="387.5" r="1.8" fill="#dc80f4" stroke="#9b27d6" stroke-width="0.9"/>
<circle cx="53.2" cy="387.2" r="1.8" fill="#dc80f4" stroke="#9b27d6" stroke-width="0.9"/>
<circle cx="53.1" cy="386.2" r="1.8" fill="#dc80f4" stroke="#9b27d6" stroke-width="0.9"/>
<circle cx="46.3" cy="385.8" r="1.8" fill="#dc80f4" stroke="#9b27d6" stroke-width="0.9"/>
<circle cx="41.7" cy="385.3" r="1.8" fill="#dc80f4" stroke="#9b27d6" stroke-width="0.9"/>
<circle cx="48.9" cy="383.4" r="1.8" fill="#dc80f4" stroke="#9b27d6" stroke-width="0.9"/>
<circle cx="47.1" cy="379.6" r="1.8" fill="#dc80f4" stroke="#9b27d6" stroke-width="0.9"/>
<circle cx="47.1" cy="309.2" r="1.8" fill="#dc80f4" stroke="#9b27d6" stroke-width="0.9"/>
<path d="M66.5 389.3L68.8 391.6L66.5 393.9L64.2 391.6Z" fill="#ffd900" stroke="#f07a00" stroke-width="0.9"/>
<path d="M70.1 388.0L72.4 390.3L70.1 392.6L67.8 390.3Z" fill="#ffd900" stroke="#f07a00" stroke-width="0.9"/>
<path d="M62.9 387.9L65.2 390.2L62.9 392.5L60.6 390.2Z" fill="#ffd900" stroke="#f07a00" stroke-width="0.9"/>
<path d="M73.7 386.6L76.0 388.9L73.7 391.2L71.4 388.9Z" fill="#ffd900" stroke="#f07a00" stroke-width="0.9"/>
<path d="M66.5 385.8L68.8 388.1L66.5 390.4L64.2 388.1Z" fill="#ffd900" stroke="#f07a00" stroke-width="0.9"/>
<path d="M59.3 385.7L61.6 388.0L59.3 390.3L57.0 388.0Z" fill="#ffd900" stroke="#f07a00" stroke-width="0.9"/>
<path d="M65.1 385.1L67.4 387.4L65.1 389.7L62.8 387.4Z" fill="#ffd900" stroke="#f07a00" stroke-width="0.9"/>
<path d="M70.1 384.2L72.4 386.5L70.1 388.8L67.8 386.5Z" fill="#ffd900" stroke="#f07a00" stroke-width="0.9"/>
<path d="M71.3 383.5L73.6 385.8L71.3 388.1L69.0 385.8Z" fill="#ffd900" stroke="#f07a00" stroke-width="0.9"/>
<path d="M68.3 383.1L70.6 385.4L68.3 387.7L66.0 385.4Z" fill="#ffd900" stroke="#f07a00" stroke-width="0.9"/>
<path d="M71.4 382.9L73.7 385.2L71.4 387.5L69.1 385.2Z" fill="#ffd900" stroke="#f07a00" stroke-width="0.9"/>
<path d="M62.9 382.0L65.2 384.3L62.9 386.6L60.6 384.3Z" fill="#ffd900" stroke="#f07a00" stroke-width="0.9"/>
<path d="M59.3 381.4L61.6 383.7L59.3 386.0L57.0 383.7Z" fill="#ffd900" stroke="#f07a00" stroke-width="0.9"/>
<path d="M67.1 381.3L69.4 383.6L67.1 385.9L64.8 383.6Z" fill="#ffd900" stroke="#f07a00" stroke-width="0.9"/>
<path d="M61.2 380.5L63.5 382.8L61.2 385.1L58.9 382.8Z" fill="#ffd900" stroke="#f07a00" stroke-width="0.9"/>
<path d="M73.7 380.4L76.0 382.7L73.7 385.0L71.4 382.7Z" fill="#ffd900" stroke="#f07a00" stroke-width="0.9"/>
<path d="M70.1 379.4L72.4 381.7L70.1 384.0L67.8 381.7Z" fill="#ffd900" stroke="#f07a00" stroke-width="0.9"/>
<path d="M64.7 378.6L67.0 380.9L64.7 383.2L62.4 380.9Z" fill="#ffd900" stroke="#f07a00" stroke-width="0.9"/>
<path d="M61.0 378.2L63.3 380.5L61.0 382.8L58.7 380.5Z" fill="#ffd900" stroke="#f07a00" stroke-width="0.9"/>
<path d="M59.3 377.5L61.6 379.8L59.3 382.1L57.0 379.8Z" fill="#ffd900" stroke="#f07a00" stroke-width="0.9"/>
<path d="M72.0 377.0L74.3 379.3L72.0 381.6L69.7 379.3Z" fill="#ffd900" stroke="#f07a00" stroke-width="0.9"/>
<path d="M68.3 376.2L70.6 378.5L68.3 380.8L66.0 378.5Z" fill="#ffd900" stroke="#f07a00" stroke-width="0.9"/>
<path d="M66.5 371.9L68.8 374.2L66.5 376.5L64.2 374.2Z" fill="#ffd900" stroke="#f07a00" stroke-width="0.9"/>
<path d="M66.5 364.9L68.8 367.2L66.5 369.5L64.2 367.2Z" fill="#ffd900" stroke="#f07a00" stroke-width="0.9"/>
<path d="M66.5 361.2L68.8 363.5L66.5 365.8L64.2 363.5Z" fill="#ffd900" stroke="#f07a00" stroke-width="0.9"/>
<path d="M66.5 357.5L68.8 359.8L66.5 362.1L64.2 359.8Z" fill="#ffd900" stroke="#f07a00" stroke-width="0.9"/>
<path d="M66.5 353.7L68.8 356.0L66.5 358.3L64.2 356.0Z" fill="#ffd900" stroke="#f07a00" stroke-width="0.9"/>
<path d="M66.5 342.1L68.8 344.4L66.5 346.7L64.2 344.4Z" fill="#ffd900" stroke="#f07a00" stroke-width="0.9"/>
<path d="M66.5 319.8L68.8 322.1L66.5 324.4L64.2 322.1Z" fill="#ffd900" stroke="#f07a00" stroke-width="0.9"/>
<circle cx="84.3" cy="318.4" r="1.8" fill="#dc80f4" stroke="#9b27d6" stroke-width="0.9"/>
<circle cx="88.8" cy="319.6" r="1.8" fill="#dc80f4" stroke="#9b27d6" stroke-width="0.9"/>
<circle cx="92.3" cy="318.9" r="1.8" fill="#dc80f4" stroke="#9b27d6" stroke-width="0.9"/>
<circle cx="96.2" cy="322.6" r="1.8" fill="#dc80f4" stroke="#9b27d6" stroke-width="0.9"/>
<circle cx="85.6" cy="323.3" r="1.8" fill="#dc80f4" stroke="#9b27d6" stroke-width="0.9"/>
<circle cx="89.8" cy="323.3" r="1.8" fill="#dc80f4" stroke="#9b27d6" stroke-width="0.9"/>
<circle cx="87.3" cy="330.8" r="1.8" fill="#dc80f4" stroke="#9b27d6" stroke-width="0.9"/>
<circle cx="93.0" cy="330.8" r="1.8" fill="#dc80f4" stroke="#9b27d6" stroke-width="0.9"/>
<circle cx="96.2" cy="330.8" r="1.8" fill="#dc80f4" stroke="#9b27d6" stroke-width="0.9"/>
<circle cx="81.8" cy="364.2" r="1.8" fill="#dc80f4" stroke="#9b27d6" stroke-width="0.9"/>
<circle cx="83.8" cy="368.0" r="1.8" fill="#dc80f4" stroke="#9b27d6" stroke-width="0.9"/>
<circle cx="92.3" cy="370.4" r="1.8" fill="#dc80f4" stroke="#9b27d6" stroke-width="0.9"/>
<circle cx="84.3" cy="373.7" r="1.8" fill="#dc80f4" stroke="#9b27d6" stroke-width="0.9"/>
<circle cx="94.2" cy="374.2" r="1.8" fill="#dc80f4" stroke="#9b27d6" stroke-width="0.9"/>
<circle cx="88.0" cy="378.6" r="1.8" fill="#dc80f4" stroke="#9b27d6" stroke-width="0.9"/>
<circle cx="93.7" cy="380.4" r="1.8" fill="#dc80f4" stroke="#9b27d6" stroke-width="0.9"/>
<circle cx="84.3" cy="385.3" r="1.8" fill="#dc80f4" stroke="#9b27d6" stroke-width="0.9"/>
<circle cx="92.3" cy="385.3" r="1.8" fill="#dc80f4" stroke="#9b27d6" stroke-width="0.9"/>
<circle cx="88.0" cy="391.5" r="1.8" fill="#dc80f4" stroke="#9b27d6" stroke-width="0.9"/>
<circle cx="81.5" cy="391.5" r="1.8" fill="#dc80f4" stroke="#9b27d6" stroke-width="0.9"/>
<circle cx="94.2" cy="391.5" r="1.8" fill="#dc80f4" stroke="#9b27d6" stroke-width="0.9"/>
<path d="M109.1 385.7L111.4 388.0L109.1 390.3L106.8 388.0Z" fill="#ffd900" stroke="#f07a00" stroke-width="0.9"/>
<path d="M110.9 382.5L113.2 384.8L110.9 387.1L108.6 384.8Z" fill="#ffd900" stroke="#f07a00" stroke-width="0.9"/>
<path d="M107.3 379.6L109.6 381.9L107.3 384.2L105.0 381.9Z" fill="#ffd900" stroke="#f07a00" stroke-width="0.9"/>
<path d="M110.9 376.8L113.2 379.1L110.9 381.4L108.6 379.1Z" fill="#ffd900" stroke="#f07a00" stroke-width="0.9"/>
<path d="M107.3 374.6L109.6 376.9L107.3 379.2L105.0 376.9Z" fill="#ffd900" stroke="#f07a00" stroke-width="0.9"/>
<path d="M110.9 372.1L113.2 374.4L110.9 376.7L108.6 374.4Z" fill="#ffd900" stroke="#f07a00" stroke-width="0.9"/>
<path d="M107.3 369.5L109.6 371.8L107.3 374.1L105.0 371.8Z" fill="#ffd900" stroke="#f07a00" stroke-width="0.9"/>
<path d="M110.9 367.7L113.2 370.0L110.9 372.3L108.6 370.0Z" fill="#ffd900" stroke="#f07a00" stroke-width="0.9"/>
<path d="M107.3 365.4L109.6 367.7L107.3 370.0L105.0 367.7Z" fill="#ffd900" stroke="#f07a00" stroke-width="0.9"/>
<path d="M110.9 363.1L113.2 365.4L110.9 367.7L108.6 365.4Z" fill="#ffd900" stroke="#f07a00" stroke-width="0.9"/>
<path d="M107.3 361.6L109.6 363.9L107.3 366.2L105.0 363.9Z" fill="#ffd900" stroke="#f07a00" stroke-width="0.9"/>
<path d="M110.9 359.3L113.2 361.6L110.9 363.9L108.6 361.6Z" fill="#ffd900" stroke="#f07a00" stroke-width="0.9"/>
<path d="M107.3 357.2L109.6 359.5L107.3 361.8L105.0 359.5Z" fill="#ffd900" stroke="#f07a00" stroke-width="0.9"/>
<path d="M110.9 354.8L113.2 357.1L110.9 359.4L108.6 357.1Z" fill="#ffd900" stroke="#f07a00" stroke-width="0.9"/>
<path d="M107.3 353.1L109.6 355.4L107.3 357.7L105.0 355.4Z" fill="#ffd900" stroke="#f07a00" stroke-width="0.9"/>
<path d="M110.9 350.5L113.2 352.8L110.9 355.1L108.6 352.8Z" fill="#ffd900" stroke="#f07a00" stroke-width="0.9"/>
<path d="M107.3 348.3L109.6 350.6L107.3 352.9L105.0 350.6Z" fill="#ffd900" stroke="#f07a00" stroke-width="0.9"/>
<path d="M109.1 345.1L111.4 347.4L109.1 349.7L106.8 347.4Z" fill="#ffd900" stroke="#f07a00" stroke-width="0.9"/>
<path d="M112.7 342.5L115.0 344.8L112.7 347.1L110.4 344.8Z" fill="#ffd900" stroke="#f07a00" stroke-width="0.9"/>
<path d="M109.1 339.0L111.4 341.3L109.1 343.6L106.8 341.3Z" fill="#ffd900" stroke="#f07a00" stroke-width="0.9"/>
<path d="M109.1 325.1L111.4 327.4L109.1 329.7L106.8 327.4Z" fill="#ffd900" stroke="#f07a00" stroke-width="0.9"/>
<path d="M112.7 323.5L115.0 325.8L112.7 328.1L110.4 325.8Z" fill="#ffd900" stroke="#f07a00" stroke-width="0.9"/>
<path d="M107.3 321.8L109.6 324.1L107.3 326.4L105.0 324.1Z" fill="#ffd900" stroke="#f07a00" stroke-width="0.9"/>
<path d="M110.9 320.2L113.2 322.5L110.9 324.8L108.6 322.5Z" fill="#ffd900" stroke="#f07a00" stroke-width="0.9"/>
<path d="M105.5 318.8L107.8 321.1L105.5 323.4L103.2 321.1Z" fill="#ffd900" stroke="#f07a00" stroke-width="0.9"/>
<path d="M114.5 317.6L116.8 319.9L114.5 322.2L112.2 319.9Z" fill="#ffd900" stroke="#f07a00" stroke-width="0.9"/>
<path d="M109.1 315.9L111.4 318.2L109.1 320.5L106.8 318.2Z" fill="#ffd900" stroke="#f07a00" stroke-width="0.9"/>
<path d="M105.5 314.8L107.8 317.1L105.5 319.4L103.2 317.1Z" fill="#ffd900" stroke="#f07a00" stroke-width="0.9"/>
<path d="M112.7 313.2L115.0 315.5L112.7 317.8L110.4 315.5Z" fill="#ffd900" stroke="#f07a00" stroke-width="0.9"/>
<path d="M107.2 312.5L109.5 314.8L107.2 317.1L104.9 314.8Z" fill="#ffd900" stroke="#f07a00" stroke-width="0.9"/>
<path d="M103.7 310.6L106.0 312.9L103.7 315.2L101.4 312.9Z" fill="#ffd900" stroke="#f07a00" stroke-width="0.9"/>
<path d="M109.1 309.7L111.4 312.0L109.1 314.3L106.8 312.0Z" fill="#ffd900" stroke="#f07a00" stroke-width="0.9"/>
<path d="M112.7 307.3L115.0 309.6L112.7 311.9L110.4 309.6Z" fill="#ffd900" stroke="#f07a00" stroke-width="0.9"/>
<path d="M109.1 305.4L111.4 307.7L109.1 310.0L106.8 307.7Z" fill="#ffd900" stroke="#f07a00" stroke-width="0.9"/>
<path d="M109.1 297.0L111.4 299.3L109.1 301.6L106.8 299.3Z" fill="#ffd900" stroke="#f07a00" stroke-width="0.9"/>
<line x1="47.1" y1="366.0" x2="47.1" y2="387.1" stroke="#222" stroke-width="0.85"/>
<line x1="44.5" y1="366.0" x2="49.7" y2="366.0" stroke="#222" stroke-width="0.85"/>
<line x1="44.5" y1="387.1" x2="49.7" y2="387.1" stroke="#222" stroke-width="0.85"/>
<line x1="38.6" y1="376.7" x2="55.6" y2="376.7" stroke="#111" stroke-width="1.4"/>
<line x1="66.5" y1="379.1" x2="66.5" y2="384.1" stroke="#222" stroke-width="0.85"/>
<line x1="63.9" y1="379.1" x2="69.1" y2="379.1" stroke="#222" stroke-width="0.85"/>
<line x1="63.9" y1="384.1" x2="69.1" y2="384.1" stroke="#222" stroke-width="0.85"/>
<line x1="57.5" y1="381.6" x2="75.5" y2="381.6" stroke="#111" stroke-width="1.4"/>
<line x1="88.0" y1="341.9" x2="88.0" y2="359.3" stroke="#222" stroke-width="0.85"/>
<line x1="85.4" y1="341.9" x2="90.6" y2="341.9" stroke="#222" stroke-width="0.85"/>
<line x1="85.4" y1="359.3" x2="90.6" y2="359.3" stroke="#222" stroke-width="0.85"/>
<line x1="78.7" y1="350.4" x2="97.3" y2="350.4" stroke="#111" stroke-width="1.4"/>
<circle cx="88.0" cy="350.4" r="1.5" fill="#6a1a8a"/>
<line x1="99.2" y1="322.8" x2="119.0" y2="322.8" stroke="#111" stroke-width="1.4"/>
<line x1="65.7" y1="304.7" x2="109.1" y2="304.7" stroke="#555" stroke-width="0.9"/>
<path d="M84.4 299.8L84.4 303.0M83.0 300.6L85.8 302.2M85.8 300.6L83.0 302.2" stroke="#222" stroke-width="0.85" fill="none"/>
<path d="M87.4 299.8L87.4 303.0M86.0 300.6L88.8 302.2M88.8 300.6L86.0 302.2" stroke="#222" stroke-width="0.85" fill="none"/>
<path d="M90.4 299.8L90.4 303.0M89.0 300.6L91.8 302.2M91.8 300.6L89.0 302.2" stroke="#222" stroke-width="0.85" fill="none"/>
<line x1="46.6" y1="314.1" x2="89.3" y2="314.1" stroke="#555" stroke-width="0.9"/>
<path d="M65.0 309.2L65.0 312.4M63.6 310.0L66.3 311.6M66.3 310.0L63.6 311.6" stroke="#222" stroke-width="0.85" fill="none"/>
<path d="M68.0 309.2L68.0 312.4M66.6 310.0L69.3 311.6M69.3 310.0L66.6 311.6" stroke="#222" stroke-width="0.85" fill="none"/>
<path d="M71.0 309.2L71.0 312.4M69.6 310.0L72.3 311.6M72.3 310.0L69.6 311.6" stroke="#222" stroke-width="0.85" fill="none"/>
<line x1="90.5" y1="329.5" x2="109.1" y2="329.5" stroke="#555" stroke-width="0.9"/>
<path d="M98.3 324.6L98.3 327.8M96.9 325.4L99.7 327.0M99.7 325.4L96.9 327.0" stroke="#222" stroke-width="0.85" fill="none"/>
<path d="M101.3 324.6L101.3 327.8M99.9 325.4L102.7 327.0M102.7 325.4L99.9 327.0" stroke="#222" stroke-width="0.85" fill="none"/>
<text x="199.9" y="281.5" font-size="6.8" text-anchor="middle" font-weight="bold" fill="#111" stroke="#111" stroke-width="0.25" dominant-baseline="central">JAK3</text>
<circle cx="162.2" cy="292.8" r="1.45" fill="#dc80f4" stroke="#9b27d6" stroke-width="0.9"/>
<text x="168.5" y="292.8" font-size="5.0" text-anchor="start" font-weight="bold" fill="#111" stroke="#111" stroke-width="0.12" dominant-baseline="central">MED12-WT</text>
<path d="M203.2 290.9L205.1 292.8L203.2 294.7L201.3 292.8Z" fill="#ffd900" stroke="#f07a00" stroke-width="0.9"/>
<text x="210.0" y="292.8" font-size="5.0" text-anchor="start" font-weight="bold" fill="#111" stroke="#111" stroke-width="0.12" dominant-baseline="central">MED12-Mut</text>
<line x1="154.0" y1="299.3" x2="154.0" y2="393.2" stroke="#222" stroke-width="1.1"/>
<line x1="153.4" y1="392.7" x2="250.8" y2="392.7" stroke="#222" stroke-width="1.1"/>
<line x1="152.0" y1="299.3" x2="154.0" y2="299.3" stroke="#222" stroke-width="0.7"/>
<text x="151.5" y="299.4" font-size="3.9" text-anchor="end" font-weight="normal" fill="#111" stroke="#111" stroke-width="0.15" dominant-baseline="central">8</text>
<line x1="152.0" y1="312.7" x2="154.0" y2="312.7" stroke="#222" stroke-width="0.7"/>
<text x="151.5" y="312.8" font-size="3.9" text-anchor="end" font-weight="normal" fill="#111" stroke="#111" stroke-width="0.15" dominant-baseline="central">3</text>
<line x1="152.0" y1="339.5" x2="154.0" y2="339.5" stroke="#222" stroke-width="0.7"/>
<text x="151.5" y="339.6" font-size="3.9" text-anchor="end" font-weight="normal" fill="#111" stroke="#111" stroke-width="0.15" dominant-baseline="central">2</text>
<line x1="152.0" y1="366.0" x2="154.0" y2="366.0" stroke="#222" stroke-width="0.7"/>
<text x="151.5" y="366.1" font-size="3.9" text-anchor="end" font-weight="normal" fill="#111" stroke="#111" stroke-width="0.15" dominant-baseline="central">1</text>
<line x1="152.0" y1="392.5" x2="154.0" y2="392.5" stroke="#222" stroke-width="0.7"/>
<text x="151.5" y="392.6" font-size="3.9" text-anchor="end" font-weight="normal" fill="#111" stroke="#111" stroke-width="0.15" dominant-baseline="central">0</text>
<rect x="152.5" y="306.4" width="3" height="4" fill="#fff"/>
<line x1="152.4" y1="310.2" x2="155.6" y2="306.6" stroke="#222" stroke-width="0.8"/>
<line x1="180.7" y1="392.7" x2="180.7" y2="394.7" stroke="#222" stroke-width="0.7"/>
<line x1="224.2" y1="392.7" x2="224.2" y2="394.7" stroke="#222" stroke-width="0.7"/>
<text x="180.7" y="400.0" font-size="5.7" text-anchor="middle" font-weight="bold" fill="#111" stroke="#111" stroke-width="0.2" dominant-baseline="central">Myometrium</text>
<text x="224.2" y="400.0" font-size="5.7" text-anchor="middle" font-weight="bold" fill="#111" stroke="#111" stroke-width="0.2" dominant-baseline="central">Leiomyoma</text>
<text x="136.0" y="346.3" font-size="7.4" text-anchor="middle" font-weight="bold" fill="#111" stroke="#111" stroke-width="0.3" dominant-baseline="central" transform="rotate(-90 136.0 346.3)">Relative Expression</text>
<text x="144.6" y="346.3" font-size="5.5" text-anchor="middle" font-weight="bold" fill="#111" stroke="#111" stroke-width="0.12" dominant-baseline="central" transform="rotate(-90 144.6 346.3)">(JAK3/FBXW2)</text>
<circle cx="170.9" cy="381.6" r="1.8" fill="#dc80f4" stroke="#9b27d6" stroke-width="0.9"/>
<circle cx="170.9" cy="375.8" r="1.8" fill="#dc80f4" stroke="#9b27d6" stroke-width="0.9"/>
<circle cx="174.5" cy="373.8" r="1.8" fill="#dc80f4" stroke="#9b27d6" stroke-width="0.9"/>
<circle cx="169.1" cy="372.7" r="1.8" fill="#dc80f4" stroke="#9b27d6" stroke-width="0.9"/>
<circle cx="165.5" cy="371.2" r="1.8" fill="#dc80f4" stroke="#9b27d6" stroke-width="0.9"/>
<circle cx="172.7" cy="369.9" r="1.8" fill="#dc80f4" stroke="#9b27d6" stroke-width="0.9"/>
<circle cx="169.1" cy="368.8" r="1.8" fill="#dc80f4" stroke="#9b27d6" stroke-width="0.9"/>
<circle cx="176.3" cy="367.0" r="1.8" fill="#dc80f4" stroke="#9b27d6" stroke-width="0.9"/>
<circle cx="170.9" cy="365.9" r="1.8" fill="#dc80f4" stroke="#9b27d6" stroke-width="0.9"/>
<circle cx="167.3" cy="364.5" r="1.8" fill="#dc80f4" stroke="#9b27d6" stroke-width="0.9"/>
<circle cx="174.5" cy="363.5" r="1.8" fill="#dc80f4" stroke="#9b27d6" stroke-width="0.9"/>
<circle cx="170.9" cy="362.0" r="1.8" fill="#dc80f4" stroke="#9b27d6" stroke-width="0.9"/>
<circle cx="167.3" cy="360.7" r="1.8" fill="#dc80f4" stroke="#9b27d6" stroke-width="0.9"/>
<circle cx="170.9" cy="354.3" r="1.8" fill="#dc80f4" stroke="#9b27d6" stroke-width="0.9"/>
<circle cx="170.9" cy="350.4" r="1.8" fill="#dc80f4" stroke="#9b27d6" stroke-width="0.9"/>
<circle cx="170.9" cy="346.2" r="1.8" fill="#dc80f4" stroke="#9b27d6" stroke-width="0.9"/>
<circle cx="174.5" cy="344.0" r="1.8" fill="#dc80f4" stroke="#9b27d6" stroke-width="0.9"/>
<circle cx="170.9" cy="341.0" r="1.8" fill="#dc80f4" stroke="#9b27d6" stroke-width="0.9"/>
<circle cx="174.5" cy="340.0" r="1.8" fill="#dc80f4" stroke="#9b27d6" stroke-width="0.9"/>
<path d="M190.8 383.5L193.1 385.8L190.8 388.1L188.5 385.8Z" fill="#ffd900" stroke="#f07a00" stroke-width="0.9"/>
<path d="M194.4 382.5L196.7 384.8L194.4 387.1L192.1 384.8Z" fill="#ffd900" stroke="#f07a00" stroke-width="0.9"/>
<path d="M187.2 381.0L189.5 383.3L187.2 385.6L184.9 383.3Z" fill="#ffd900" stroke="#f07a00" stroke-width="0.9"/>
<path d="M190.8 379.5L193.1 381.8L190.8 384.1L188.5 381.8Z" fill="#ffd900" stroke="#f07a00" stroke-width="0.9"/>
<path d="M194.4 378.6L196.7 380.9L194.4 383.2L192.1 380.9Z" fill="#ffd900" stroke="#f07a00" stroke-width="0.9"/>
<path d="M185.4 378.0L187.7 380.3L185.4 382.6L183.1 380.3Z" fill="#ffd900" stroke="#f07a00" stroke-width="0.9"/>
<path d="M198.0 377.0L200.3 379.3L198.0 381.6L195.7 379.3Z" fill="#ffd900" stroke="#f07a00" stroke-width="0.9"/>
<path d="M189.0 376.2L191.3 378.5L189.0 380.8L186.7 378.5Z" fill="#ffd900" stroke="#f07a00" stroke-width="0.9"/>
<path d="M192.6 375.2L194.9 377.5L192.6 379.8L190.3 377.5Z" fill="#ffd900" stroke="#f07a00" stroke-width="0.9"/>
<path d="M196.2 373.8L198.5 376.1L196.2 378.4L193.9 376.1Z" fill="#ffd900" stroke="#f07a00" stroke-width="0.9"/>
<path d="M187.2 372.9L189.5 375.2L187.2 377.5L184.9 375.2Z" fill="#ffd900" stroke="#f07a00" stroke-width="0.9"/>
<path d="M190.8 371.8L193.1 374.1L190.8 376.4L188.5 374.1Z" fill="#ffd900" stroke="#f07a00" stroke-width="0.9"/>
<path d="M183.6 371.2L185.9 373.5L183.6 375.8L181.3 373.5Z" fill="#ffd900" stroke="#f07a00" stroke-width="0.9"/>
<path d="M194.4 369.7L196.7 372.0L194.4 374.3L192.1 372.0Z" fill="#ffd900" stroke="#f07a00" stroke-width="0.9"/>
<path d="M187.2 369.2L189.5 371.5L187.2 373.8L184.9 371.5Z" fill="#ffd900" stroke="#f07a00" stroke-width="0.9"/>
<path d="M190.8 368.2L193.1 370.5L190.8 372.8L188.5 370.5Z" fill="#ffd900" stroke="#f07a00" stroke-width="0.9"/>
<path d="M198.0 367.1L200.3 369.4L198.0 371.7L195.7 369.4Z" fill="#ffd900" stroke="#f07a00" stroke-width="0.9"/>
<path d="M183.6 366.5L185.9 368.8L183.6 371.1L181.3 368.8Z" fill="#ffd900" stroke="#f07a00" stroke-width="0.9"/>
<path d="M192.6 365.1L194.9 367.4L192.6 369.7L190.3 367.4Z" fill="#ffd900" stroke="#f07a00" stroke-width="0.9"/>
<path d="M189.0 364.3L191.3 366.6L189.0 368.9L186.7 366.6Z" fill="#ffd900" stroke="#f07a00" stroke-width="0.9"/>
<path d="M196.2 363.9L198.5 366.2L196.2 368.5L193.9 366.2Z" fill="#ffd900" stroke="#f07a00" stroke-width="0.9"/>
<path d="M185.4 362.5L187.7 364.8L185.4 367.1L183.1 364.8Z" fill="#ffd900" stroke="#f07a00" stroke-width="0.9"/>
<path d="M199.8 362.0L202.1 364.3L199.8 366.6L197.5 364.3Z" fill="#ffd900" stroke="#f07a00" stroke-width="0.9"/>
<path d="M190.8 361.1L193.1 363.4L190.8 365.7L188.5 363.4Z" fill="#ffd900" stroke="#f07a00" stroke-width="0.9"/>
<path d="M194.4 359.6L196.7 361.9L194.4 364.2L192.1 361.9Z" fill="#ffd900" stroke="#f07a00" stroke-width="0.9"/>
<path d="M187.2 358.8L189.5 361.1L187.2 363.4L184.9 361.1Z" fill="#ffd900" stroke="#f07a00" stroke-width="0.9"/>
<path d="M190.8 357.5L193.1 359.8L190.8 362.1L188.5 359.8Z" fill="#ffd900" stroke="#f07a00" stroke-width="0.9"/>
<path d="M198.0 356.8L200.3 359.1L198.0 361.4L195.7 359.1Z" fill="#ffd900" stroke="#f07a00" stroke-width="0.9"/>
<path d="M194.4 355.6L196.7 357.9L194.4 360.2L192.1 357.9Z" fill="#ffd900" stroke="#f07a00" stroke-width="0.9"/>
<path d="M189.0 354.3L191.3 356.6L189.0 358.9L186.7 356.6Z" fill="#ffd900" stroke="#f07a00" stroke-width="0.9"/>
<path d="M192.6 352.5L194.9 354.8L192.6 357.1L190.3 354.8Z" fill="#ffd900" stroke="#f07a00" stroke-width="0.9"/>
<path d="M189.0 350.8L191.3 353.1L189.0 355.4L186.7 353.1Z" fill="#ffd900" stroke="#f07a00" stroke-width="0.9"/>
<circle cx="214.8" cy="388.3" r="1.8" fill="#dc80f4" stroke="#9b27d6" stroke-width="0.9"/>
<circle cx="214.8" cy="382.5" r="1.8" fill="#dc80f4" stroke="#9b27d6" stroke-width="0.9"/>
<circle cx="218.4" cy="381.1" r="1.8" fill="#dc80f4" stroke="#9b27d6" stroke-width="0.9"/>
<circle cx="213.0" cy="379.1" r="1.8" fill="#dc80f4" stroke="#9b27d6" stroke-width="0.9"/>
<circle cx="216.6" cy="377.8" r="1.8" fill="#dc80f4" stroke="#9b27d6" stroke-width="0.9"/>
<circle cx="220.2" cy="376.5" r="1.8" fill="#dc80f4" stroke="#9b27d6" stroke-width="0.9"/>
<circle cx="213.0" cy="375.2" r="1.8" fill="#dc80f4" stroke="#9b27d6" stroke-width="0.9"/>
<circle cx="216.6" cy="373.8" r="1.8" fill="#dc80f4" stroke="#9b27d6" stroke-width="0.9"/>
<circle cx="220.2" cy="372.5" r="1.8" fill="#dc80f4" stroke="#9b27d6" stroke-width="0.9"/>
<circle cx="213.0" cy="371.5" r="1.8" fill="#dc80f4" stroke="#9b27d6" stroke-width="0.9"/>
<circle cx="209.4" cy="370.7" r="1.8" fill="#dc80f4" stroke="#9b27d6" stroke-width="0.9"/>
<circle cx="216.6" cy="369.5" r="1.8" fill="#dc80f4" stroke="#9b27d6" stroke-width="0.9"/>
<circle cx="220.2" cy="368.2" r="1.8" fill="#dc80f4" stroke="#9b27d6" stroke-width="0.9"/>
<circle cx="214.8" cy="366.5" r="1.8" fill="#dc80f4" stroke="#9b27d6" stroke-width="0.9"/>
<circle cx="218.4" cy="365.0" r="1.8" fill="#dc80f4" stroke="#9b27d6" stroke-width="0.9"/>
<circle cx="214.8" cy="362.6" r="1.8" fill="#dc80f4" stroke="#9b27d6" stroke-width="0.9"/>
<circle cx="214.8" cy="356.8" r="1.8" fill="#dc80f4" stroke="#9b27d6" stroke-width="0.9"/>
<circle cx="214.8" cy="352.4" r="1.8" fill="#dc80f4" stroke="#9b27d6" stroke-width="0.9"/>
<circle cx="214.8" cy="344.4" r="1.8" fill="#dc80f4" stroke="#9b27d6" stroke-width="0.9"/>
<circle cx="214.8" cy="306.0" r="1.8" fill="#dc80f4" stroke="#9b27d6" stroke-width="0.9"/>
<path d="M235.4 380.8L237.7 383.1L235.4 385.4L233.1 383.1Z" fill="#ffd900" stroke="#f07a00" stroke-width="0.9"/>
<path d="M239.0 378.2L241.3 380.5L239.0 382.8L236.7 380.5Z" fill="#ffd900" stroke="#f07a00" stroke-width="0.9"/>
<path d="M235.4 376.7L237.7 379.0L235.4 381.3L233.1 379.0Z" fill="#ffd900" stroke="#f07a00" stroke-width="0.9"/>
<path d="M239.0 374.6L241.3 376.9L239.0 379.2L236.7 376.9Z" fill="#ffd900" stroke="#f07a00" stroke-width="0.9"/>
<path d="M235.4 373.2L237.7 375.5L235.4 377.8L233.1 375.5Z" fill="#ffd900" stroke="#f07a00" stroke-width="0.9"/>
<path d="M231.8 371.8L234.1 374.1L231.8 376.4L229.5 374.1Z" fill="#ffd900" stroke="#f07a00" stroke-width="0.9"/>
<path d="M237.2 370.0L239.5 372.3L237.2 374.6L234.9 372.3Z" fill="#ffd900" stroke="#f07a00" stroke-width="0.9"/>
<path d="M233.6 368.7L235.9 371.0L233.6 373.3L231.3 371.0Z" fill="#ffd900" stroke="#f07a00" stroke-width="0.9"/>
<path d="M240.8 367.3L243.1 369.6L240.8 371.9L238.5 369.6Z" fill="#ffd900" stroke="#f07a00" stroke-width="0.9"/>
<path d="M230.0 366.7L232.3 369.0L230.0 371.3L227.7 369.0Z" fill="#ffd900" stroke="#f07a00" stroke-width="0.9"/>
<path d="M235.4 365.2L237.7 367.5L235.4 369.8L233.1 367.5Z" fill="#ffd900" stroke="#f07a00" stroke-width="0.9"/>
<path d="M239.0 364.1L241.3 366.4L239.0 368.7L236.7 366.4Z" fill="#ffd900" stroke="#f07a00" stroke-width="0.9"/>
<path d="M231.8 362.4L234.1 364.7L231.8 367.0L229.5 364.7Z" fill="#ffd900" stroke="#f07a00" stroke-width="0.9"/>
<path d="M235.4 361.4L237.7 363.7L235.4 366.0L233.1 363.7Z" fill="#ffd900" stroke="#f07a00" stroke-width="0.9"/>
<path d="M239.0 359.7L241.3 362.0L239.0 364.3L236.7 362.0Z" fill="#ffd900" stroke="#f07a00" stroke-width="0.9"/>
<path d="M233.6 358.3L235.9 360.6L233.6 362.9L231.3 360.6Z" fill="#ffd900" stroke="#f07a00" stroke-width="0.9"/>
<path d="M230.0 357.1L232.3 359.4L230.0 361.7L227.7 359.4Z" fill="#ffd900" stroke="#f07a00" stroke-width="0.9"/>
<path d="M237.2 356.1L239.5 358.4L237.2 360.7L234.9 358.4Z" fill="#ffd900" stroke="#f07a00" stroke-width="0.9"/>
<path d="M233.6 354.8L235.9 357.1L233.6 359.4L231.3 357.1Z" fill="#ffd900" stroke="#f07a00" stroke-width="0.9"/>
<path d="M239.0 353.1L241.3 355.4L239.0 357.7L236.7 355.4Z" fill="#ffd900" stroke="#f07a00" stroke-width="0.9"/>
<path d="M235.4 351.6L237.7 353.9L235.4 356.2L233.1 353.9Z" fill="#ffd900" stroke="#f07a00" stroke-width="0.9"/>
<path d="M231.8 350.8L234.1 353.1L231.8 355.4L229.5 353.1Z" fill="#ffd900" stroke="#f07a00" stroke-width="0.9"/>
<path d="M239.0 348.8L241.3 351.1L239.0 353.4L236.7 351.1Z" fill="#ffd900" stroke="#f07a00" stroke-width="0.9"/>
<path d="M235.4 347.3L237.7 349.6L235.4 351.9L233.1 349.6Z" fill="#ffd900" stroke="#f07a00" stroke-width="0.9"/>
<path d="M231.8 346.0L234.1 348.3L231.8 350.6L229.5 348.3Z" fill="#ffd900" stroke="#f07a00" stroke-width="0.9"/>
<path d="M237.2 344.2L239.5 346.5L237.2 348.8L234.9 346.5Z" fill="#ffd900" stroke="#f07a00" stroke-width="0.9"/>
<path d="M233.6 341.4L235.9 343.7L233.6 346.0L231.3 343.7Z" fill="#ffd900" stroke="#f07a00" stroke-width="0.9"/>
<path d="M235.4 333.4L237.7 335.7L235.4 338.0L233.1 335.7Z" fill="#ffd900" stroke="#f07a00" stroke-width="0.9"/>
<path d="M239.0 331.7L241.3 334.0L239.0 336.3L236.7 334.0Z" fill="#ffd900" stroke="#f07a00" stroke-width="0.9"/>
<path d="M235.4 329.2L237.7 331.5L235.4 333.8L233.1 331.5Z" fill="#ffd900" stroke="#f07a00" stroke-width="0.9"/>
<path d="M235.4 324.2L237.7 326.5L235.4 328.8L233.1 326.5Z" fill="#ffd900" stroke="#f07a00" stroke-width="0.9"/>
<path d="M235.4 315.3L237.7 317.6L235.4 319.9L233.1 317.6Z" fill="#ffd900" stroke="#f07a00" stroke-width="0.9"/>
<path d="M235.4 305.4L237.7 307.7L235.4 310.0L233.1 307.7Z" fill="#ffd900" stroke="#f07a00" stroke-width="0.9"/>
<path d="M235.4 298.0L237.7 300.3L235.4 302.6L233.1 300.3Z" fill="#ffd900" stroke="#f07a00" stroke-width="0.9"/>
<line x1="170.9" y1="359.8" x2="170.9" y2="366.0" stroke="#222" stroke-width="0.85"/>
<line x1="168.3" y1="359.8" x2="173.5" y2="359.8" stroke="#222" stroke-width="0.85"/>
<line x1="168.3" y1="366.0" x2="173.5" y2="366.0" stroke="#222" stroke-width="0.85"/>
<line x1="160.1" y1="362.8" x2="181.7" y2="362.8" stroke="#111" stroke-width="1.4"/>
<line x1="182.1" y1="366.0" x2="199.5" y2="366.0" stroke="#111" stroke-width="1.4"/>
<line x1="214.8" y1="364.3" x2="214.8" y2="372.7" stroke="#222" stroke-width="0.85"/>
<line x1="212.2" y1="364.3" x2="217.4" y2="364.3" stroke="#222" stroke-width="0.85"/>
<line x1="212.2" y1="372.7" x2="217.4" y2="372.7" stroke="#222" stroke-width="0.85"/>
<line x1="205.3" y1="367.2" x2="224.3" y2="367.2" stroke="#111" stroke-width="1.4"/>
<line x1="235.4" y1="350.4" x2="235.4" y2="358.6" stroke="#222" stroke-width="0.85"/>
<line x1="232.8" y1="350.4" x2="238.0" y2="350.4" stroke="#222" stroke-width="0.85"/>
<line x1="232.8" y1="358.6" x2="238.0" y2="358.6" stroke="#222" stroke-width="0.85"/>
<line x1="225.9" y1="354.3" x2="244.9" y2="354.3" stroke="#111" stroke-width="1.4"/>
<line x1="191.5" y1="302.2" x2="234.2" y2="302.2" stroke="#555" stroke-width="0.9"/>
<line x1="191.5" y1="302.2" x2="191.5" y2="316.6" stroke="#555" stroke-width="0.9"/>
<path d="M212.8 297.3L212.8 300.5M211.5 298.1L214.2 299.7M214.2 298.1L211.5 299.7" stroke="#222" stroke-width="0.85" fill="none"/>
<line x1="214.8" y1="312.2" x2="234.2" y2="312.2" stroke="#555" stroke-width="0.9"/>
<path d="M223.0 307.3L223.0 310.5M221.6 308.1L224.4 309.7M224.4 308.1L221.6 309.7" stroke="#222" stroke-width="0.85" fill="none"/>
<path d="M226.0 307.3L226.0 310.5M224.6 308.1L227.4 309.7M227.4 308.1L224.6 309.7" stroke="#222" stroke-width="0.85" fill="none"/>
<text x="312.0" y="281.5" font-size="6.8" text-anchor="middle" font-weight="bold" fill="#111" stroke="#111" stroke-width="0.25" dominant-baseline="central">NTM</text>
<circle cx="291.7" cy="292.8" r="1.45" fill="#dc80f4" stroke="#9b27d6" stroke-width="0.9"/>
<text x="298.0" y="292.8" font-size="5.0" text-anchor="start" font-weight="bold" fill="#111" stroke="#111" stroke-width="0.12" dominant-baseline="central">MED12-WT</text>
<path d="M334.9 290.9L336.8 292.8L334.9 294.7L333.0 292.8Z" fill="#ffd900" stroke="#f07a00" stroke-width="0.9"/>
<text x="341.7" y="292.8" font-size="5.0" text-anchor="start" font-weight="bold" fill="#111" stroke="#111" stroke-width="0.12" dominant-baseline="central">MED12-Mut</text>
<line x1="281.4" y1="297.5" x2="281.4" y2="393.1" stroke="#222" stroke-width="1.1"/>
<line x1="280.8" y1="392.5" x2="375.6" y2="392.5" stroke="#222" stroke-width="1.1"/>
<line x1="279.4" y1="301.2" x2="281.4" y2="301.2" stroke="#222" stroke-width="0.7"/>
<text x="278.9" y="301.3" font-size="3.9" text-anchor="end" font-weight="normal" fill="#111" stroke="#111" stroke-width="0.15" dominant-baseline="central">15</text>
<line x1="279.4" y1="311.2" x2="281.4" y2="311.2" stroke="#222" stroke-width="0.7"/>
<text x="278.9" y="311.3" font-size="3.9" text-anchor="end" font-weight="normal" fill="#111" stroke="#111" stroke-width="0.15" dominant-baseline="central">10</text>
<line x1="279.4" y1="327.4" x2="281.4" y2="327.4" stroke="#222" stroke-width="0.7"/>
<text x="278.9" y="327.5" font-size="3.9" text-anchor="end" font-weight="normal" fill="#111" stroke="#111" stroke-width="0.15" dominant-baseline="central">8</text>
<line x1="279.4" y1="343.5" x2="281.4" y2="343.5" stroke="#222" stroke-width="0.7"/>
<text x="278.9" y="343.6" font-size="3.9" text-anchor="end" font-weight="normal" fill="#111" stroke="#111" stroke-width="0.15" dominant-baseline="central">6</text>
<line x1="279.4" y1="359.9" x2="281.4" y2="359.9" stroke="#222" stroke-width="0.7"/>
<text x="278.9" y="360.0" font-size="3.9" text-anchor="end" font-weight="normal" fill="#111" stroke="#111" stroke-width="0.15" dominant-baseline="central">4</text>
<line x1="279.4" y1="375.9" x2="281.4" y2="375.9" stroke="#222" stroke-width="0.7"/>
<text x="278.9" y="376.0" font-size="3.9" text-anchor="end" font-weight="normal" fill="#111" stroke="#111" stroke-width="0.15" dominant-baseline="central">2</text>
<line x1="279.4" y1="392.4" x2="281.4" y2="392.4" stroke="#222" stroke-width="0.7"/>
<text x="278.9" y="392.5" font-size="3.9" text-anchor="end" font-weight="normal" fill="#111" stroke="#111" stroke-width="0.15" dominant-baseline="central">0</text>
<rect x="279.9" y="304.8" width="3" height="4" fill="#fff"/>
<line x1="279.8" y1="308.6" x2="283.0" y2="305.0" stroke="#222" stroke-width="0.8"/>
<line x1="307.0" y1="392.5" x2="307.0" y2="394.5" stroke="#222" stroke-width="0.7"/>
<line x1="350.5" y1="392.5" x2="350.5" y2="394.5" stroke="#222" stroke-width="0.7"/>
<text x="307.0" y="400.0" font-size="5.7" text-anchor="middle" font-weight="bold" fill="#111" stroke="#111" stroke-width="0.2" dominant-baseline="central">Myometrium</text>
<text x="350.5" y="400.0" font-size="5.7" text-anchor="middle" font-weight="bold" fill="#111" stroke="#111" stroke-width="0.2" dominant-baseline="central">Leiomyoma</text>
<text x="261.0" y="345.3" font-size="7.4" text-anchor="middle" font-weight="bold" fill="#111" stroke="#111" stroke-width="0.3" dominant-baseline="central" transform="rotate(-90 261.0 345.3)">Relative Expression</text>
<text x="269.2" y="345.3" font-size="5.5" text-anchor="middle" font-weight="bold" fill="#111" stroke="#111" stroke-width="0.12" dominant-baseline="central" transform="rotate(-90 269.2 345.3)">(NTM/FBXW2)</text>
<circle cx="295.9" cy="389.5" r="1.8" fill="#dc80f4" stroke="#9b27d6" stroke-width="0.9"/>
<circle cx="299.5" cy="388.5" r="1.8" fill="#dc80f4" stroke="#9b27d6" stroke-width="0.9"/>
<circle cx="292.3" cy="387.4" r="1.8" fill="#dc80f4" stroke="#9b27d6" stroke-width="0.9"/>
<circle cx="295.9" cy="386.0" r="1.8" fill="#dc80f4" stroke="#9b27d6" stroke-width="0.9"/>
<circle cx="301.3" cy="385.2" r="1.8" fill="#dc80f4" stroke="#9b27d6" stroke-width="0.9"/>
<circle cx="288.7" cy="384.8" r="1.8" fill="#dc80f4" stroke="#9b27d6" stroke-width="0.9"/>
<circle cx="301.2" cy="384.0" r="1.8" fill="#dc80f4" stroke="#9b27d6" stroke-width="0.9"/>
<circle cx="297.7" cy="383.0" r="1.8" fill="#dc80f4" stroke="#9b27d6" stroke-width="0.9"/>
<circle cx="294.1" cy="382.2" r="1.8" fill="#dc80f4" stroke="#9b27d6" stroke-width="0.9"/>
<circle cx="290.5" cy="381.2" r="1.8" fill="#dc80f4" stroke="#9b27d6" stroke-width="0.9"/>
<circle cx="299.5" cy="380.1" r="1.8" fill="#dc80f4" stroke="#9b27d6" stroke-width="0.9"/>
<circle cx="303.1" cy="379.3" r="1.8" fill="#dc80f4" stroke="#9b27d6" stroke-width="0.9"/>
<circle cx="295.9" cy="378.5" r="1.8" fill="#dc80f4" stroke="#9b27d6" stroke-width="0.9"/>
<circle cx="292.3" cy="377.8" r="1.8" fill="#dc80f4" stroke="#9b27d6" stroke-width="0.9"/>
<circle cx="299.5" cy="376.1" r="1.8" fill="#dc80f4" stroke="#9b27d6" stroke-width="0.9"/>
<circle cx="295.9" cy="367.2" r="1.8" fill="#dc80f4" stroke="#9b27d6" stroke-width="0.9"/>
<path d="M314.5 387.2L316.8 389.5L314.5 391.8L312.2 389.5Z" fill="#ffd900" stroke="#f07a00" stroke-width="0.9"/>
<path d="M318.1 385.9L320.4 388.2L318.1 390.5L315.8 388.2Z" fill="#ffd900" stroke="#f07a00" stroke-width="0.9"/>
<path d="M310.9 384.9L313.2 387.2L310.9 389.5L308.6 387.2Z" fill="#ffd900" stroke="#f07a00" stroke-width="0.9"/>
<path d="M321.7 384.2L324.0 386.5L321.7 388.8L319.4 386.5Z" fill="#ffd900" stroke="#f07a00" stroke-width="0.9"/>
<path d="M314.5 383.7L316.8 386.0L314.5 388.3L312.2 386.0Z" fill="#ffd900" stroke="#f07a00" stroke-width="0.9"/>
<path d="M307.3 382.7L309.6 385.0L307.3 387.3L305.0 385.0Z" fill="#ffd900" stroke="#f07a00" stroke-width="0.9"/>
<path d="M318.1 381.5L320.4 383.8L318.1 386.1L315.8 383.8Z" fill="#ffd900" stroke="#f07a00" stroke-width="0.9"/>
<path d="M312.7 380.8L315.0 383.1L312.7 385.4L310.4 383.1Z" fill="#ffd900" stroke="#f07a00" stroke-width="0.9"/>
<path d="M321.7 380.3L324.0 382.6L321.7 384.9L319.4 382.6Z" fill="#ffd900" stroke="#f07a00" stroke-width="0.9"/>
<path d="M309.1 379.6L311.4 381.9L309.1 384.2L306.8 381.9Z" fill="#ffd900" stroke="#f07a00" stroke-width="0.9"/>
<path d="M319.3 379.0L321.6 381.3L319.3 383.6L317.0 381.3Z" fill="#ffd900" stroke="#f07a00" stroke-width="0.9"/>
<path d="M313.7 378.5L316.0 380.8L313.7 383.1L311.4 380.8Z" fill="#ffd900" stroke="#f07a00" stroke-width="0.9"/>
<path d="M321.8 377.9L324.1 380.2L321.8 382.5L319.5 380.2Z" fill="#ffd900" stroke="#f07a00" stroke-width="0.9"/>
<path d="M309.0 377.0L311.3 379.3L309.0 381.6L306.7 379.3Z" fill="#ffd900" stroke="#f07a00" stroke-width="0.9"/>
<path d="M316.3 376.1L318.6 378.4L316.3 380.7L314.0 378.4Z" fill="#ffd900" stroke="#f07a00" stroke-width="0.9"/>
<path d="M311.5 375.8L313.8 378.1L311.5 380.4L309.2 378.1Z" fill="#ffd900" stroke="#f07a00" stroke-width="0.9"/>
<path d="M319.9 375.0L322.2 377.3L319.9 379.6L317.6 377.3Z" fill="#ffd900" stroke="#f07a00" stroke-width="0.9"/>
<path d="M307.3 374.0L309.6 376.3L307.3 378.6L305.0 376.3Z" fill="#ffd900" stroke="#f07a00" stroke-width="0.9"/>
<path d="M314.5 372.7L316.8 375.0L314.5 377.3L312.2 375.0Z" fill="#ffd900" stroke="#f07a00" stroke-width="0.9"/>
<path d="M318.1 371.9L320.4 374.2L318.1 376.5L315.8 374.2Z" fill="#ffd900" stroke="#f07a00" stroke-width="0.9"/>
<path d="M310.9 371.0L313.2 373.3L310.9 375.6L308.6 373.3Z" fill="#ffd900" stroke="#f07a00" stroke-width="0.9"/>
<path d="M321.7 370.0L324.0 372.3L321.7 374.6L319.4 372.3Z" fill="#ffd900" stroke="#f07a00" stroke-width="0.9"/>
<circle cx="338.8" cy="390.4" r="1.8" fill="#dc80f4" stroke="#9b27d6" stroke-width="0.9"/>
<circle cx="342.4" cy="389.7" r="1.8" fill="#dc80f4" stroke="#9b27d6" stroke-width="0.9"/>
<circle cx="335.2" cy="388.5" r="1.8" fill="#dc80f4" stroke="#9b27d6" stroke-width="0.9"/>
<circle cx="341.2" cy="387.2" r="1.8" fill="#dc80f4" stroke="#9b27d6" stroke-width="0.9"/>
<circle cx="337.0" cy="386.5" r="1.8" fill="#dc80f4" stroke="#9b27d6" stroke-width="0.9"/>
<circle cx="339.0" cy="385.6" r="1.8" fill="#dc80f4" stroke="#9b27d6" stroke-width="0.9"/>
<circle cx="344.2" cy="384.8" r="1.8" fill="#dc80f4" stroke="#9b27d6" stroke-width="0.9"/>
<circle cx="333.4" cy="383.6" r="1.8" fill="#dc80f4" stroke="#9b27d6" stroke-width="0.9"/>
<circle cx="344.3" cy="383.2" r="1.8" fill="#dc80f4" stroke="#9b27d6" stroke-width="0.9"/>
<circle cx="340.6" cy="382.6" r="1.8" fill="#dc80f4" stroke="#9b27d6" stroke-width="0.9"/>
<circle cx="337.0" cy="381.6" r="1.8" fill="#dc80f4" stroke="#9b27d6" stroke-width="0.9"/>
<circle cx="345.2" cy="380.6" r="1.8" fill="#dc80f4" stroke="#9b27d6" stroke-width="0.9"/>
<circle cx="333.4" cy="379.2" r="1.8" fill="#dc80f4" stroke="#9b27d6" stroke-width="0.9"/>
<circle cx="338.8" cy="378.0" r="1.8" fill="#dc80f4" stroke="#9b27d6" stroke-width="0.9"/>
<circle cx="338.8" cy="371.0" r="1.8" fill="#dc80f4" stroke="#9b27d6" stroke-width="0.9"/>
<circle cx="338.8" cy="359.8" r="1.8" fill="#dc80f4" stroke="#9b27d6" stroke-width="0.9"/>
<circle cx="342.4" cy="357.8" r="1.8" fill="#dc80f4" stroke="#9b27d6" stroke-width="0.9"/>
<circle cx="338.8" cy="346.9" r="1.8" fill="#dc80f4" stroke="#9b27d6" stroke-width="0.9"/>
<circle cx="338.8" cy="328.3" r="1.8" fill="#dc80f4" stroke="#9b27d6" stroke-width="0.9"/>
<path d="M360.4 382.9L362.7 385.2L360.4 387.5L358.1 385.2Z" fill="#ffd900" stroke="#f07a00" stroke-width="0.9"/>
<path d="M364.0 380.1L366.3 382.4L364.0 384.7L361.7 382.4Z" fill="#ffd900" stroke="#f07a00" stroke-width="0.9"/>
<path d="M360.4 378.7L362.7 381.0L360.4 383.3L358.1 381.0Z" fill="#ffd900" stroke="#f07a00" stroke-width="0.9"/>
<path d="M364.0 376.3L366.3 378.6L364.0 380.9L361.7 378.6Z" fill="#ffd900" stroke="#f07a00" stroke-width="0.9"/>
<path d="M360.4 374.3L362.7 376.6L360.4 378.9L358.1 376.6Z" fill="#ffd900" stroke="#f07a00" stroke-width="0.9"/>
<path d="M356.8 373.3L359.1 375.6L356.8 377.9L354.5 375.6Z" fill="#ffd900" stroke="#f07a00" stroke-width="0.9"/>
<path d="M364.0 371.6L366.3 373.9L364.0 376.2L361.7 373.9Z" fill="#ffd900" stroke="#f07a00" stroke-width="0.9"/>
<path d="M360.4 370.2L362.7 372.5L360.4 374.8L358.1 372.5Z" fill="#ffd900" stroke="#f07a00" stroke-width="0.9"/>
<path d="M356.8 368.6L359.1 370.9L356.8 373.2L354.5 370.9Z" fill="#ffd900" stroke="#f07a00" stroke-width="0.9"/>
<path d="M362.2 367.0L364.5 369.3L362.2 371.6L359.9 369.3Z" fill="#ffd900" stroke="#f07a00" stroke-width="0.9"/>
<path d="M358.6 365.2L360.9 367.5L358.6 369.8L356.3 367.5Z" fill="#ffd900" stroke="#f07a00" stroke-width="0.9"/>
<path d="M364.0 363.9L366.3 366.2L364.0 368.5L361.7 366.2Z" fill="#ffd900" stroke="#f07a00" stroke-width="0.9"/>
<path d="M355.0 362.5L357.3 364.8L355.0 367.1L352.7 364.8Z" fill="#ffd900" stroke="#f07a00" stroke-width="0.9"/>
<path d="M360.4 361.0L362.7 363.3L360.4 365.6L358.1 363.3Z" fill="#ffd900" stroke="#f07a00" stroke-width="0.9"/>
<path d="M364.0 360.4L366.3 362.7L364.0 365.0L361.7 362.7Z" fill="#ffd900" stroke="#f07a00" stroke-width="0.9"/>
<path d="M356.8 358.5L359.1 360.8L356.8 363.1L354.5 360.8Z" fill="#ffd900" stroke="#f07a00" stroke-width="0.9"/>
<path d="M360.4 357.0L362.7 359.3L360.4 361.6L358.1 359.3Z" fill="#ffd900" stroke="#f07a00" stroke-width="0.9"/>
<path d="M364.0 355.8L366.3 358.1L364.0 360.4L361.7 358.1Z" fill="#ffd900" stroke="#f07a00" stroke-width="0.9"/>
<path d="M356.8 354.5L359.1 356.8L356.8 359.1L354.5 356.8Z" fill="#ffd900" stroke="#f07a00" stroke-width="0.9"/>
<path d="M360.4 353.0L362.7 355.3L360.4 357.6L358.1 355.3Z" fill="#ffd900" stroke="#f07a00" stroke-width="0.9"/>
<path d="M364.0 352.1L366.3 354.4L364.0 356.7L361.7 354.4Z" fill="#ffd900" stroke="#f07a00" stroke-width="0.9"/>
<path d="M356.8 350.6L359.1 352.9L356.8 355.2L354.5 352.9Z" fill="#ffd900" stroke="#f07a00" stroke-width="0.9"/>
<path d="M360.4 348.6L362.7 350.9L360.4 353.2L358.1 350.9Z" fill="#ffd900" stroke="#f07a00" stroke-width="0.9"/>
<path d="M364.0 347.1L366.3 349.4L364.0 351.7L361.7 349.4Z" fill="#ffd900" stroke="#f07a00" stroke-width="0.9"/>
<path d="M356.8 345.9L359.1 348.2L356.8 350.5L354.5 348.2Z" fill="#ffd900" stroke="#f07a00" stroke-width="0.9"/>
<path d="M360.4 343.9L362.7 346.2L360.4 348.5L358.1 346.2Z" fill="#ffd900" stroke="#f07a00" stroke-width="0.9"/>
<path d="M364.0 342.0L366.3 344.3L364.0 346.6L361.7 344.3Z" fill="#ffd900" stroke="#f07a00" stroke-width="0.9"/>
<path d="M358.6 340.7L360.9 343.0L358.6 345.3L356.3 343.0Z" fill="#ffd900" stroke="#f07a00" stroke-width="0.9"/>
<path d="M362.2 338.0L364.5 340.3L362.2 342.6L359.9 340.3Z" fill="#ffd900" stroke="#f07a00" stroke-width="0.9"/>
<path d="M358.6 335.7L360.9 338.0L358.6 340.3L356.3 338.0Z" fill="#ffd900" stroke="#f07a00" stroke-width="0.9"/>
<path d="M360.4 326.0L362.7 328.3L360.4 330.6L358.1 328.3Z" fill="#ffd900" stroke="#f07a00" stroke-width="0.9"/>
<path d="M360.4 317.3L362.7 319.6L360.4 321.9L358.1 319.6Z" fill="#ffd900" stroke="#f07a00" stroke-width="0.9"/>
<path d="M360.4 301.2L362.7 303.5L360.4 305.8L358.1 303.5Z" fill="#ffd900" stroke="#f07a00" stroke-width="0.9"/>
<path d="M364.0 298.7L366.3 301.0L364.0 303.3L361.7 301.0Z" fill="#ffd900" stroke="#f07a00" stroke-width="0.9"/>
<path d="M360.4 295.0L362.7 297.3L360.4 299.6L358.1 297.3Z" fill="#ffd900" stroke="#f07a00" stroke-width="0.9"/>
<line x1="286.9" y1="383.4" x2="304.9" y2="383.4" stroke="#111" stroke-width="1.4"/>
<line x1="303.5" y1="383.4" x2="325.5" y2="383.4" stroke="#111" stroke-width="1.4"/>
<line x1="338.8" y1="375.2" x2="338.8" y2="382.1" stroke="#222" stroke-width="0.85"/>
<line x1="336.2" y1="375.2" x2="341.4" y2="375.2" stroke="#222" stroke-width="0.85"/>
<line x1="336.2" y1="382.1" x2="341.4" y2="382.1" stroke="#222" stroke-width="0.85"/>
<line x1="328.8" y1="378.4" x2="348.8" y2="378.4" stroke="#111" stroke-width="1.4"/>
<line x1="360.4" y1="346.2" x2="360.4" y2="354.3" stroke="#222" stroke-width="0.85"/>
<line x1="357.8" y1="346.2" x2="363.0" y2="346.2" stroke="#222" stroke-width="0.85"/>
<line x1="357.8" y1="354.3" x2="363.0" y2="354.3" stroke="#222" stroke-width="0.85"/>
<line x1="350.4" y1="349.9" x2="370.4" y2="349.9" stroke="#111" stroke-width="1.4"/>
<line x1="316.5" y1="311.4" x2="360.4" y2="311.4" stroke="#555" stroke-width="0.9"/>
<path d="M335.4 306.5L335.4 309.7M334.1 307.3L336.8 308.9M336.8 307.3L334.1 308.9" stroke="#222" stroke-width="0.85" fill="none"/>
<path d="M338.4 306.5L338.4 309.7M337.1 307.3L339.8 308.9M339.8 307.3L337.1 308.9" stroke="#222" stroke-width="0.85" fill="none"/>
<path d="M341.4 306.5L341.4 309.7M340.1 307.3L342.8 308.9M342.8 307.3L340.1 308.9" stroke="#222" stroke-width="0.85" fill="none"/>
<line x1="340.6" y1="323.3" x2="360.4" y2="323.3" stroke="#555" stroke-width="0.9"/>
<path d="M347.5 318.4L347.5 321.6M346.1 319.2L348.9 320.8M348.9 319.2L346.1 320.8" stroke="#222" stroke-width="0.85" fill="none"/>
<path d="M350.5 318.4L350.5 321.6M349.1 319.2L351.9 320.8M351.9 319.2L349.1 320.8" stroke="#222" stroke-width="0.85" fill="none"/>
<path d="M353.5 318.4L353.5 321.6M352.1 319.2L354.9 320.8M354.9 319.2L352.1 320.8" stroke="#222" stroke-width="0.85" fill="none"/>
<text x="448.9" y="281.5" font-size="6.8" text-anchor="middle" font-weight="bold" fill="#111" stroke="#111" stroke-width="0.25" dominant-baseline="central">ATP5MC1P1</text>
<circle cx="415.0" cy="292.8" r="1.45" fill="#dc80f4" stroke="#9b27d6" stroke-width="0.9"/>
<text x="421.3" y="292.8" font-size="5.0" text-anchor="start" font-weight="bold" fill="#111" stroke="#111" stroke-width="0.12" dominant-baseline="central">MED12-WT</text>
<path d="M454.6 290.9L456.5 292.8L454.6 294.7L452.7 292.8Z" fill="#ffd900" stroke="#f07a00" stroke-width="0.9"/>
<text x="461.4" y="292.8" font-size="5.0" text-anchor="start" font-weight="bold" fill="#111" stroke="#111" stroke-width="0.12" dominant-baseline="central">MED12-Mut</text>
<line x1="406.5" y1="298.8" x2="406.5" y2="393.2" stroke="#222" stroke-width="1.1"/>
<line x1="405.9" y1="392.6" x2="500.0" y2="392.6" stroke="#222" stroke-width="1.1"/>
<line x1="404.5" y1="299.8" x2="406.5" y2="299.8" stroke="#222" stroke-width="0.7"/>
<text x="404.0" y="299.9" font-size="3.9" text-anchor="end" font-weight="normal" fill="#111" stroke="#111" stroke-width="0.15" dominant-baseline="central">10</text>
<line x1="404.5" y1="308.4" x2="406.5" y2="308.4" stroke="#222" stroke-width="0.7"/>
<text x="404.0" y="308.5" font-size="3.9" text-anchor="end" font-weight="normal" fill="#111" stroke="#111" stroke-width="0.15" dominant-baseline="central">8</text>
<line x1="404.5" y1="329.5" x2="406.5" y2="329.5" stroke="#222" stroke-width="0.7"/>
<text x="404.0" y="329.6" font-size="3.9" text-anchor="end" font-weight="normal" fill="#111" stroke="#111" stroke-width="0.15" dominant-baseline="central">6</text>
<line x1="404.5" y1="350.4" x2="406.5" y2="350.4" stroke="#222" stroke-width="0.7"/>
<text x="404.0" y="350.5" font-size="3.9" text-anchor="end" font-weight="normal" fill="#111" stroke="#111" stroke-width="0.15" dominant-baseline="central">4</text>
<line x1="404.5" y1="371.7" x2="406.5" y2="371.7" stroke="#222" stroke-width="0.7"/>
<text x="404.0" y="371.8" font-size="3.9" text-anchor="end" font-weight="normal" fill="#111" stroke="#111" stroke-width="0.15" dominant-baseline="central">2</text>
<line x1="404.5" y1="392.5" x2="406.5" y2="392.5" stroke="#222" stroke-width="0.7"/>
<text x="404.0" y="392.6" font-size="3.9" text-anchor="end" font-weight="normal" fill="#111" stroke="#111" stroke-width="0.15" dominant-baseline="central">0</text>
<rect x="405.0" y="302.7" width="3" height="4" fill="#fff"/>
<line x1="404.9" y1="306.5" x2="408.1" y2="302.9" stroke="#222" stroke-width="0.8"/>
<line x1="432.4" y1="392.6" x2="432.4" y2="394.6" stroke="#222" stroke-width="0.7"/>
<line x1="475.4" y1="392.6" x2="475.4" y2="394.6" stroke="#222" stroke-width="0.7"/>
<text x="432.4" y="400.0" font-size="5.7" text-anchor="middle" font-weight="bold" fill="#111" stroke="#111" stroke-width="0.2" dominant-baseline="central">Myometrium</text>
<text x="475.4" y="400.0" font-size="5.7" text-anchor="middle" font-weight="bold" fill="#111" stroke="#111" stroke-width="0.2" dominant-baseline="central">Leiomyoma</text>
<text x="386.0" y="346.0" font-size="7.4" text-anchor="middle" font-weight="bold" fill="#111" stroke="#111" stroke-width="0.3" dominant-baseline="central" transform="rotate(-90 386.0 346.0)">Relative Expression</text>
<text x="394.2" y="346.0" font-size="5.5" text-anchor="middle" font-weight="bold" fill="#111" stroke="#111" stroke-width="0.12" dominant-baseline="central" transform="rotate(-90 394.2 346.0)">(ATP5MC1P1/FBXW2)</text>
<circle cx="422.4" cy="388.6" r="1.8" fill="#dc80f4" stroke="#9b27d6" stroke-width="0.9"/>
<circle cx="426.0" cy="387.4" r="1.8" fill="#dc80f4" stroke="#9b27d6" stroke-width="0.9"/>
<circle cx="418.8" cy="386.7" r="1.8" fill="#dc80f4" stroke="#9b27d6" stroke-width="0.9"/>
<circle cx="429.6" cy="385.2" r="1.8" fill="#dc80f4" stroke="#9b27d6" stroke-width="0.9"/>
<circle cx="422.4" cy="384.9" r="1.8" fill="#dc80f4" stroke="#9b27d6" stroke-width="0.9"/>
<circle cx="426.0" cy="383.5" r="1.8" fill="#dc80f4" stroke="#9b27d6" stroke-width="0.9"/>
<circle cx="417.0" cy="383.4" r="1.8" fill="#dc80f4" stroke="#9b27d6" stroke-width="0.9"/>
<circle cx="420.6" cy="382.0" r="1.8" fill="#dc80f4" stroke="#9b27d6" stroke-width="0.9"/>
<circle cx="429.6" cy="381.0" r="1.8" fill="#dc80f4" stroke="#9b27d6" stroke-width="0.9"/>
<circle cx="424.2" cy="380.5" r="1.8" fill="#dc80f4" stroke="#9b27d6" stroke-width="0.9"/>
<circle cx="417.0" cy="379.3" r="1.8" fill="#dc80f4" stroke="#9b27d6" stroke-width="0.9"/>
<circle cx="420.6" cy="378.3" r="1.8" fill="#dc80f4" stroke="#9b27d6" stroke-width="0.9"/>
<circle cx="422.4" cy="369.7" r="1.8" fill="#dc80f4" stroke="#9b27d6" stroke-width="0.9"/>
<circle cx="426.0" cy="369.7" r="1.8" fill="#dc80f4" stroke="#9b27d6" stroke-width="0.9"/>
<circle cx="422.4" cy="328.3" r="1.8" fill="#dc80f4" stroke="#9b27d6" stroke-width="0.9"/>
<path d="M442.2 388.8L444.5 391.1L442.2 393.4L439.9 391.1Z" fill="#ffd900" stroke="#f07a00" stroke-width="0.9"/>
<path d="M445.8 387.5L448.1 389.8L445.8 392.1L443.5 389.8Z" fill="#ffd900" stroke="#f07a00" stroke-width="0.9"/>
<path d="M438.6 386.0L440.9 388.3L438.6 390.6L436.3 388.3Z" fill="#ffd900" stroke="#f07a00" stroke-width="0.9"/>
<path d="M442.2 385.0L444.5 387.3L442.2 389.6L439.9 387.3Z" fill="#ffd900" stroke="#f07a00" stroke-width="0.9"/>
<path d="M449.4 384.8L451.7 387.1L449.4 389.4L447.1 387.1Z" fill="#ffd900" stroke="#f07a00" stroke-width="0.9"/>
<path d="M445.8 383.6L448.1 385.9L445.8 388.2L443.5 385.9Z" fill="#ffd900" stroke="#f07a00" stroke-width="0.9"/>
<path d="M436.8 382.7L439.1 385.0L436.8 387.3L434.5 385.0Z" fill="#ffd900" stroke="#f07a00" stroke-width="0.9"/>
<path d="M440.4 382.0L442.7 384.3L440.4 386.6L438.1 384.3Z" fill="#ffd900" stroke="#f07a00" stroke-width="0.9"/>
<path d="M449.4 381.3L451.7 383.6L449.4 385.9L447.1 383.6Z" fill="#ffd900" stroke="#f07a00" stroke-width="0.9"/>
<path d="M444.0 380.7L446.3 383.0L444.0 385.3L441.7 383.0Z" fill="#ffd900" stroke="#f07a00" stroke-width="0.9"/>
<path d="M449.9 380.6L452.2 382.9L449.9 385.2L447.6 382.9Z" fill="#ffd900" stroke="#f07a00" stroke-width="0.9"/>
<path d="M435.0 379.4L437.3 381.7L435.0 384.0L432.7 381.7Z" fill="#ffd900" stroke="#f07a00" stroke-width="0.9"/>
<path d="M440.4 378.6L442.7 380.9L440.4 383.2L438.1 380.9Z" fill="#ffd900" stroke="#f07a00" stroke-width="0.9"/>
<path d="M438.1 378.1L440.4 380.4L438.1 382.7L435.8 380.4Z" fill="#ffd900" stroke="#f07a00" stroke-width="0.9"/>
<path d="M445.8 377.6L448.1 379.9L445.8 382.2L443.5 379.9Z" fill="#ffd900" stroke="#f07a00" stroke-width="0.9"/>
<path d="M439.9 377.2L442.2 379.5L439.9 381.8L437.6 379.5Z" fill="#ffd900" stroke="#f07a00" stroke-width="0.9"/>
<path d="M449.4 375.8L451.7 378.1L449.4 380.4L447.1 378.1Z" fill="#ffd900" stroke="#f07a00" stroke-width="0.9"/>
<path d="M435.0 375.7L437.3 378.0L435.0 380.3L432.7 378.0Z" fill="#ffd900" stroke="#f07a00" stroke-width="0.9"/>
<path d="M449.4 374.9L451.7 377.2L449.4 379.5L447.1 377.2Z" fill="#ffd900" stroke="#f07a00" stroke-width="0.9"/>
<path d="M442.2 373.6L444.5 375.9L442.2 378.2L439.9 375.9Z" fill="#ffd900" stroke="#f07a00" stroke-width="0.9"/>
<path d="M445.8 372.8L448.1 375.1L445.8 377.4L443.5 375.1Z" fill="#ffd900" stroke="#f07a00" stroke-width="0.9"/>
<path d="M438.6 372.4L440.9 374.7L438.6 377.0L436.3 374.7Z" fill="#ffd900" stroke="#f07a00" stroke-width="0.9"/>
<path d="M449.4 370.9L451.7 373.2L449.4 375.5L447.1 373.2Z" fill="#ffd900" stroke="#f07a00" stroke-width="0.9"/>
<path d="M442.2 369.7L444.5 372.0L442.2 374.3L439.9 372.0Z" fill="#ffd900" stroke="#f07a00" stroke-width="0.9"/>
<path d="M442.2 362.0L444.5 364.3L442.2 366.6L439.9 364.3Z" fill="#ffd900" stroke="#f07a00" stroke-width="0.9"/>
<path d="M442.2 350.6L444.5 352.9L442.2 355.2L439.9 352.9Z" fill="#ffd900" stroke="#f07a00" stroke-width="0.9"/>
<path d="M442.2 342.6L444.5 344.9L442.2 347.2L439.9 344.9Z" fill="#ffd900" stroke="#f07a00" stroke-width="0.9"/>
<path d="M442.2 321.0L444.5 323.3L442.2 325.6L439.9 323.3Z" fill="#ffd900" stroke="#f07a00" stroke-width="0.9"/>
<circle cx="465.8" cy="386.7" r="1.8" fill="#dc80f4" stroke="#9b27d6" stroke-width="0.9"/>
<circle cx="469.4" cy="385.8" r="1.8" fill="#dc80f4" stroke="#9b27d6" stroke-width="0.9"/>
<circle cx="462.2" cy="384.5" r="1.8" fill="#dc80f4" stroke="#9b27d6" stroke-width="0.9"/>
<circle cx="467.1" cy="383.4" r="1.8" fill="#dc80f4" stroke="#9b27d6" stroke-width="0.9"/>
<circle cx="471.2" cy="382.5" r="1.8" fill="#dc80f4" stroke="#9b27d6" stroke-width="0.9"/>
<circle cx="464.0" cy="381.5" r="1.8" fill="#dc80f4" stroke="#9b27d6" stroke-width="0.9"/>
<circle cx="460.4" cy="380.7" r="1.8" fill="#dc80f4" stroke="#9b27d6" stroke-width="0.9"/>
<circle cx="471.9" cy="380.0" r="1.8" fill="#dc80f4" stroke="#9b27d6" stroke-width="0.9"/>
<circle cx="467.6" cy="379.1" r="1.8" fill="#dc80f4" stroke="#9b27d6" stroke-width="0.9"/>
<circle cx="464.0" cy="377.9" r="1.8" fill="#dc80f4" stroke="#9b27d6" stroke-width="0.9"/>
<circle cx="471.2" cy="376.7" r="1.8" fill="#dc80f4" stroke="#9b27d6" stroke-width="0.9"/>
<circle cx="460.4" cy="375.9" r="1.8" fill="#dc80f4" stroke="#9b27d6" stroke-width="0.9"/>
<circle cx="467.6" cy="375.1" r="1.8" fill="#dc80f4" stroke="#9b27d6" stroke-width="0.9"/>
<circle cx="464.0" cy="373.6" r="1.8" fill="#dc80f4" stroke="#9b27d6" stroke-width="0.9"/>
<circle cx="465.8" cy="364.3" r="1.8" fill="#dc80f4" stroke="#9b27d6" stroke-width="0.9"/>
<circle cx="469.4" cy="364.3" r="1.8" fill="#dc80f4" stroke="#9b27d6" stroke-width="0.9"/>
<circle cx="465.8" cy="344.9" r="1.8" fill="#dc80f4" stroke="#9b27d6" stroke-width="0.9"/>
<circle cx="465.8" cy="315.9" r="1.8" fill="#dc80f4" stroke="#9b27d6" stroke-width="0.9"/>
<path d="M485.2 383.5L487.5 385.8L485.2 388.1L482.9 385.8Z" fill="#ffd900" stroke="#f07a00" stroke-width="0.9"/>
<path d="M488.8 380.9L491.1 383.2L488.8 385.5L486.5 383.2Z" fill="#ffd900" stroke="#f07a00" stroke-width="0.9"/>
<path d="M485.2 379.2L487.5 381.5L485.2 383.8L482.9 381.5Z" fill="#ffd900" stroke="#f07a00" stroke-width="0.9"/>
<path d="M488.8 377.2L491.1 379.5L488.8 381.8L486.5 379.5Z" fill="#ffd900" stroke="#f07a00" stroke-width="0.9"/>
<path d="M485.2 375.8L487.5 378.1L485.2 380.4L482.9 378.1Z" fill="#ffd900" stroke="#f07a00" stroke-width="0.9"/>
<path d="M481.6 374.4L483.9 376.7L481.6 379.0L479.3 376.7Z" fill="#ffd900" stroke="#f07a00" stroke-width="0.9"/>
<path d="M487.0 372.6L489.3 374.9L487.0 377.2L484.7 374.9Z" fill="#ffd900" stroke="#f07a00" stroke-width="0.9"/>
<path d="M490.6 371.7L492.9 374.0L490.6 376.3L488.3 374.0Z" fill="#ffd900" stroke="#f07a00" stroke-width="0.9"/>
<path d="M483.4 370.2L485.7 372.5L483.4 374.8L481.1 372.5Z" fill="#ffd900" stroke="#f07a00" stroke-width="0.9"/>
<path d="M487.0 368.9L489.3 371.2L487.0 373.5L484.7 371.2Z" fill="#ffd900" stroke="#f07a00" stroke-width="0.9"/>
<path d="M490.6 367.9L492.9 370.2L490.6 372.5L488.3 370.2Z" fill="#ffd900" stroke="#f07a00" stroke-width="0.9"/>
<path d="M483.4 366.4L485.7 368.7L483.4 371.0L481.1 368.7Z" fill="#ffd900" stroke="#f07a00" stroke-width="0.9"/>
<path d="M487.0 365.2L489.3 367.5L487.0 369.8L484.7 367.5Z" fill="#ffd900" stroke="#f07a00" stroke-width="0.9"/>
<path d="M481.6 363.3L483.9 365.6L481.6 367.9L479.3 365.6Z" fill="#ffd900" stroke="#f07a00" stroke-width="0.9"/>
<path d="M485.2 362.1L487.5 364.4L485.2 366.7L482.9 364.4Z" fill="#ffd900" stroke="#f07a00" stroke-width="0.9"/>
<path d="M488.8 361.4L491.1 363.7L488.8 366.0L486.5 363.7Z" fill="#ffd900" stroke="#f07a00" stroke-width="0.9"/>
<path d="M481.6 359.7L483.9 362.0L481.6 364.3L479.3 362.0Z" fill="#ffd900" stroke="#f07a00" stroke-width="0.9"/>
<path d="M483.4 358.9L485.7 361.2L483.4 363.5L481.1 361.2Z" fill="#ffd900" stroke="#f07a00" stroke-width="0.9"/>
<path d="M487.0 356.7L489.3 359.0L487.0 361.3L484.7 359.0Z" fill="#ffd900" stroke="#f07a00" stroke-width="0.9"/>
<path d="M481.6 355.5L483.9 357.8L481.6 360.1L479.3 357.8Z" fill="#ffd900" stroke="#f07a00" stroke-width="0.9"/>
<path d="M490.6 354.1L492.9 356.4L490.6 358.7L488.3 356.4Z" fill="#ffd900" stroke="#f07a00" stroke-width="0.9"/>
<path d="M485.2 352.5L487.5 354.8L485.2 357.1L482.9 354.8Z" fill="#ffd900" stroke="#f07a00" stroke-width="0.9"/>
<path d="M481.6 351.4L483.9 353.7L481.6 356.0L479.3 353.7Z" fill="#ffd900" stroke="#f07a00" stroke-width="0.9"/>
<path d="M488.8 349.8L491.1 352.1L488.8 354.4L486.5 352.1Z" fill="#ffd900" stroke="#f07a00" stroke-width="0.9"/>
<path d="M485.2 347.3L487.5 349.6L485.2 351.9L482.9 349.6Z" fill="#ffd900" stroke="#f07a00" stroke-width="0.9"/>
<path d="M488.8 345.4L491.1 347.7L488.8 350.0L486.5 347.7Z" fill="#ffd900" stroke="#f07a00" stroke-width="0.9"/>
<path d="M485.2 330.2L487.5 332.5L485.2 334.8L482.9 332.5Z" fill="#ffd900" stroke="#f07a00" stroke-width="0.9"/>
<path d="M485.2 298.0L487.5 300.3L485.2 302.6L482.9 300.3Z" fill="#ffd900" stroke="#f07a00" stroke-width="0.9"/>
<line x1="422.4" y1="378.4" x2="422.4" y2="382.6" stroke="#222" stroke-width="0.85"/>
<line x1="419.8" y1="378.4" x2="425.0" y2="378.4" stroke="#222" stroke-width="0.85"/>
<line x1="419.8" y1="382.6" x2="425.0" y2="382.6" stroke="#222" stroke-width="0.85"/>
<line x1="413.7" y1="380.1" x2="431.1" y2="380.1" stroke="#111" stroke-width="1.4"/>
<line x1="442.2" y1="377.2" x2="442.2" y2="381.6" stroke="#222" stroke-width="0.85"/>
<line x1="439.6" y1="377.2" x2="444.8" y2="377.2" stroke="#222" stroke-width="0.85"/>
<line x1="439.6" y1="381.6" x2="444.8" y2="381.6" stroke="#222" stroke-width="0.85"/>
<line x1="433.5" y1="379.6" x2="450.9" y2="379.6" stroke="#111" stroke-width="1.4"/>
<line x1="465.8" y1="372.7" x2="465.8" y2="379.1" stroke="#222" stroke-width="0.85"/>
<line x1="463.2" y1="372.7" x2="468.4" y2="372.7" stroke="#222" stroke-width="0.85"/>
<line x1="463.2" y1="379.1" x2="468.4" y2="379.1" stroke="#222" stroke-width="0.85"/>
<line x1="455.8" y1="375.9" x2="475.8" y2="375.9" stroke="#111" stroke-width="1.4"/>
<line x1="485.2" y1="354.3" x2="485.2" y2="372.2" stroke="#222" stroke-width="0.85"/>
<line x1="482.6" y1="354.3" x2="487.8" y2="354.3" stroke="#222" stroke-width="0.85"/>
<line x1="482.6" y1="372.2" x2="487.8" y2="372.2" stroke="#222" stroke-width="0.85"/>
<line x1="475.3" y1="363.5" x2="495.1" y2="363.5" stroke="#111" stroke-width="1.4"/>
<line x1="442.2" y1="310.9" x2="485.2" y2="310.9" stroke="#555" stroke-width="0.9"/>
<line x1="442.2" y1="310.9" x2="442.2" y2="317.1" stroke="#555" stroke-width="0.9"/>
<path d="M460.7 306.0L460.7 309.2M459.3 306.8L462.1 308.4M462.1 306.8L459.3 308.4" stroke="#222" stroke-width="0.85" fill="none"/>
<path d="M463.7 306.0L463.7 309.2M462.3 306.8L465.1 308.4M465.1 306.8L462.3 308.4" stroke="#222" stroke-width="0.85" fill="none"/>
<path d="M466.7 306.0L466.7 309.2M465.3 306.8L468.1 308.4M468.1 306.8L465.3 308.4" stroke="#222" stroke-width="0.85" fill="none"/>
<line x1="465.3" y1="327.0" x2="485.2" y2="327.0" stroke="#555" stroke-width="0.9"/>
<path d="M473.8 322.1L473.8 325.3M472.4 322.9L475.1 324.5M475.1 322.9L472.4 324.5" stroke="#222" stroke-width="0.85" fill="none"/>
<path d="M476.8 322.1L476.8 325.3M475.4 322.9L478.1 324.5M478.1 322.9L475.4 324.5" stroke="#222" stroke-width="0.85" fill="none"/>
<text x="77.9" y="423.2" font-size="6.8" text-anchor="middle" font-weight="bold" fill="#111" stroke="#111" stroke-width="0.25" dominant-baseline="central">S100A4</text>
<circle cx="39.2" cy="435.5" r="1.45" fill="#dc80f4" stroke="#9b27d6" stroke-width="0.9"/>
<text x="45.5" y="435.5" font-size="5.0" text-anchor="start" font-weight="bold" fill="#111" stroke="#111" stroke-width="0.12" dominant-baseline="central">MED12-WT</text>
<path d="M80.6 433.6L82.5 435.5L80.6 437.4L78.7 435.5Z" fill="#ffd900" stroke="#f07a00" stroke-width="0.9"/>
<text x="87.4" y="435.5" font-size="5.0" text-anchor="start" font-weight="bold" fill="#111" stroke="#111" stroke-width="0.12" dominant-baseline="central">MED12-Mut</text>
<line x1="29.6" y1="440.3" x2="29.6" y2="535.8" stroke="#222" stroke-width="1.1"/>
<line x1="29.1" y1="535.2" x2="125.0" y2="535.2" stroke="#222" stroke-width="1.1"/>
<line x1="27.6" y1="441.0" x2="29.6" y2="441.0" stroke="#222" stroke-width="0.7"/>
<text x="27.1" y="441.1" font-size="3.9" text-anchor="end" font-weight="normal" fill="#111" stroke="#111" stroke-width="0.15" dominant-baseline="central">6</text>
<line x1="27.6" y1="454.1" x2="29.6" y2="454.1" stroke="#222" stroke-width="0.7"/>
<text x="27.1" y="454.2" font-size="3.9" text-anchor="end" font-weight="normal" fill="#111" stroke="#111" stroke-width="0.15" dominant-baseline="central">3</text>
<line x1="27.6" y1="481.2" x2="29.6" y2="481.2" stroke="#222" stroke-width="0.7"/>
<text x="27.1" y="481.3" font-size="3.9" text-anchor="end" font-weight="normal" fill="#111" stroke="#111" stroke-width="0.15" dominant-baseline="central">2</text>
<line x1="27.6" y1="508.0" x2="29.6" y2="508.0" stroke="#222" stroke-width="0.7"/>
<text x="27.1" y="508.1" font-size="3.9" text-anchor="end" font-weight="normal" fill="#111" stroke="#111" stroke-width="0.15" dominant-baseline="central">1</text>
<line x1="27.6" y1="535.0" x2="29.6" y2="535.0" stroke="#222" stroke-width="0.7"/>
<text x="27.1" y="535.1" font-size="3.9" text-anchor="end" font-weight="normal" fill="#111" stroke="#111" stroke-width="0.15" dominant-baseline="central">0</text>
<rect x="28.1" y="446.4" width="3" height="4" fill="#fff"/>
<line x1="28.0" y1="450.2" x2="31.2" y2="446.6" stroke="#222" stroke-width="0.8"/>
<line x1="56.0" y1="535.2" x2="56.0" y2="537.2" stroke="#222" stroke-width="0.7"/>
<line x1="98.5" y1="535.2" x2="98.5" y2="537.2" stroke="#222" stroke-width="0.7"/>
<text x="56.0" y="542.5" font-size="5.7" text-anchor="middle" font-weight="bold" fill="#111" stroke="#111" stroke-width="0.2" dominant-baseline="central">Myometrium</text>
<text x="98.5" y="542.5" font-size="5.7" text-anchor="middle" font-weight="bold" fill="#111" stroke="#111" stroke-width="0.2" dominant-baseline="central">Leiomyoma</text>
<text x="11.0" y="488.1" font-size="7.4" text-anchor="middle" font-weight="bold" fill="#111" stroke="#111" stroke-width="0.3" dominant-baseline="central" transform="rotate(-90 11.0 488.1)">Relative Expression</text>
<text x="19.4" y="488.1" font-size="5.5" text-anchor="middle" font-weight="bold" fill="#111" stroke="#111" stroke-width="0.12" dominant-baseline="central" transform="rotate(-90 19.4 488.1)">(S100A4/FBXW2)</text>
<circle cx="44.6" cy="525.2" r="1.8" fill="#dc80f4" stroke="#9b27d6" stroke-width="0.9"/>
<circle cx="48.2" cy="523.8" r="1.8" fill="#dc80f4" stroke="#9b27d6" stroke-width="0.9"/>
<circle cx="42.8" cy="522.3" r="1.8" fill="#dc80f4" stroke="#9b27d6" stroke-width="0.9"/>
<circle cx="46.4" cy="520.7" r="1.8" fill="#dc80f4" stroke="#9b27d6" stroke-width="0.9"/>
<circle cx="50.0" cy="519.7" r="1.8" fill="#dc80f4" stroke="#9b27d6" stroke-width="0.9"/>
<circle cx="41.0" cy="519.1" r="1.8" fill="#dc80f4" stroke="#9b27d6" stroke-width="0.9"/>
<circle cx="44.6" cy="517.5" r="1.8" fill="#dc80f4" stroke="#9b27d6" stroke-width="0.9"/>
<circle cx="37.4" cy="516.8" r="1.8" fill="#dc80f4" stroke="#9b27d6" stroke-width="0.9"/>
<circle cx="48.2" cy="515.8" r="1.8" fill="#dc80f4" stroke="#9b27d6" stroke-width="0.9"/>
<circle cx="41.0" cy="514.7" r="1.8" fill="#dc80f4" stroke="#9b27d6" stroke-width="0.9"/>
<circle cx="44.6" cy="513.6" r="1.8" fill="#dc80f4" stroke="#9b27d6" stroke-width="0.9"/>
<circle cx="48.2" cy="512.0" r="1.8" fill="#dc80f4" stroke="#9b27d6" stroke-width="0.9"/>
<circle cx="42.8" cy="510.4" r="1.8" fill="#dc80f4" stroke="#9b27d6" stroke-width="0.9"/>
<circle cx="46.4" cy="508.7" r="1.8" fill="#dc80f4" stroke="#9b27d6" stroke-width="0.9"/>
<circle cx="44.6" cy="501.0" r="1.8" fill="#dc80f4" stroke="#9b27d6" stroke-width="0.9"/>
<circle cx="48.2" cy="498.6" r="1.8" fill="#dc80f4" stroke="#9b27d6" stroke-width="0.9"/>
<circle cx="44.6" cy="493.6" r="1.8" fill="#dc80f4" stroke="#9b27d6" stroke-width="0.9"/>
<circle cx="48.2" cy="492.0" r="1.8" fill="#dc80f4" stroke="#9b27d6" stroke-width="0.9"/>
<circle cx="41.0" cy="491.0" r="1.8" fill="#dc80f4" stroke="#9b27d6" stroke-width="0.9"/>
<circle cx="44.6" cy="489.9" r="1.8" fill="#dc80f4" stroke="#9b27d6" stroke-width="0.9"/>
<circle cx="44.6" cy="475.0" r="1.8" fill="#dc80f4" stroke="#9b27d6" stroke-width="0.9"/>
<circle cx="48.2" cy="475.0" r="1.8" fill="#dc80f4" stroke="#9b27d6" stroke-width="0.9"/>
<circle cx="46.4" cy="472.0" r="1.8" fill="#dc80f4" stroke="#9b27d6" stroke-width="0.9"/>
<circle cx="42.8" cy="469.5" r="1.8" fill="#dc80f4" stroke="#9b27d6" stroke-width="0.9"/>
<circle cx="46.4" cy="468.3" r="1.8" fill="#dc80f4" stroke="#9b27d6" stroke-width="0.9"/>
<circle cx="44.6" cy="457.9" r="1.8" fill="#dc80f4" stroke="#9b27d6" stroke-width="0.9"/>
<path d="M65.0 530.2L67.3 532.5L65.0 534.8L62.7 532.5Z" fill="#ffd900" stroke="#f07a00" stroke-width="0.9"/>
<path d="M65.0 523.4L67.3 525.7L65.0 528.0L62.7 525.7Z" fill="#ffd900" stroke="#f07a00" stroke-width="0.9"/>
<path d="M68.6 521.2L70.9 523.5L68.6 525.8L66.3 523.5Z" fill="#ffd900" stroke="#f07a00" stroke-width="0.9"/>
<path d="M65.0 519.2L67.3 521.5L65.0 523.8L62.7 521.5Z" fill="#ffd900" stroke="#f07a00" stroke-width="0.9"/>
<path d="M68.6 517.7L70.9 520.0L68.6 522.3L66.3 520.0Z" fill="#ffd900" stroke="#f07a00" stroke-width="0.9"/>
<path d="M61.4 516.4L63.7 518.7L61.4 521.0L59.1 518.7Z" fill="#ffd900" stroke="#f07a00" stroke-width="0.9"/>
<path d="M65.0 515.1L67.3 517.4L65.0 519.7L62.7 517.4Z" fill="#ffd900" stroke="#f07a00" stroke-width="0.9"/>
<path d="M68.6 513.4L70.9 515.7L68.6 518.0L66.3 515.7Z" fill="#ffd900" stroke="#f07a00" stroke-width="0.9"/>
<path d="M61.4 512.5L63.7 514.8L61.4 517.1L59.1 514.8Z" fill="#ffd900" stroke="#f07a00" stroke-width="0.9"/>
<path d="M65.0 510.9L67.3 513.2L65.0 515.5L62.7 513.2Z" fill="#ffd900" stroke="#f07a00" stroke-width="0.9"/>
<path d="M68.6 509.4L70.9 511.7L68.6 514.0L66.3 511.7Z" fill="#ffd900" stroke="#f07a00" stroke-width="0.9"/>
<path d="M61.4 508.3L63.7 510.6L61.4 512.9L59.1 510.6Z" fill="#ffd900" stroke="#f07a00" stroke-width="0.9"/>
<path d="M72.2 507.5L74.5 509.8L72.2 512.1L69.9 509.8Z" fill="#ffd900" stroke="#f07a00" stroke-width="0.9"/>
<path d="M65.0 505.9L67.3 508.2L65.0 510.5L62.7 508.2Z" fill="#ffd900" stroke="#f07a00" stroke-width="0.9"/>
<path d="M68.6 505.1L70.9 507.4L68.6 509.7L66.3 507.4Z" fill="#ffd900" stroke="#f07a00" stroke-width="0.9"/>
<path d="M61.4 503.3L63.7 505.6L61.4 507.9L59.1 505.6Z" fill="#ffd900" stroke="#f07a00" stroke-width="0.9"/>
<path d="M72.2 502.7L74.5 505.0L72.2 507.3L69.9 505.0Z" fill="#ffd900" stroke="#f07a00" stroke-width="0.9"/>
<path d="M65.0 501.6L67.3 503.9L65.0 506.2L62.7 503.9Z" fill="#ffd900" stroke="#f07a00" stroke-width="0.9"/>
<path d="M68.6 500.1L70.9 502.4L68.6 504.7L66.3 502.4Z" fill="#ffd900" stroke="#f07a00" stroke-width="0.9"/>
<path d="M63.2 498.6L65.5 500.9L63.2 503.2L60.9 500.9Z" fill="#ffd900" stroke="#f07a00" stroke-width="0.9"/>
<path d="M59.6 497.8L61.9 500.1L59.6 502.4L57.3 500.1Z" fill="#ffd900" stroke="#f07a00" stroke-width="0.9"/>
<path d="M66.8 496.5L69.1 498.8L66.8 501.1L64.5 498.8Z" fill="#ffd900" stroke="#f07a00" stroke-width="0.9"/>
<path d="M70.4 495.3L72.7 497.6L70.4 499.9L68.1 497.6Z" fill="#ffd900" stroke="#f07a00" stroke-width="0.9"/>
<path d="M63.2 494.3L65.5 496.6L63.2 498.9L60.9 496.6Z" fill="#ffd900" stroke="#f07a00" stroke-width="0.9"/>
<path d="M66.8 492.9L69.1 495.2L66.8 497.5L64.5 495.2Z" fill="#ffd900" stroke="#f07a00" stroke-width="0.9"/>
<path d="M61.4 491.3L63.7 493.6L61.4 495.9L59.1 493.6Z" fill="#ffd900" stroke="#f07a00" stroke-width="0.9"/>
<path d="M65.0 489.8L67.3 492.1L65.0 494.4L62.7 492.1Z" fill="#ffd900" stroke="#f07a00" stroke-width="0.9"/>
<path d="M68.6 488.3L70.9 490.6L68.6 492.9L66.3 490.6Z" fill="#ffd900" stroke="#f07a00" stroke-width="0.9"/>
<path d="M61.4 487.1L63.7 489.4L61.4 491.7L59.1 489.4Z" fill="#ffd900" stroke="#f07a00" stroke-width="0.9"/>
<path d="M65.0 484.7L67.3 487.0L65.0 489.3L62.7 487.0Z" fill="#ffd900" stroke="#f07a00" stroke-width="0.9"/>
<path d="M68.6 482.7L70.9 485.0L68.6 487.3L66.3 485.0Z" fill="#ffd900" stroke="#f07a00" stroke-width="0.9"/>
<path d="M65.0 475.7L67.3 478.0L65.0 480.3L62.7 478.0Z" fill="#ffd900" stroke="#f07a00" stroke-width="0.9"/>
<path d="M68.6 475.2L70.9 477.5L68.6 479.8L66.3 477.5Z" fill="#ffd900" stroke="#f07a00" stroke-width="0.9"/>
<path d="M65.0 453.1L67.3 455.4L65.0 457.7L62.7 455.4Z" fill="#ffd900" stroke="#f07a00" stroke-width="0.9"/>
<path d="M65.0 446.9L67.3 449.2L65.0 451.5L62.7 449.2Z" fill="#ffd900" stroke="#f07a00" stroke-width="0.9"/>
<path d="M68.6 444.4L70.9 446.7L68.6 449.0L66.3 446.7Z" fill="#ffd900" stroke="#f07a00" stroke-width="0.9"/>
<path d="M65.0 442.4L67.3 444.7L65.0 447.0L62.7 444.7Z" fill="#ffd900" stroke="#f07a00" stroke-width="0.9"/>
<path d="M66.8 439.4L69.1 441.7L66.8 444.0L64.5 441.7Z" fill="#ffd900" stroke="#f07a00" stroke-width="0.9"/>
<circle cx="88.0" cy="532.4" r="1.8" fill="#dc80f4" stroke="#9b27d6" stroke-width="0.9"/>
<circle cx="91.6" cy="530.6" r="1.8" fill="#dc80f4" stroke="#9b27d6" stroke-width="0.9"/>
<circle cx="88.0" cy="528.6" r="1.8" fill="#dc80f4" stroke="#9b27d6" stroke-width="0.9"/>
<circle cx="91.6" cy="526.6" r="1.8" fill="#dc80f4" stroke="#9b27d6" stroke-width="0.9"/>
<circle cx="86.2" cy="525.4" r="1.8" fill="#dc80f4" stroke="#9b27d6" stroke-width="0.9"/>
<circle cx="82.6" cy="524.0" r="1.8" fill="#dc80f4" stroke="#9b27d6" stroke-width="0.9"/>
<circle cx="89.8" cy="522.5" r="1.8" fill="#dc80f4" stroke="#9b27d6" stroke-width="0.9"/>
<circle cx="86.2" cy="521.2" r="1.8" fill="#dc80f4" stroke="#9b27d6" stroke-width="0.9"/>
<circle cx="93.4" cy="520.3" r="1.8" fill="#dc80f4" stroke="#9b27d6" stroke-width="0.9"/>
<circle cx="89.8" cy="518.8" r="1.8" fill="#dc80f4" stroke="#9b27d6" stroke-width="0.9"/>
<circle cx="86.2" cy="517.3" r="1.8" fill="#dc80f4" stroke="#9b27d6" stroke-width="0.9"/>
<circle cx="91.6" cy="515.9" r="1.8" fill="#dc80f4" stroke="#9b27d6" stroke-width="0.9"/>
<circle cx="82.6" cy="514.8" r="1.8" fill="#dc80f4" stroke="#9b27d6" stroke-width="0.9"/>
<circle cx="88.0" cy="513.4" r="1.8" fill="#dc80f4" stroke="#9b27d6" stroke-width="0.9"/>
<circle cx="91.6" cy="511.6" r="1.8" fill="#dc80f4" stroke="#9b27d6" stroke-width="0.9"/>
<circle cx="88.0" cy="509.2" r="1.8" fill="#dc80f4" stroke="#9b27d6" stroke-width="0.9"/>
<circle cx="88.0" cy="500.3" r="1.8" fill="#dc80f4" stroke="#9b27d6" stroke-width="0.9"/>
<circle cx="88.0" cy="496.1" r="1.8" fill="#dc80f4" stroke="#9b27d6" stroke-width="0.9"/>
<circle cx="91.6" cy="493.6" r="1.8" fill="#dc80f4" stroke="#9b27d6" stroke-width="0.9"/>
<circle cx="88.0" cy="485.4" r="1.8" fill="#dc80f4" stroke="#9b27d6" stroke-width="0.9"/>
<circle cx="88.0" cy="447.2" r="1.8" fill="#dc80f4" stroke="#9b27d6" stroke-width="0.9"/>
<path d="M107.9 530.6L110.2 532.9L107.9 535.2L105.6 532.9Z" fill="#ffd900" stroke="#f07a00" stroke-width="0.9"/>
<path d="M111.5 529.9L113.8 532.2L111.5 534.5L109.2 532.2Z" fill="#ffd900" stroke="#f07a00" stroke-width="0.9"/>
<path d="M104.3 528.2L106.6 530.5L104.3 532.8L102.0 530.5Z" fill="#ffd900" stroke="#f07a00" stroke-width="0.9"/>
<path d="M115.1 527.6L117.4 529.9L115.1 532.2L112.8 529.9Z" fill="#ffd900" stroke="#f07a00" stroke-width="0.9"/>
<path d="M107.9 526.5L110.2 528.8L107.9 531.1L105.6 528.8Z" fill="#ffd900" stroke="#f07a00" stroke-width="0.9"/>
<path d="M111.5 525.7L113.8 528.0L111.5 530.3L109.2 528.0Z" fill="#ffd900" stroke="#f07a00" stroke-width="0.9"/>
<path d="M100.7 525.3L103.0 527.6L100.7 529.9L98.4 527.6Z" fill="#ffd900" stroke="#f07a00" stroke-width="0.9"/>
<path d="M104.3 524.7L106.6 527.0L104.3 529.3L102.0 527.0Z" fill="#ffd900" stroke="#f07a00" stroke-width="0.9"/>
<path d="M115.1 523.5L117.4 525.8L115.1 528.1L112.8 525.8Z" fill="#ffd900" stroke="#f07a00" stroke-width="0.9"/>
<path d="M107.9 522.8L110.2 525.1L107.9 527.4L105.6 525.1Z" fill="#ffd900" stroke="#f07a00" stroke-width="0.9"/>
<path d="M104.1 522.6L106.4 524.9L104.1 527.2L101.8 524.9Z" fill="#ffd900" stroke="#f07a00" stroke-width="0.9"/>
<path d="M111.5 521.6L113.8 523.9L111.5 526.2L109.2 523.9Z" fill="#ffd900" stroke="#f07a00" stroke-width="0.9"/>
<path d="M100.7 520.8L103.0 523.1L100.7 525.4L98.4 523.1Z" fill="#ffd900" stroke="#f07a00" stroke-width="0.9"/>
<path d="M106.0 520.4L108.3 522.7L106.0 525.0L103.7 522.7Z" fill="#ffd900" stroke="#f07a00" stroke-width="0.9"/>
<path d="M115.1 519.1L117.4 521.4L115.1 523.7L112.8 521.4Z" fill="#ffd900" stroke="#f07a00" stroke-width="0.9"/>
<path d="M108.1 518.7L110.4 521.0L108.1 523.3L105.8 521.0Z" fill="#ffd900" stroke="#f07a00" stroke-width="0.9"/>
<path d="M111.5 517.7L113.8 520.0L111.5 522.3L109.2 520.0Z" fill="#ffd900" stroke="#f07a00" stroke-width="0.9"/>
<path d="M104.3 517.2L106.6 519.5L104.3 521.8L102.0 519.5Z" fill="#ffd900" stroke="#f07a00" stroke-width="0.9"/>
<path d="M100.7 516.3L103.0 518.6L100.7 520.9L98.4 518.6Z" fill="#ffd900" stroke="#f07a00" stroke-width="0.9"/>
<path d="M107.9 515.2L110.2 517.5L107.9 519.8L105.6 517.5Z" fill="#ffd900" stroke="#f07a00" stroke-width="0.9"/>
<path d="M111.5 513.9L113.8 516.2L111.5 518.5L109.2 516.2Z" fill="#ffd900" stroke="#f07a00" stroke-width="0.9"/>
<path d="M107.9 509.9L110.2 512.2L107.9 514.5L105.6 512.2Z" fill="#ffd900" stroke="#f07a00" stroke-width="0.9"/>
<path d="M107.9 503.7L110.2 506.0L107.9 508.3L105.6 506.0Z" fill="#ffd900" stroke="#f07a00" stroke-width="0.9"/>
<line x1="44.6" y1="497.8" x2="44.6" y2="505.3" stroke="#222" stroke-width="0.85"/>
<line x1="42.0" y1="497.8" x2="47.2" y2="497.8" stroke="#222" stroke-width="0.85"/>
<line x1="42.0" y1="505.3" x2="47.2" y2="505.3" stroke="#222" stroke-width="0.85"/>
<line x1="34.7" y1="501.0" x2="54.5" y2="501.0" stroke="#111" stroke-width="1.4"/>
<line x1="65.0" y1="494.3" x2="65.0" y2="502.8" stroke="#222" stroke-width="0.85"/>
<line x1="62.4" y1="494.3" x2="67.6" y2="494.3" stroke="#222" stroke-width="0.85"/>
<line x1="62.4" y1="502.8" x2="67.6" y2="502.8" stroke="#222" stroke-width="0.85"/>
<line x1="55.5" y1="498.6" x2="74.5" y2="498.6" stroke="#111" stroke-width="1.4"/>
<line x1="88.0" y1="511.0" x2="88.0" y2="520.1" stroke="#222" stroke-width="0.85"/>
<line x1="85.4" y1="511.0" x2="90.6" y2="511.0" stroke="#222" stroke-width="0.85"/>
<line x1="85.4" y1="520.1" x2="90.6" y2="520.1" stroke="#222" stroke-width="0.85"/>
<line x1="78.4" y1="514.7" x2="97.6" y2="514.7" stroke="#111" stroke-width="1.4"/>
<line x1="98.2" y1="526.6" x2="117.6" y2="526.6" stroke="#111" stroke-width="1.4"/>
<line x1="65.0" y1="451.7" x2="109.1" y2="451.7" stroke="#555" stroke-width="0.9"/>
<path d="M84.0 446.8L84.0 450.0M82.7 447.6L85.4 449.2M85.4 447.6L82.7 449.2" stroke="#222" stroke-width="0.85" fill="none"/>
<path d="M87.0 446.8L87.0 450.0M85.7 447.6L88.4 449.2M88.4 447.6L85.7 449.2" stroke="#222" stroke-width="0.85" fill="none"/>
<path d="M90.0 446.8L90.0 450.0M88.7 447.6L91.4 449.2M91.4 447.6L88.7 449.2" stroke="#222" stroke-width="0.85" fill="none"/>
<line x1="44.6" y1="464.6" x2="88.8" y2="464.6" stroke="#555" stroke-width="0.9"/>
<path d="M65.2 459.7L65.2 462.9M63.8 460.5L66.6 462.1M66.6 460.5L63.8 462.1" stroke="#222" stroke-width="0.85" fill="none"/>
<path d="M68.2 459.7L68.2 462.9M66.8 460.5L69.6 462.1M69.6 460.5L66.8 462.1" stroke="#222" stroke-width="0.85" fill="none"/>
<line x1="88.8" y1="480.0" x2="110.4" y2="480.0" stroke="#555" stroke-width="0.9"/>
<path d="M99.6 475.1L99.6 478.3M98.2 475.9L101.0 477.5M101.0 475.9L98.2 477.5" stroke="#222" stroke-width="0.85" fill="none"/>
<text x="205.4" y="423.2" font-size="6.8" text-anchor="middle" font-weight="bold" fill="#111" stroke="#111" stroke-width="0.25" dominant-baseline="central">HMX1</text>
<circle cx="162.2" cy="435.5" r="1.45" fill="#dc80f4" stroke="#9b27d6" stroke-width="0.9"/>
<text x="168.5" y="435.5" font-size="5.0" text-anchor="start" font-weight="bold" fill="#111" stroke="#111" stroke-width="0.12" dominant-baseline="central">MED12-WT</text>
<path d="M201.9 433.6L203.8 435.5L201.9 437.4L200.0 435.5Z" fill="#ffd900" stroke="#f07a00" stroke-width="0.9"/>
<text x="208.7" y="435.5" font-size="5.0" text-anchor="start" font-weight="bold" fill="#111" stroke="#111" stroke-width="0.12" dominant-baseline="central">MED12-Mut</text>
<line x1="154.2" y1="442.0" x2="154.2" y2="535.9" stroke="#222" stroke-width="1.1"/>
<line x1="153.6" y1="535.4" x2="248.5" y2="535.4" stroke="#222" stroke-width="1.1"/>
<line x1="152.2" y1="443.5" x2="154.2" y2="443.5" stroke="#222" stroke-width="0.7"/>
<text x="151.7" y="443.6" font-size="3.9" text-anchor="end" font-weight="normal" fill="#111" stroke="#111" stroke-width="0.15" dominant-baseline="central">100</text>
<line x1="152.2" y1="447.7" x2="154.2" y2="447.7" stroke="#222" stroke-width="0.7"/>
<text x="151.7" y="447.8" font-size="3.9" text-anchor="end" font-weight="normal" fill="#111" stroke="#111" stroke-width="0.15" dominant-baseline="central">50</text>
<line x1="152.2" y1="465.0" x2="154.2" y2="465.0" stroke="#222" stroke-width="0.7"/>
<text x="151.7" y="465.1" font-size="3.9" text-anchor="end" font-weight="normal" fill="#111" stroke="#111" stroke-width="0.15" dominant-baseline="central">8</text>
<line x1="152.2" y1="482.4" x2="154.2" y2="482.4" stroke="#222" stroke-width="0.7"/>
<text x="151.7" y="482.5" font-size="3.9" text-anchor="end" font-weight="normal" fill="#111" stroke="#111" stroke-width="0.15" dominant-baseline="central">6</text>
<line x1="152.2" y1="500.3" x2="154.2" y2="500.3" stroke="#222" stroke-width="0.7"/>
<text x="151.7" y="500.4" font-size="3.9" text-anchor="end" font-weight="normal" fill="#111" stroke="#111" stroke-width="0.15" dominant-baseline="central">4</text>
<line x1="152.2" y1="517.7" x2="154.2" y2="517.7" stroke="#222" stroke-width="0.7"/>
<text x="151.7" y="517.9" font-size="3.9" text-anchor="end" font-weight="normal" fill="#111" stroke="#111" stroke-width="0.15" dominant-baseline="central">2</text>
<line x1="152.2" y1="535.0" x2="154.2" y2="535.0" stroke="#222" stroke-width="0.7"/>
<text x="151.7" y="535.1" font-size="3.9" text-anchor="end" font-weight="normal" fill="#111" stroke="#111" stroke-width="0.15" dominant-baseline="central">0</text>
<rect x="152.7" y="451.4" width="3" height="4" fill="#fff"/>
<line x1="152.6" y1="455.2" x2="155.8" y2="451.6" stroke="#222" stroke-width="0.8"/>
<line x1="179.6" y1="535.4" x2="179.6" y2="537.4" stroke="#222" stroke-width="0.7"/>
<line x1="222.3" y1="535.4" x2="222.3" y2="537.4" stroke="#222" stroke-width="0.7"/>
<text x="179.6" y="542.5" font-size="5.7" text-anchor="middle" font-weight="bold" fill="#111" stroke="#111" stroke-width="0.2" dominant-baseline="central">Myometrium</text>
<text x="222.3" y="542.5" font-size="5.7" text-anchor="middle" font-weight="bold" fill="#111" stroke="#111" stroke-width="0.2" dominant-baseline="central">Leiomyoma</text>
<text x="134.5" y="489.0" font-size="7.4" text-anchor="middle" font-weight="bold" fill="#111" stroke="#111" stroke-width="0.3" dominant-baseline="central" transform="rotate(-90 134.5 489.0)">Relative Expression</text>
<text x="143.3" y="489.0" font-size="5.5" text-anchor="middle" font-weight="bold" fill="#111" stroke="#111" stroke-width="0.12" dominant-baseline="central" transform="rotate(-90 143.3 489.0)">(HMX1/FBXW2)</text>
<circle cx="170.9" cy="533.2" r="1.8" fill="#dc80f4" stroke="#9b27d6" stroke-width="0.9"/>
<circle cx="174.5" cy="532.4" r="1.8" fill="#dc80f4" stroke="#9b27d6" stroke-width="0.9"/>
<circle cx="167.3" cy="531.5" r="1.8" fill="#dc80f4" stroke="#9b27d6" stroke-width="0.9"/>
<circle cx="178.1" cy="530.2" r="1.8" fill="#dc80f4" stroke="#9b27d6" stroke-width="0.9"/>
<circle cx="170.9" cy="529.4" r="1.8" fill="#dc80f4" stroke="#9b27d6" stroke-width="0.9"/>
<circle cx="174.5" cy="528.3" r="1.8" fill="#dc80f4" stroke="#9b27d6" stroke-width="0.9"/>
<circle cx="167.3" cy="527.5" r="1.8" fill="#dc80f4" stroke="#9b27d6" stroke-width="0.9"/>
<circle cx="163.7" cy="527.4" r="1.8" fill="#dc80f4" stroke="#9b27d6" stroke-width="0.9"/>
<circle cx="178.1" cy="526.4" r="1.8" fill="#dc80f4" stroke="#9b27d6" stroke-width="0.9"/>
<circle cx="170.9" cy="525.3" r="1.8" fill="#dc80f4" stroke="#9b27d6" stroke-width="0.9"/>
<circle cx="174.5" cy="524.0" r="1.8" fill="#dc80f4" stroke="#9b27d6" stroke-width="0.9"/>
<circle cx="167.3" cy="523.3" r="1.8" fill="#dc80f4" stroke="#9b27d6" stroke-width="0.9"/>
<circle cx="170.9" cy="520.6" r="1.8" fill="#dc80f4" stroke="#9b27d6" stroke-width="0.9"/>
<circle cx="174.5" cy="518.0" r="1.8" fill="#dc80f4" stroke="#9b27d6" stroke-width="0.9"/>
<circle cx="170.9" cy="516.6" r="1.8" fill="#dc80f4" stroke="#9b27d6" stroke-width="0.9"/>
<circle cx="167.3" cy="515.2" r="1.8" fill="#dc80f4" stroke="#9b27d6" stroke-width="0.9"/>
<circle cx="172.7" cy="513.5" r="1.8" fill="#dc80f4" stroke="#9b27d6" stroke-width="0.9"/>
<circle cx="169.1" cy="511.4" r="1.8" fill="#dc80f4" stroke="#9b27d6" stroke-width="0.9"/>
<circle cx="170.9" cy="448.4" r="1.8" fill="#dc80f4" stroke="#9b27d6" stroke-width="0.9"/>
<path d="M189.5 530.8L191.8 533.1L189.5 535.4L187.2 533.1Z" fill="#ffd900" stroke="#f07a00" stroke-width="0.9"/>
<path d="M193.1 529.6L195.4 531.9L193.1 534.2L190.8 531.9Z" fill="#ffd900" stroke="#f07a00" stroke-width="0.9"/>
<path d="M185.9 528.9L188.2 531.2L185.9 533.5L183.6 531.2Z" fill="#ffd900" stroke="#f07a00" stroke-width="0.9"/>
<path d="M196.7 528.2L199.0 530.5L196.7 532.8L194.4 530.5Z" fill="#ffd900" stroke="#f07a00" stroke-width="0.9"/>
<path d="M182.3 527.7L184.6 530.0L182.3 532.3L180.0 530.0Z" fill="#ffd900" stroke="#f07a00" stroke-width="0.9"/>
<path d="M189.5 526.4L191.8 528.7L189.5 531.0L187.2 528.7Z" fill="#ffd900" stroke="#f07a00" stroke-width="0.9"/>
<path d="M193.1 525.9L195.4 528.2L193.1 530.5L190.8 528.2Z" fill="#ffd900" stroke="#f07a00" stroke-width="0.9"/>
<path d="M185.9 525.5L188.2 527.8L185.9 530.1L183.6 527.8Z" fill="#ffd900" stroke="#f07a00" stroke-width="0.9"/>
<path d="M196.7 524.5L199.0 526.8L196.7 529.1L194.4 526.8Z" fill="#ffd900" stroke="#f07a00" stroke-width="0.9"/>
<path d="M182.3 523.6L184.6 525.9L182.3 528.2L180.0 525.9Z" fill="#ffd900" stroke="#f07a00" stroke-width="0.9"/>
<path d="M189.5 522.9L191.8 525.2L189.5 527.5L187.2 525.2Z" fill="#ffd900" stroke="#f07a00" stroke-width="0.9"/>
<path d="M195.9 522.6L198.2 524.9L195.9 527.2L193.6 524.9Z" fill="#ffd900" stroke="#f07a00" stroke-width="0.9"/>
<path d="M185.9 522.0L188.2 524.3L185.9 526.6L183.6 524.3Z" fill="#ffd900" stroke="#f07a00" stroke-width="0.9"/>
<path d="M183.6 521.6L185.9 523.9L183.6 526.2L181.3 523.9Z" fill="#ffd900" stroke="#f07a00" stroke-width="0.9"/>
<path d="M193.1 520.2L195.4 522.5L193.1 524.8L190.8 522.5Z" fill="#ffd900" stroke="#f07a00" stroke-width="0.9"/>
<path d="M190.0 520.0L192.3 522.3L190.0 524.6L187.7 522.3Z" fill="#ffd900" stroke="#f07a00" stroke-width="0.9"/>
<path d="M196.7 518.9L199.0 521.2L196.7 523.5L194.4 521.2Z" fill="#ffd900" stroke="#f07a00" stroke-width="0.9"/>
<path d="M185.9 518.4L188.2 520.7L185.9 523.0L183.6 520.7Z" fill="#ffd900" stroke="#f07a00" stroke-width="0.9"/>
<path d="M182.3 517.5L184.6 519.8L182.3 522.1L180.0 519.8Z" fill="#ffd900" stroke="#f07a00" stroke-width="0.9"/>
<path d="M191.4 517.2L193.7 519.5L191.4 521.8L189.1 519.5Z" fill="#ffd900" stroke="#f07a00" stroke-width="0.9"/>
<path d="M187.2 516.0L189.5 518.3L187.2 520.6L184.9 518.3Z" fill="#ffd900" stroke="#f07a00" stroke-width="0.9"/>
<path d="M194.9 514.7L197.2 517.0L194.9 519.3L192.6 517.0Z" fill="#ffd900" stroke="#f07a00" stroke-width="0.9"/>
<path d="M189.5 509.9L191.8 512.2L189.5 514.5L187.2 512.2Z" fill="#ffd900" stroke="#f07a00" stroke-width="0.9"/>
<path d="M189.5 503.7L191.8 506.0L189.5 508.3L187.2 506.0Z" fill="#ffd900" stroke="#f07a00" stroke-width="0.9"/>
<path d="M189.5 497.5L191.8 499.8L189.5 502.1L187.2 499.8Z" fill="#ffd900" stroke="#f07a00" stroke-width="0.9"/>
<path d="M189.5 490.1L191.8 492.4L189.5 494.7L187.2 492.4Z" fill="#ffd900" stroke="#f07a00" stroke-width="0.9"/>
<path d="M189.5 448.6L191.8 450.9L189.5 453.2L187.2 450.9Z" fill="#ffd900" stroke="#f07a00" stroke-width="0.9"/>
<circle cx="211.8" cy="533.2" r="1.8" fill="#dc80f4" stroke="#9b27d6" stroke-width="0.9"/>
<circle cx="215.4" cy="531.0" r="1.8" fill="#dc80f4" stroke="#9b27d6" stroke-width="0.9"/>
<circle cx="208.2" cy="530.3" r="1.8" fill="#dc80f4" stroke="#9b27d6" stroke-width="0.9"/>
<circle cx="211.8" cy="529.1" r="1.8" fill="#dc80f4" stroke="#9b27d6" stroke-width="0.9"/>
<circle cx="215.4" cy="527.5" r="1.8" fill="#dc80f4" stroke="#9b27d6" stroke-width="0.9"/>
<circle cx="206.4" cy="526.9" r="1.8" fill="#dc80f4" stroke="#9b27d6" stroke-width="0.9"/>
<circle cx="211.8" cy="525.4" r="1.8" fill="#dc80f4" stroke="#9b27d6" stroke-width="0.9"/>
<circle cx="217.2" cy="524.4" r="1.8" fill="#dc80f4" stroke="#9b27d6" stroke-width="0.9"/>
<circle cx="208.2" cy="523.5" r="1.8" fill="#dc80f4" stroke="#9b27d6" stroke-width="0.9"/>
<circle cx="213.6" cy="522.2" r="1.8" fill="#dc80f4" stroke="#9b27d6" stroke-width="0.9"/>
<circle cx="219.0" cy="521.3" r="1.8" fill="#dc80f4" stroke="#9b27d6" stroke-width="0.9"/>
<circle cx="210.0" cy="520.6" r="1.8" fill="#dc80f4" stroke="#9b27d6" stroke-width="0.9"/>
<circle cx="206.4" cy="519.5" r="1.8" fill="#dc80f4" stroke="#9b27d6" stroke-width="0.9"/>
<circle cx="213.6" cy="518.2" r="1.8" fill="#dc80f4" stroke="#9b27d6" stroke-width="0.9"/>
<circle cx="210.0" cy="516.5" r="1.8" fill="#dc80f4" stroke="#9b27d6" stroke-width="0.9"/>
<circle cx="211.8" cy="508.5" r="1.8" fill="#dc80f4" stroke="#9b27d6" stroke-width="0.9"/>
<circle cx="211.8" cy="450.9" r="1.8" fill="#dc80f4" stroke="#9b27d6" stroke-width="0.9"/>
<circle cx="211.8" cy="447.2" r="1.8" fill="#dc80f4" stroke="#9b27d6" stroke-width="0.9"/>
<path d="M233.7 528.6L236.0 530.9L233.7 533.2L231.4 530.9Z" fill="#ffd900" stroke="#f07a00" stroke-width="0.9"/>
<path d="M237.3 526.6L239.6 528.9L237.3 531.2L235.0 528.9Z" fill="#ffd900" stroke="#f07a00" stroke-width="0.9"/>
<path d="M233.7 524.9L236.0 527.2L233.7 529.5L231.4 527.2Z" fill="#ffd900" stroke="#f07a00" stroke-width="0.9"/>
<path d="M230.1 523.4L232.4 525.7L230.1 528.0L227.8 525.7Z" fill="#ffd900" stroke="#f07a00" stroke-width="0.9"/>
<path d="M235.5 521.8L237.8 524.1L235.5 526.4L233.2 524.1Z" fill="#ffd900" stroke="#f07a00" stroke-width="0.9"/>
<path d="M239.1 520.8L241.4 523.1L239.1 525.4L236.8 523.1Z" fill="#ffd900" stroke="#f07a00" stroke-width="0.9"/>
<path d="M231.9 519.1L234.2 521.4L231.9 523.7L229.6 521.4Z" fill="#ffd900" stroke="#f07a00" stroke-width="0.9"/>
<path d="M235.5 518.2L237.8 520.5L235.5 522.8L233.2 520.5Z" fill="#ffd900" stroke="#f07a00" stroke-width="0.9"/>
<path d="M239.1 517.1L241.4 519.4L239.1 521.7L236.8 519.4Z" fill="#ffd900" stroke="#f07a00" stroke-width="0.9"/>
<path d="M231.9 515.5L234.2 517.8L231.9 520.1L229.6 517.8Z" fill="#ffd900" stroke="#f07a00" stroke-width="0.9"/>
<path d="M235.5 514.8L237.8 517.1L235.5 519.4L233.2 517.1Z" fill="#ffd900" stroke="#f07a00" stroke-width="0.9"/>
<path d="M239.1 513.3L241.4 515.6L239.1 517.9L236.8 515.6Z" fill="#ffd900" stroke="#f07a00" stroke-width="0.9"/>
<path d="M230.1 512.4L232.4 514.7L230.1 517.0L227.8 514.7Z" fill="#ffd900" stroke="#f07a00" stroke-width="0.9"/>
<path d="M233.7 511.3L236.0 513.6L233.7 515.9L231.4 513.6Z" fill="#ffd900" stroke="#f07a00" stroke-width="0.9"/>
<path d="M237.3 510.0L239.6 512.3L237.3 514.6L235.0 512.3Z" fill="#ffd900" stroke="#f07a00" stroke-width="0.9"/>
<path d="M230.1 508.9L232.4 511.2L230.1 513.5L227.8 511.2Z" fill="#ffd900" stroke="#f07a00" stroke-width="0.9"/>
<path d="M240.9 508.0L243.2 510.3L240.9 512.6L238.6 510.3Z" fill="#ffd900" stroke="#f07a00" stroke-width="0.9"/>
<path d="M233.7 507.2L236.0 509.5L233.7 511.8L231.4 509.5Z" fill="#ffd900" stroke="#f07a00" stroke-width="0.9"/>
<path d="M237.3 505.8L239.6 508.1L237.3 510.4L235.0 508.1Z" fill="#ffd900" stroke="#f07a00" stroke-width="0.9"/>
<path d="M230.1 504.7L232.4 507.0L230.1 509.3L227.8 507.0Z" fill="#ffd900" stroke="#f07a00" stroke-width="0.9"/>
<path d="M233.7 503.5L236.0 505.8L233.7 508.1L231.4 505.8Z" fill="#ffd900" stroke="#f07a00" stroke-width="0.9"/>
<path d="M239.1 502.6L241.4 504.9L239.1 507.2L236.8 504.9Z" fill="#ffd900" stroke="#f07a00" stroke-width="0.9"/>
<path d="M228.3 501.5L230.6 503.8L228.3 506.1L226.0 503.8Z" fill="#ffd900" stroke="#f07a00" stroke-width="0.9"/>
<path d="M233.7 500.0L236.0 502.3L233.7 504.6L231.4 502.3Z" fill="#ffd900" stroke="#f07a00" stroke-width="0.9"/>
<path d="M237.3 499.5L239.6 501.8L237.3 504.1L235.0 501.8Z" fill="#ffd900" stroke="#f07a00" stroke-width="0.9"/>
<path d="M230.1 498.2L232.4 500.5L230.1 502.8L227.8 500.5Z" fill="#ffd900" stroke="#f07a00" stroke-width="0.9"/>
<path d="M233.7 496.6L236.0 498.9L233.7 501.2L231.4 498.9Z" fill="#ffd900" stroke="#f07a00" stroke-width="0.9"/>
<path d="M237.3 495.4L239.6 497.7L237.3 500.0L235.0 497.7Z" fill="#ffd900" stroke="#f07a00" stroke-width="0.9"/>
<path d="M231.9 493.6L234.2 495.9L231.9 498.2L229.6 495.9Z" fill="#ffd900" stroke="#f07a00" stroke-width="0.9"/>
<path d="M235.5 492.2L237.8 494.5L235.5 496.8L233.2 494.5Z" fill="#ffd900" stroke="#f07a00" stroke-width="0.9"/>
<path d="M230.1 490.5L232.4 492.8L230.1 495.1L227.8 492.8Z" fill="#ffd900" stroke="#f07a00" stroke-width="0.9"/>
<path d="M233.7 488.5L236.0 490.8L233.7 493.1L231.4 490.8Z" fill="#ffd900" stroke="#f07a00" stroke-width="0.9"/>
<path d="M233.7 466.7L236.0 469.0L233.7 471.3L231.4 469.0Z" fill="#ffd900" stroke="#f07a00" stroke-width="0.9"/>
<path d="M235.5 463.5L237.8 465.8L235.5 468.1L233.2 465.8Z" fill="#ffd900" stroke="#f07a00" stroke-width="0.9"/>
<path d="M233.7 448.1L236.0 450.4L233.7 452.7L231.4 450.4Z" fill="#ffd900" stroke="#f07a00" stroke-width="0.9"/>
<path d="M237.3 448.1L239.6 450.4L237.3 452.7L235.0 450.4Z" fill="#ffd900" stroke="#f07a00" stroke-width="0.9"/>
<path d="M230.1 448.1L232.4 450.4L230.1 452.7L227.8 450.4Z" fill="#ffd900" stroke="#f07a00" stroke-width="0.9"/>
<path d="M233.7 441.2L236.0 443.5L233.7 445.8L231.4 443.5Z" fill="#ffd900" stroke="#f07a00" stroke-width="0.9"/>
<line x1="170.9" y1="495.3" x2="170.9" y2="525.8" stroke="#222" stroke-width="0.85"/>
<line x1="168.3" y1="495.3" x2="173.5" y2="495.3" stroke="#222" stroke-width="0.85"/>
<line x1="168.3" y1="525.8" x2="173.5" y2="525.8" stroke="#222" stroke-width="0.85"/>
<line x1="160.7" y1="510.5" x2="181.1" y2="510.5" stroke="#111" stroke-width="1.4"/>
<line x1="189.5" y1="519.6" x2="189.5" y2="524.6" stroke="#222" stroke-width="0.85"/>
<line x1="186.9" y1="519.6" x2="192.1" y2="519.6" stroke="#222" stroke-width="0.85"/>
<line x1="186.9" y1="524.6" x2="192.1" y2="524.6" stroke="#222" stroke-width="0.85"/>
<line x1="179.6" y1="522.1" x2="199.4" y2="522.1" stroke="#111" stroke-width="1.4"/>
<line x1="211.8" y1="486.2" x2="211.8" y2="534.5" stroke="#222" stroke-width="0.85"/>
<line x1="209.2" y1="486.2" x2="214.4" y2="486.2" stroke="#222" stroke-width="0.85"/>
<line x1="209.2" y1="534.5" x2="214.4" y2="534.5" stroke="#222" stroke-width="0.85"/>
<line x1="201.6" y1="504.3" x2="222.0" y2="504.3" stroke="#111" stroke-width="1.4"/>
<line x1="233.7" y1="462.0" x2="233.7" y2="499.8" stroke="#222" stroke-width="0.85"/>
<line x1="231.1" y1="462.0" x2="236.3" y2="462.0" stroke="#222" stroke-width="0.85"/>
<line x1="231.1" y1="499.8" x2="236.3" y2="499.8" stroke="#222" stroke-width="0.85"/>
<line x1="223.2" y1="481.2" x2="244.2" y2="481.2" stroke="#111" stroke-width="1.4"/>
<line x1="189.5" y1="459.6" x2="232.2" y2="459.6" stroke="#555" stroke-width="0.9"/>
<path d="M207.8 454.7L207.8 457.9M206.5 455.5L209.2 457.1M209.2 455.5L206.5 457.1" stroke="#222" stroke-width="0.85" fill="none"/>
<path d="M210.8 454.7L210.8 457.9M209.5 455.5L212.2 457.1M212.2 455.5L209.5 457.1" stroke="#222" stroke-width="0.85" fill="none"/>
<path d="M213.8 454.7L213.8 457.9M212.5 455.5L215.2 457.1M215.2 455.5L212.5 457.1" stroke="#222" stroke-width="0.85" fill="none"/>
<line x1="212.3" y1="474.0" x2="232.2" y2="474.0" stroke="#555" stroke-width="0.9"/>
<path d="M220.8 469.1L220.8 472.3M219.4 469.9L222.1 471.5M222.1 469.9L219.4 471.5" stroke="#222" stroke-width="0.85" fill="none"/>
<path d="M223.8 469.1L223.8 472.3M222.4 469.9L225.1 471.5M225.1 469.9L222.4 471.5" stroke="#222" stroke-width="0.85" fill="none"/>
<text x="329.4" y="423.9" font-size="6.8" text-anchor="middle" font-weight="bold" fill="#111" stroke="#111" stroke-width="0.25" dominant-baseline="central">IGFBPL1</text>
<circle cx="286.0" cy="435.5" r="1.45" fill="#dc80f4" stroke="#9b27d6" stroke-width="0.9"/>
<text x="292.3" y="435.5" font-size="5.0" text-anchor="start" font-weight="bold" fill="#111" stroke="#111" stroke-width="0.12" dominant-baseline="central">MED12-WT</text>
<path d="M326.9 433.6L328.8 435.5L326.9 437.4L325.0 435.5Z" fill="#ffd900" stroke="#f07a00" stroke-width="0.9"/>
<text x="333.7" y="435.5" font-size="5.0" text-anchor="start" font-weight="bold" fill="#111" stroke="#111" stroke-width="0.12" dominant-baseline="central">MED12-Mut</text>
<line x1="278.5" y1="444.0" x2="278.5" y2="536.5" stroke="#222" stroke-width="1.1"/>
<line x1="277.9" y1="536.0" x2="373.9" y2="536.0" stroke="#222" stroke-width="1.1"/>
<line x1="276.5" y1="445.5" x2="278.5" y2="445.5" stroke="#222" stroke-width="0.7"/>
<text x="276.0" y="445.6" font-size="3.9" text-anchor="end" font-weight="normal" fill="#111" stroke="#111" stroke-width="0.15" dominant-baseline="central">20</text>
<line x1="276.5" y1="455.9" x2="278.5" y2="455.9" stroke="#222" stroke-width="0.7"/>
<text x="276.0" y="456.0" font-size="3.9" text-anchor="end" font-weight="normal" fill="#111" stroke="#111" stroke-width="0.15" dominant-baseline="central">10</text>
<line x1="276.5" y1="480.5" x2="278.5" y2="480.5" stroke="#222" stroke-width="0.7"/>
<text x="276.0" y="480.6" font-size="3.9" text-anchor="end" font-weight="normal" fill="#111" stroke="#111" stroke-width="0.15" dominant-baseline="central">4</text>
<line x1="276.5" y1="507.7" x2="278.5" y2="507.7" stroke="#222" stroke-width="0.7"/>
<text x="276.0" y="507.8" font-size="3.9" text-anchor="end" font-weight="normal" fill="#111" stroke="#111" stroke-width="0.15" dominant-baseline="central">2</text>
<line x1="276.5" y1="535.8" x2="278.5" y2="535.8" stroke="#222" stroke-width="0.7"/>
<text x="276.0" y="535.9" font-size="3.9" text-anchor="end" font-weight="normal" fill="#111" stroke="#111" stroke-width="0.15" dominant-baseline="central">0</text>
<line x1="277.0" y1="494.0" x2="278.5" y2="494.0" stroke="#222" stroke-width="0.6"/>
<line x1="277.0" y1="521.7" x2="278.5" y2="521.7" stroke="#222" stroke-width="0.6"/>
<rect x="277.0" y="462.5" width="3" height="4" fill="#fff"/>
<line x1="276.9" y1="466.3" x2="280.1" y2="462.7" stroke="#222" stroke-width="0.8"/>
<line x1="303.7" y1="536.0" x2="303.7" y2="538.0" stroke="#222" stroke-width="0.7"/>
<line x1="347.4" y1="536.0" x2="347.4" y2="538.0" stroke="#222" stroke-width="0.7"/>
<text x="303.7" y="542.5" font-size="5.7" text-anchor="middle" font-weight="bold" fill="#111" stroke="#111" stroke-width="0.2" dominant-baseline="central">Myometrium</text>
<text x="347.4" y="542.5" font-size="5.7" text-anchor="middle" font-weight="bold" fill="#111" stroke="#111" stroke-width="0.2" dominant-baseline="central">Leiomyoma</text>
<text x="258.8" y="490.3" font-size="7.4" text-anchor="middle" font-weight="bold" fill="#111" stroke="#111" stroke-width="0.3" dominant-baseline="central" transform="rotate(-90 258.8 490.3)">Relative Expression</text>
<text x="267.5" y="490.3" font-size="5.5" text-anchor="middle" font-weight="bold" fill="#111" stroke="#111" stroke-width="0.12" dominant-baseline="central" transform="rotate(-90 267.5 490.3)">(IGFBPL1/FBXW2)</text>
<circle cx="293.4" cy="530.0" r="1.8" fill="#dc80f4" stroke="#9b27d6" stroke-width="0.9"/>
<circle cx="297.0" cy="527.5" r="1.8" fill="#dc80f4" stroke="#9b27d6" stroke-width="0.9"/>
<circle cx="293.4" cy="526.1" r="1.8" fill="#dc80f4" stroke="#9b27d6" stroke-width="0.9"/>
<circle cx="289.8" cy="524.9" r="1.8" fill="#dc80f4" stroke="#9b27d6" stroke-width="0.9"/>
<circle cx="295.2" cy="523.0" r="1.8" fill="#dc80f4" stroke="#9b27d6" stroke-width="0.9"/>
<circle cx="298.8" cy="522.1" r="1.8" fill="#dc80f4" stroke="#9b27d6" stroke-width="0.9"/>
<circle cx="291.6" cy="520.6" r="1.8" fill="#dc80f4" stroke="#9b27d6" stroke-width="0.9"/>
<circle cx="295.2" cy="518.8" r="1.8" fill="#dc80f4" stroke="#9b27d6" stroke-width="0.9"/>
<circle cx="298.8" cy="517.9" r="1.8" fill="#dc80f4" stroke="#9b27d6" stroke-width="0.9"/>
<circle cx="291.6" cy="516.8" r="1.8" fill="#dc80f4" stroke="#9b27d6" stroke-width="0.9"/>
<circle cx="295.2" cy="514.9" r="1.8" fill="#dc80f4" stroke="#9b27d6" stroke-width="0.9"/>
<circle cx="289.8" cy="513.8" r="1.8" fill="#dc80f4" stroke="#9b27d6" stroke-width="0.9"/>
<circle cx="298.8" cy="512.3" r="1.8" fill="#dc80f4" stroke="#9b27d6" stroke-width="0.9"/>
<circle cx="293.4" cy="511.0" r="1.8" fill="#dc80f4" stroke="#9b27d6" stroke-width="0.9"/>
<circle cx="297.0" cy="509.2" r="1.8" fill="#dc80f4" stroke="#9b27d6" stroke-width="0.9"/>
<circle cx="293.4" cy="506.6" r="1.8" fill="#dc80f4" stroke="#9b27d6" stroke-width="0.9"/>
<circle cx="293.4" cy="494.3" r="1.8" fill="#dc80f4" stroke="#9b27d6" stroke-width="0.9"/>
<circle cx="293.4" cy="485.4" r="1.8" fill="#dc80f4" stroke="#9b27d6" stroke-width="0.9"/>
<circle cx="297.0" cy="485.4" r="1.8" fill="#dc80f4" stroke="#9b27d6" stroke-width="0.9"/>
<path d="M314.0 527.3L316.3 529.6L314.0 531.9L311.7 529.6Z" fill="#ffd900" stroke="#f07a00" stroke-width="0.9"/>
<path d="M315.8 524.4L318.1 526.7L315.8 529.0L313.5 526.7Z" fill="#ffd900" stroke="#f07a00" stroke-width="0.9"/>
<path d="M312.2 522.7L314.5 525.0L312.2 527.3L309.9 525.0Z" fill="#ffd900" stroke="#f07a00" stroke-width="0.9"/>
<path d="M317.6 521.3L319.9 523.6L317.6 525.9L315.3 523.6Z" fill="#ffd900" stroke="#f07a00" stroke-width="0.9"/>
<path d="M308.6 519.8L310.9 522.1L308.6 524.4L306.3 522.1Z" fill="#ffd900" stroke="#f07a00" stroke-width="0.9"/>
<path d="M314.0 518.4L316.3 520.7L314.0 523.0L311.7 520.7Z" fill="#ffd900" stroke="#f07a00" stroke-width="0.9"/>
<path d="M317.6 516.6L319.9 518.9L317.6 521.2L315.3 518.9Z" fill="#ffd900" stroke="#f07a00" stroke-width="0.9"/>
<path d="M312.2 515.5L314.5 517.8L312.2 520.1L309.9 517.8Z" fill="#ffd900" stroke="#f07a00" stroke-width="0.9"/>
<path d="M308.6 514.1L310.9 516.4L308.6 518.7L306.3 516.4Z" fill="#ffd900" stroke="#f07a00" stroke-width="0.9"/>
<path d="M314.0 512.3L316.3 514.6L314.0 516.9L311.7 514.6Z" fill="#ffd900" stroke="#f07a00" stroke-width="0.9"/>
<path d="M317.6 511.2L319.9 513.5L317.6 515.8L315.3 513.5Z" fill="#ffd900" stroke="#f07a00" stroke-width="0.9"/>
<path d="M310.4 510.1L312.7 512.4L310.4 514.7L308.1 512.4Z" fill="#ffd900" stroke="#f07a00" stroke-width="0.9"/>
<path d="M314.0 508.3L316.3 510.6L314.0 512.9L311.7 510.6Z" fill="#ffd900" stroke="#f07a00" stroke-width="0.9"/>
<path d="M317.6 507.2L319.9 509.5L317.6 511.8L315.3 509.5Z" fill="#ffd900" stroke="#f07a00" stroke-width="0.9"/>
<path d="M310.4 506.4L312.7 508.7L310.4 511.0L308.1 508.7Z" fill="#ffd900" stroke="#f07a00" stroke-width="0.9"/>
<path d="M321.2 505.0L323.5 507.3L321.2 509.6L318.9 507.3Z" fill="#ffd900" stroke="#f07a00" stroke-width="0.9"/>
<path d="M314.0 503.6L316.3 505.9L314.0 508.2L311.7 505.9Z" fill="#ffd900" stroke="#f07a00" stroke-width="0.9"/>
<path d="M317.6 502.3L319.9 504.6L317.6 506.9L315.3 504.6Z" fill="#ffd900" stroke="#f07a00" stroke-width="0.9"/>
<path d="M310.4 501.3L312.7 503.6L310.4 505.9L308.1 503.6Z" fill="#ffd900" stroke="#f07a00" stroke-width="0.9"/>
<path d="M314.0 499.6L316.3 501.9L314.0 504.2L311.7 501.9Z" fill="#ffd900" stroke="#f07a00" stroke-width="0.9"/>
<path d="M317.6 498.2L319.9 500.5L317.6 502.8L315.3 500.5Z" fill="#ffd900" stroke="#f07a00" stroke-width="0.9"/>
<path d="M310.4 497.0L312.7 499.3L310.4 501.6L308.1 499.3Z" fill="#ffd900" stroke="#f07a00" stroke-width="0.9"/>
<path d="M314.0 495.3L316.3 497.6L314.0 499.9L311.7 497.6Z" fill="#ffd900" stroke="#f07a00" stroke-width="0.9"/>
<path d="M317.6 493.4L319.9 495.7L317.6 498.0L315.3 495.7Z" fill="#ffd900" stroke="#f07a00" stroke-width="0.9"/>
<path d="M312.2 492.0L314.5 494.3L312.2 496.6L309.9 494.3Z" fill="#ffd900" stroke="#f07a00" stroke-width="0.9"/>
<path d="M315.8 490.2L318.1 492.5L315.8 494.8L313.5 492.5Z" fill="#ffd900" stroke="#f07a00" stroke-width="0.9"/>
<path d="M312.2 487.5L314.5 489.8L312.2 492.1L309.9 489.8Z" fill="#ffd900" stroke="#f07a00" stroke-width="0.9"/>
<path d="M314.0 459.8L316.3 462.1L314.0 464.4L311.7 462.1Z" fill="#ffd900" stroke="#f07a00" stroke-width="0.9"/>
<path d="M314.0 456.1L316.3 458.4L314.0 460.7L311.7 458.4Z" fill="#ffd900" stroke="#f07a00" stroke-width="0.9"/>
<circle cx="338.1" cy="532.5" r="1.8" fill="#dc80f4" stroke="#9b27d6" stroke-width="0.9"/>
<circle cx="341.7" cy="531.0" r="1.8" fill="#dc80f4" stroke="#9b27d6" stroke-width="0.9"/>
<circle cx="336.3" cy="529.4" r="1.8" fill="#dc80f4" stroke="#9b27d6" stroke-width="0.9"/>
<circle cx="332.7" cy="528.6" r="1.8" fill="#dc80f4" stroke="#9b27d6" stroke-width="0.9"/>
<circle cx="339.9" cy="527.1" r="1.8" fill="#dc80f4" stroke="#9b27d6" stroke-width="0.9"/>
<circle cx="343.5" cy="526.2" r="1.8" fill="#dc80f4" stroke="#9b27d6" stroke-width="0.9"/>
<circle cx="336.3" cy="524.7" r="1.8" fill="#dc80f4" stroke="#9b27d6" stroke-width="0.9"/>
<circle cx="332.7" cy="523.9" r="1.8" fill="#dc80f4" stroke="#9b27d6" stroke-width="0.9"/>
<circle cx="339.9" cy="522.9" r="1.8" fill="#dc80f4" stroke="#9b27d6" stroke-width="0.9"/>
<circle cx="343.5" cy="521.9" r="1.8" fill="#dc80f4" stroke="#9b27d6" stroke-width="0.9"/>
<circle cx="336.3" cy="520.5" r="1.8" fill="#dc80f4" stroke="#9b27d6" stroke-width="0.9"/>
<circle cx="332.7" cy="519.5" r="1.8" fill="#dc80f4" stroke="#9b27d6" stroke-width="0.9"/>
<circle cx="339.9" cy="518.2" r="1.8" fill="#dc80f4" stroke="#9b27d6" stroke-width="0.9"/>
<circle cx="336.3" cy="516.7" r="1.8" fill="#dc80f4" stroke="#9b27d6" stroke-width="0.9"/>
<circle cx="343.5" cy="515.3" r="1.8" fill="#dc80f4" stroke="#9b27d6" stroke-width="0.9"/>
<circle cx="338.1" cy="502.3" r="1.8" fill="#dc80f4" stroke="#9b27d6" stroke-width="0.9"/>
<circle cx="338.1" cy="489.9" r="1.8" fill="#dc80f4" stroke="#9b27d6" stroke-width="0.9"/>
<circle cx="338.1" cy="478.7" r="1.8" fill="#dc80f4" stroke="#9b27d6" stroke-width="0.9"/>
<circle cx="341.7" cy="478.2" r="1.8" fill="#dc80f4" stroke="#9b27d6" stroke-width="0.9"/>
<path d="M358.7 530.4L361.0 532.7L358.7 535.0L356.4 532.7Z" fill="#ffd900" stroke="#f07a00" stroke-width="0.9"/>
<path d="M360.5 527.4L362.8 529.7L360.5 532.0L358.2 529.7Z" fill="#ffd900" stroke="#f07a00" stroke-width="0.9"/>
<path d="M356.9 525.1L359.2 527.4L356.9 529.7L354.6 527.4Z" fill="#ffd900" stroke="#f07a00" stroke-width="0.9"/>
<path d="M360.5 522.3L362.8 524.6L360.5 526.9L358.2 524.6Z" fill="#ffd900" stroke="#f07a00" stroke-width="0.9"/>
<path d="M356.9 520.3L359.2 522.6L356.9 524.9L354.6 522.6Z" fill="#ffd900" stroke="#f07a00" stroke-width="0.9"/>
<path d="M360.5 518.6L362.8 520.9L360.5 523.2L358.2 520.9Z" fill="#ffd900" stroke="#f07a00" stroke-width="0.9"/>
<path d="M356.9 516.9L359.2 519.2L356.9 521.5L354.6 519.2Z" fill="#ffd900" stroke="#f07a00" stroke-width="0.9"/>
<path d="M360.5 514.8L362.8 517.1L360.5 519.4L358.2 517.1Z" fill="#ffd900" stroke="#f07a00" stroke-width="0.9"/>
<path d="M355.1 513.7L357.4 516.0L355.1 518.3L352.8 516.0Z" fill="#ffd900" stroke="#f07a00" stroke-width="0.9"/>
<path d="M358.7 511.4L361.0 513.7L358.7 516.0L356.4 513.7Z" fill="#ffd900" stroke="#f07a00" stroke-width="0.9"/>
<path d="M362.3 509.9L364.6 512.2L362.3 514.5L360.0 512.2Z" fill="#ffd900" stroke="#f07a00" stroke-width="0.9"/>
<path d="M356.9 508.3L359.2 510.6L356.9 512.9L354.6 510.6Z" fill="#ffd900" stroke="#f07a00" stroke-width="0.9"/>
<path d="M353.3 507.1L355.6 509.4L353.3 511.7L351.0 509.4Z" fill="#ffd900" stroke="#f07a00" stroke-width="0.9"/>
<path d="M358.7 504.8L361.0 507.1L358.7 509.4L356.4 507.1Z" fill="#ffd900" stroke="#f07a00" stroke-width="0.9"/>
<path d="M362.3 503.9L364.6 506.2L362.3 508.5L360.0 506.2Z" fill="#ffd900" stroke="#f07a00" stroke-width="0.9"/>
<path d="M356.9 501.8L359.2 504.1L356.9 506.4L354.6 504.1Z" fill="#ffd900" stroke="#f07a00" stroke-width="0.9"/>
<path d="M360.5 500.2L362.8 502.5L360.5 504.8L358.2 502.5Z" fill="#ffd900" stroke="#f07a00" stroke-width="0.9"/>
<path d="M356.9 498.4L359.2 500.7L356.9 503.0L354.6 500.7Z" fill="#ffd900" stroke="#f07a00" stroke-width="0.9"/>
<path d="M362.3 497.0L364.6 499.3L362.3 501.6L360.0 499.3Z" fill="#ffd900" stroke="#f07a00" stroke-width="0.9"/>
<path d="M358.7 495.4L361.0 497.7L358.7 500.0L356.4 497.7Z" fill="#ffd900" stroke="#f07a00" stroke-width="0.9"/>
<path d="M355.1 494.0L357.4 496.3L355.1 498.6L352.8 496.3Z" fill="#ffd900" stroke="#f07a00" stroke-width="0.9"/>
<path d="M360.5 492.2L362.8 494.5L360.5 496.8L358.2 494.5Z" fill="#ffd900" stroke="#f07a00" stroke-width="0.9"/>
<path d="M356.9 490.1L359.2 492.4L356.9 494.7L354.6 492.4Z" fill="#ffd900" stroke="#f07a00" stroke-width="0.9"/>
<path d="M360.5 487.8L362.8 490.1L360.5 492.4L358.2 490.1Z" fill="#ffd900" stroke="#f07a00" stroke-width="0.9"/>
<path d="M356.9 485.9L359.2 488.2L356.9 490.5L354.6 488.2Z" fill="#ffd900" stroke="#f07a00" stroke-width="0.9"/>
<path d="M360.5 484.0L362.8 486.3L360.5 488.6L358.2 486.3Z" fill="#ffd900" stroke="#f07a00" stroke-width="0.9"/>
<path d="M356.9 481.3L359.2 483.6L356.9 485.9L354.6 483.6Z" fill="#ffd900" stroke="#f07a00" stroke-width="0.9"/>
<path d="M360.5 478.5L362.8 480.8L360.5 483.1L358.2 480.8Z" fill="#ffd900" stroke="#f07a00" stroke-width="0.9"/>
<path d="M358.7 475.2L361.0 477.5L358.7 479.8L356.4 477.5Z" fill="#ffd900" stroke="#f07a00" stroke-width="0.9"/>
<path d="M358.7 469.2L361.0 471.5L358.7 473.8L356.4 471.5Z" fill="#ffd900" stroke="#f07a00" stroke-width="0.9"/>
<path d="M360.5 466.0L362.8 468.3L360.5 470.6L358.2 468.3Z" fill="#ffd900" stroke="#f07a00" stroke-width="0.9"/>
<path d="M356.9 465.2L359.2 467.5L356.9 469.8L354.6 467.5Z" fill="#ffd900" stroke="#f07a00" stroke-width="0.9"/>
<path d="M358.7 460.0L361.0 462.3L358.7 464.6L356.4 462.3Z" fill="#ffd900" stroke="#f07a00" stroke-width="0.9"/>
<path d="M362.3 459.2L364.6 461.5L362.3 463.8L360.0 461.5Z" fill="#ffd900" stroke="#f07a00" stroke-width="0.9"/>
<path d="M355.1 458.9L357.4 461.2L355.1 463.5L352.8 461.2Z" fill="#ffd900" stroke="#f07a00" stroke-width="0.9"/>
<path d="M365.9 457.9L368.2 460.2L365.9 462.5L363.6 460.2Z" fill="#ffd900" stroke="#f07a00" stroke-width="0.9"/>
<path d="M358.7 443.7L361.0 446.0L358.7 448.3L356.4 446.0Z" fill="#ffd900" stroke="#f07a00" stroke-width="0.9"/>
<line x1="293.4" y1="514.7" x2="293.4" y2="520.1" stroke="#222" stroke-width="0.85"/>
<line x1="290.8" y1="514.7" x2="296.0" y2="514.7" stroke="#222" stroke-width="0.85"/>
<line x1="290.8" y1="520.1" x2="296.0" y2="520.1" stroke="#222" stroke-width="0.85"/>
<line x1="284.4" y1="517.7" x2="302.4" y2="517.7" stroke="#111" stroke-width="1.4"/>
<line x1="314.0" y1="512.7" x2="314.0" y2="519.1" stroke="#222" stroke-width="0.85"/>
<line x1="311.4" y1="512.7" x2="316.6" y2="512.7" stroke="#222" stroke-width="0.85"/>
<line x1="311.4" y1="519.1" x2="316.6" y2="519.1" stroke="#222" stroke-width="0.85"/>
<line x1="304.3" y1="515.9" x2="323.7" y2="515.9" stroke="#111" stroke-width="1.4"/>
<line x1="338.1" y1="518.4" x2="338.1" y2="524.1" stroke="#222" stroke-width="0.85"/>
<line x1="335.5" y1="518.4" x2="340.7" y2="518.4" stroke="#222" stroke-width="0.85"/>
<line x1="335.5" y1="524.1" x2="340.7" y2="524.1" stroke="#222" stroke-width="0.85"/>
<line x1="328.6" y1="521.6" x2="347.6" y2="521.6" stroke="#111" stroke-width="1.4"/>
<line x1="358.7" y1="491.9" x2="358.7" y2="502.8" stroke="#222" stroke-width="0.85"/>
<line x1="356.1" y1="491.9" x2="361.3" y2="491.9" stroke="#222" stroke-width="0.85"/>
<line x1="356.1" y1="502.8" x2="361.3" y2="502.8" stroke="#222" stroke-width="0.85"/>
<line x1="349.2" y1="497.3" x2="368.2" y2="497.3" stroke="#111" stroke-width="1.4"/>
<line x1="314.5" y1="444.0" x2="357.2" y2="444.0" stroke="#555" stroke-width="0.9"/>
<path d="M335.9 439.1L335.9 442.3M334.5 439.9L337.2 441.5M337.2 439.9L334.5 441.5" stroke="#222" stroke-width="0.85" fill="none"/>
<line x1="338.0" y1="454.6" x2="357.2" y2="454.6" stroke="#555" stroke-width="0.9"/>
<path d="M346.1 449.7L346.1 452.9M344.7 450.5L347.5 452.1M347.5 450.5L344.7 452.1" stroke="#222" stroke-width="0.85" fill="none"/>
<path d="M349.1 449.7L349.1 452.9M347.7 450.5L350.5 452.1M350.5 450.5L347.7 452.1" stroke="#222" stroke-width="0.85" fill="none"/>
</svg></body></html>
